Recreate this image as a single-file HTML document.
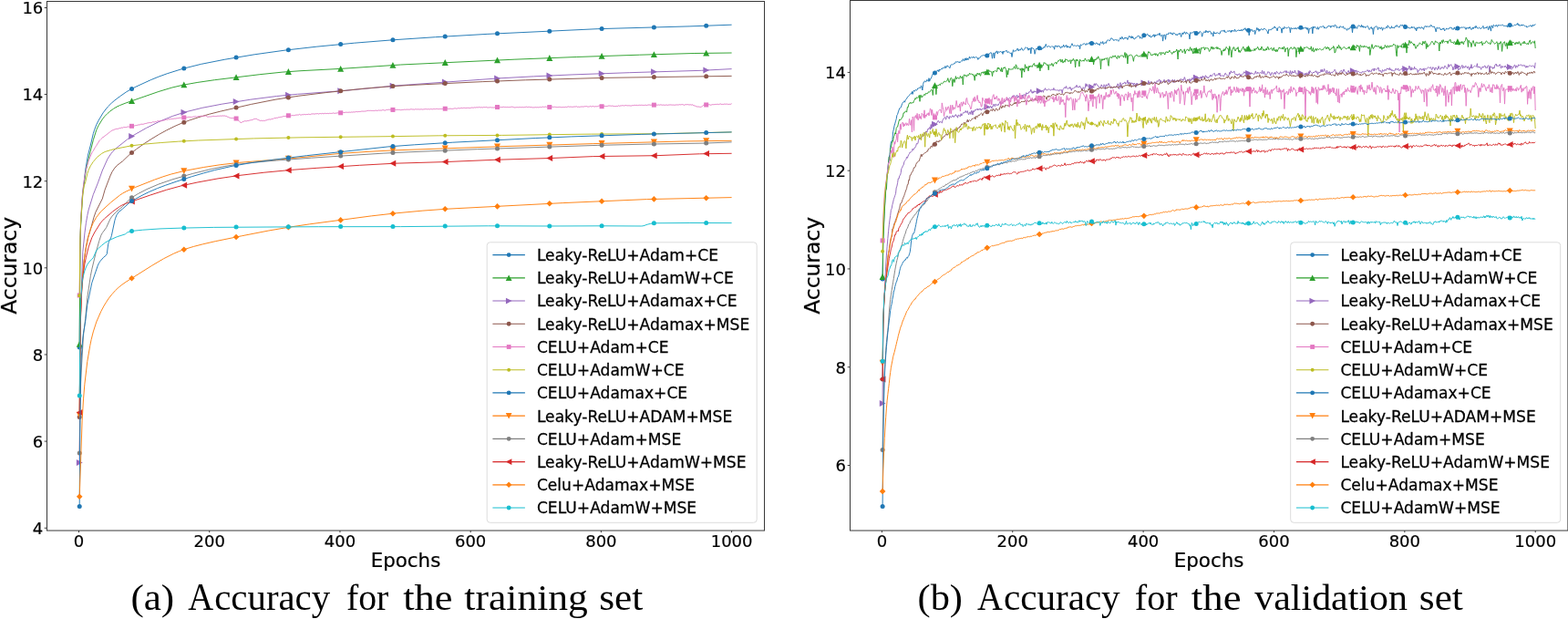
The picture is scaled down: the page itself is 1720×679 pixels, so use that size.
<!DOCTYPE html><html><head><meta charset="utf-8"><title>Accuracy curves</title><style>
html,body{margin:0;padding:0;background:#fff;width:1720px;height:679px;overflow:hidden}
svg{display:block}
.tk{font-family:'DejaVu Sans', 'Liberation Sans', sans-serif;font-size:18px;fill:#000;stroke:#000;stroke-width:0.2px}
.lg{font-family:'DejaVu Sans', 'Liberation Sans', sans-serif;font-size:17.1px;fill:#000;stroke:#000;stroke-width:0.28px}
.xl{font-family:'DejaVu Sans', 'Liberation Sans', sans-serif;font-size:21.4px;fill:#000;stroke:#000;stroke-width:0.22px}
.yl{font-family:'DejaVu Sans', 'Liberation Sans', sans-serif;font-size:23.4px;fill:#000;stroke:#000;stroke-width:0.22px}
.cap{font-family:'Liberation Serif','DejaVu Serif',serif;fill:#000}
.ax{stroke:#383838;stroke-width:1;fill:none}
.ln path{fill:none;stroke-width:0.95;stroke-linejoin:round;stroke-linecap:butt}
</style></head><body>
<svg width="1720" height="679" viewBox="0 0 1720 679">
<rect width="1720" height="679" fill="#fff"/>
<g class="ln">
<path d="M87.2 381L87.9 268L88.6 245L90.1 219L90.8 210L92.2 200L93.7 186.3L96.5 170.1L99.4 159L102.3 146.5L103.7 142.2L105.8 136.8L108 132.3L113 123.9L115.9 120L118.7 116.7L122.3 113.1L125.9 110L131.6 105.7L138.8 100.7L143.1 98.2L148.1 95.6L165.3 87.7L173.9 84.2L183.2 80.8L200.4 75.4L220.4 70.4L246.2 65.3L279.1 59.8L312.1 55.2L347.2 51.2L388.7 47.2L430.9 43.8L477.5 40.7L534.1 37.4L655.1 31.7L756.1 28.9L802.6 27.2" stroke="#1f77b4"/>
<circle cx="87.22" cy="381.00" r="2.50" fill="#1f77b4"/><circle cx="144.50" cy="97.40" r="2.50" fill="#1f77b4"/><circle cx="201.79" cy="75.00" r="2.50" fill="#1f77b4"/><circle cx="259.08" cy="63.00" r="2.50" fill="#1f77b4"/><circle cx="316.37" cy="54.70" r="2.50" fill="#1f77b4"/><circle cx="373.66" cy="48.60" r="2.50" fill="#1f77b4"/><circle cx="430.94" cy="43.80" r="2.50" fill="#1f77b4"/><circle cx="488.23" cy="40.00" r="2.50" fill="#1f77b4"/><circle cx="545.52" cy="36.80" r="2.50" fill="#1f77b4"/><circle cx="602.81" cy="34.20" r="2.50" fill="#1f77b4"/><circle cx="660.10" cy="31.50" r="2.50" fill="#1f77b4"/><circle cx="717.38" cy="30.00" r="2.50" fill="#1f77b4"/><circle cx="774.67" cy="28.30" r="2.50" fill="#1f77b4"/>
<path d="M87.2 377.5L87.9 270L88.6 247L90.1 221L90.8 212L94.4 186.4L96.5 176.7L102.3 153.7L105.8 142.5L108 137.8L112.3 130.8L115.1 127.3L118 124.4L120.9 121.9L124.5 119.3L128 117.2L131.6 115.5L138.8 112.7L173.9 100.5L188.2 96.2L200.4 93.3L216.1 90.5L235.4 87.7L284.9 81.7L309.9 79.1L330 77.7L375.1 75.3L439.5 71L564.1 65.2L632.2 62.5L701.6 60.2L761.1 58.5L802.6 58" stroke="#2ca02c"/>
<polygon points="87.22,374.00 90.72,380.82 83.72,380.82" fill="#2ca02c"/><polygon points="144.50,107.20 148.00,114.03 141.00,114.03" fill="#2ca02c"/><polygon points="201.79,89.50 205.29,96.33 198.29,96.33" fill="#2ca02c"/><polygon points="259.08,81.30 262.58,88.12 255.58,88.12" fill="#2ca02c"/><polygon points="316.37,75.10 319.87,81.92 312.87,81.92" fill="#2ca02c"/><polygon points="373.66,71.90 377.16,78.73 370.16,78.73" fill="#2ca02c"/><polygon points="430.94,68.00 434.44,74.83 427.44,74.83" fill="#2ca02c"/><polygon points="488.23,65.10 491.73,71.92 484.73,71.92" fill="#2ca02c"/><polygon points="545.52,62.50 549.02,69.33 542.02,69.33" fill="#2ca02c"/><polygon points="602.81,60.10 606.31,66.92 599.31,66.92" fill="#2ca02c"/><polygon points="660.10,58.00 663.60,64.83 656.60,64.83" fill="#2ca02c"/><polygon points="717.38,56.20 720.88,63.03 713.88,63.03" fill="#2ca02c"/><polygon points="774.67,54.80 778.17,61.62 771.17,61.62" fill="#2ca02c"/>
<path d="M87.2 507.4L87.9 385L88.6 342L89.4 315L90.8 276.7L92.9 255.9L94.4 244.6L95.8 236.4L97.2 230L102.3 213.4L107.3 200.9L112.3 187L118 174.3L121.6 168.8L123.7 166.3L126.6 163.3L139.5 153L144.5 149.5L160.3 140.5L175.3 133.1L189.6 127.3L203.2 122.9L221.8 118.3L243.3 114.2L274.8 109.2L303.5 105.5L326.4 103.3L375.8 99.6L433.8 94L547 85.9L585.6 83.8L627.9 81.9L690.2 79.7L769.7 77.3L802.6 75.6" stroke="#9467bd"/>
<polygon points="90.72,507.40 83.89,503.90 83.89,510.90" fill="#9467bd"/><polygon points="148.00,149.50 141.18,146.00 141.18,153.00" fill="#9467bd"/><polygon points="205.29,123.30 198.47,119.80 198.47,126.80" fill="#9467bd"/><polygon points="262.58,111.60 255.76,108.10 255.76,115.10" fill="#9467bd"/><polygon points="319.87,104.20 313.04,100.70 313.04,107.70" fill="#9467bd"/><polygon points="377.16,99.80 370.33,96.30 370.33,103.30" fill="#9467bd"/><polygon points="434.44,94.20 427.62,90.70 427.62,97.70" fill="#9467bd"/><polygon points="491.73,90.10 484.91,86.60 484.91,93.60" fill="#9467bd"/><polygon points="549.02,86.00 542.20,82.50 542.20,89.50" fill="#9467bd"/><polygon points="606.31,83.00 599.48,79.50 599.48,86.50" fill="#9467bd"/><polygon points="663.60,80.70 656.77,77.20 656.77,84.20" fill="#9467bd"/><polygon points="720.88,78.80 714.06,75.30 714.06,82.30" fill="#9467bd"/><polygon points="778.17,77.10 771.35,73.60 771.35,80.60" fill="#9467bd"/>
<path d="M87.2 457.5L87.9 378L88.6 343L89.4 322L90.1 310L92.2 285.7L94.4 271.2L96.5 260.9L100.1 248.9L103 238.2L105.1 232.3L112.3 218L115.1 208.1L120.9 193L123 188.5L125.9 184.1L128.7 181.2L134.5 176.8L143.1 168.6L149.5 163.7L158.1 157.6L166 152.5L174.6 147.3L182.5 143L191.1 138.7L198.9 135.3L208.2 131.8L219 128.3L229.7 125.2L241.9 122.1L275.6 114.4L302 109.2L327.1 105.3L357.2 101.6L398 97.3L423.8 95.1L448.8 93.5L529.8 89.6L576.3 87.8L662.2 85.4L802.6 83.4" stroke="#8c564b"/>
<circle cx="87.22" cy="457.50" r="2.50" fill="#8c564b"/><circle cx="144.50" cy="167.40" r="2.50" fill="#8c564b"/><circle cx="201.79" cy="134.20" r="2.50" fill="#8c564b"/><circle cx="259.08" cy="118.00" r="2.50" fill="#8c564b"/><circle cx="316.37" cy="106.90" r="2.50" fill="#8c564b"/><circle cx="373.66" cy="99.80" r="2.50" fill="#8c564b"/><circle cx="430.94" cy="94.60" r="2.50" fill="#8c564b"/><circle cx="488.23" cy="91.60" r="2.50" fill="#8c564b"/><circle cx="545.52" cy="88.90" r="2.50" fill="#8c564b"/><circle cx="602.81" cy="86.90" r="2.50" fill="#8c564b"/><circle cx="660.10" cy="85.40" r="2.50" fill="#8c564b"/><circle cx="717.38" cy="84.50" r="2.50" fill="#8c564b"/><circle cx="774.67" cy="83.80" r="2.50" fill="#8c564b"/>
<path d="M87.2 324L87.9 266L88.6 243L89.4 228.8L90.1 217.7L90.8 209.9L91.5 203.7L92.2 198.5L92.9 193.4L93.7 189.9L94.4 186.1L95.1 183.1L95.8 180.7L96.5 178.4L97.2 176.3L98 174.4L98.7 172.6L99.4 170.9L100.1 169.4L100.8 167.7L101.5 166.5L102.3 165.5L103 164.1L103.7 162.8L104.4 161.6L105.1 160.6L105.8 159.7L106.6 158.2L107.3 157.1L108 156.2L108.7 154.7L109.4 153.9L110.1 153.3L110.8 152.6L111.6 151.9L112.3 151.3L113 150.2L113.7 150.3L114.4 149.5L115.1 148.9L115.9 148.6L116.6 148.1L117.3 147.3L118 146.7L118.7 146.3L119.4 145.7L120.2 145.3L120.9 144.5L121.6 143.8L122.3 143.5L123 143.1L123.7 142.7L124.5 142.6L125.2 142.2L125.9 142L126.6 141.7L127.3 141.5L128 141.1L128.7 141.4L129.5 141.3L130.2 140.8L130.9 140.9L131.6 140.6L132.3 140.6L133 140L133.8 140L134.5 140.2L135.2 140.1L135.9 139.3L136.6 139.6L137.3 139.7L138.1 139.5L138.8 139.8L139.5 139.1L140.2 139.1L140.9 138.8L141.6 139.1L142.4 138.5L143.1 138.4L143.8 138.2L144.5 138.3L145.2 138.3L145.9 138.3L146.7 138.2L147.4 138L148.1 137.8L148.8 137.6L149.5 137.5L150.2 137.6L150.9 137.1L151.7 137L152.4 136.9L153.1 136.9L153.8 136.7L154.5 136.3L155.2 136.2L156 136.3L156.7 136.3L157.4 136.2L158.1 136L158.8 135.6L159.5 135.5L160.3 135.4L161 135.4L161.7 134.9L162.4 134.8L163.1 134.7L163.8 134.6L164.6 134.5L165.3 134.7L166 134.5L166.7 134.3L167.4 133.7L168.1 134L168.9 133.7L169.6 133.9L170.3 133.4L171 133.7L171.7 133.5L172.4 132.9L173.1 132.8L173.9 132.7L174.6 132.8L175.3 132.9L176 133L176.7 132.6L177.4 132.5L178.2 132.1L178.9 132.3L179.6 132L180.3 132L181 131.4L181.7 131.4L182.5 131.1L183.2 131.4L183.9 131.1L184.6 130.8L185.3 130.8L186 130.8L186.8 130.7L187.5 130.4L188.2 130.4L188.9 130.7L189.6 130.3L190.3 130.3L191.1 130.1L191.8 130L192.5 130.1L193.2 130L193.9 129.7L194.6 129.7L195.3 129.6L196.1 129.7L196.8 129.2L197.5 129.2L198.2 129.3L198.9 129.1L199.6 128.9L200.4 128.7L201.1 128.7L201.8 128.9L202.5 128.8L203.2 128.8L203.9 128.8L204.7 128.8L205.4 128.9L206.1 128.2L206.8 128.5L207.5 128.3L208.2 128.4L209 128.4L209.7 128.4L210.4 128.5L211.1 128.2L211.8 128.2L212.5 128L213.2 127.9L214 128L214.7 127.7L215.4 128.1L216.1 127.9L216.8 128L217.5 127.6L218.3 127.4L219 127.4L219.7 127.5L220.4 127.2L221.1 127.4L221.8 127.4L222.6 127.5L223.3 127.2L224 127.4L224.7 127L225.4 126.9L226.1 127.2L226.9 127.6L227.6 128.2L228.3 128.3L229 127.9L229.7 128L230.4 128.1L231.2 127.8L231.9 127.9L232.6 127.8L233.3 127.4L234 127.7L234.7 127.4L235.4 127.6L236.2 127.6L236.9 127.7L237.6 127.5L238.3 127.3L239 127.4L239.7 127.2L240.5 127.3L241.2 127.1L241.9 127.1L242.6 127.2L243.3 127.1L244 127.2L244.8 126.9L245.5 127.1L246.2 126.9L246.9 127.2L247.6 127.4L248.3 127.3L249.1 127.9L249.8 128.3L250.5 128.4L251.2 128.9L251.9 129.1L252.6 129.3L253.4 129.5L254.1 129.4L254.8 129.6L255.5 129.5L256.2 129.7L256.9 129.7L257.6 129.5L258.4 129.7L259.1 130L259.8 130.1L260.5 131.3L261.2 131.8L261.9 132.3L262.7 133.1L263.4 133.9L264.1 134.8L264.8 134.3L265.5 134L266.2 133.6L267 133L267.7 133.2L268.4 132.7L269.1 132.8L269.8 132.8L270.5 132.8L271.3 132.4L272 132.9L272.7 132.3L273.4 132.2L274.1 131.9L274.8 131.8L275.6 131.7L276.3 131.6L277 131.2L277.7 131.1L278.4 130.7L279.1 130.3L279.8 130.5L280.6 130.3L281.3 130.3L282 130.8L282.7 131.3L283.4 131.5L284.1 131.7L284.9 132.2L285.6 132.5L286.3 132.3L287 132.4L287.7 132.3L288.4 132.6L289.2 132.1L289.9 132.4L290.6 132.5L291.3 131.9L292 132.1L292.7 131.7L293.5 131.3L294.2 131.3L294.9 130.9L295.6 130.9L296.3 131.2L297 130.6L297.7 130.8L298.5 130.4L299.2 130.5L299.9 130.3L300.6 129.6L301.3 129.6L302 129.6L302.8 129.4L303.5 129.2L304.2 129.3L304.9 129.1L305.6 128.7L306.3 128.7L307.1 128.7L307.8 128.3L308.5 128.3L309.2 128.3L309.9 127.9L310.6 127.6L311.4 127.5L312.1 127.7L312.8 127.6L313.5 127.4L314.2 127.4L314.9 127.2L315.7 127.1L316.4 126.8L317.1 127L317.8 126.7L318.5 126.6L319.2 126.9L319.9 126.7L320.7 126.6L321.4 126.6L322.1 126.4L322.8 126.9L323.5 126.5L324.2 126.1L325 126.2L325.7 126.1L326.4 126L327.1 126.1L327.8 125.9L328.5 125.4L329.3 126L330 125.8L330.7 126.1L331.4 125.7L332.1 125.5L332.8 126L333.6 125.4L334.3 125.6L335 125.8L335.7 125.6L336.4 125.5L337.1 125.5L337.9 125.6L338.6 125.2L339.3 125.4L340 125.4L340.7 125.6L341.4 125.1L342.1 124.9L342.9 125L343.6 124.9L344.3 125L345 125L345.7 125L346.4 124.7L347.2 124.9L347.9 124.6L348.6 124.6L349.3 125.1L350 124.7L350.7 124.6L351.5 124.5L352.2 124.8L352.9 124.7L353.6 124.4L354.3 124.7L355 124.6L355.8 124.6L356.5 124.3L357.2 124.6L357.9 124.5L358.6 124.5L359.3 124.4L360.1 124.5L360.8 124.6L361.5 124.3L362.2 124.5L362.9 124.3L363.6 124.4L364.3 124.4L365.1 124.2L365.8 123.8L366.5 124.3L367.2 124.3L367.9 124.2L368.6 124.2L369.4 124L370.1 123.9L370.8 123.8L371.5 123.9L372.2 123.8L372.9 123.6L373.7 123.8L374.4 123.6L375.1 123.8L375.8 123.5L376.5 123.3L377.2 123.5L378 123.5L378.7 123.3L379.4 123.2L380.1 123.3L380.8 123.2L381.5 123.3L382.2 123.1L383 123.4L383.7 123.1L384.4 123.3L385.1 122.8L385.8 123.1L386.5 123.1L387.3 122.9L388 122.9L388.7 122.9L389.4 122.9L390.1 122.6L390.8 122.5L391.6 122.6L392.3 122.7L393 122.5L393.7 122.5L394.4 122.5L395.1 122.5L395.9 122.2L396.6 122.1L397.3 122.1L398 122L398.7 122.1L399.4 122.2L400.2 122.1L400.9 121.7L401.6 122L402.3 121.4L403 121.7L403.7 121.3L404.4 121.3L405.2 121.4L405.9 121.3L406.6 121.3L407.3 121.4L408 121.5L408.7 121.4L409.5 121.5L410.2 121.6L410.9 121.4L411.6 121.2L412.3 121.2L413 121.3L413.8 121.3L414.5 121.3L415.2 121L415.9 120.9L416.6 121.2L417.3 121L418.1 121.2L418.8 121L419.5 120.7L420.2 120.7L420.9 120.7L421.6 121L422.4 121.2L423.1 120.7L423.8 120.6L424.5 120.3L425.2 120.6L425.9 120.4L426.6 120.1L427.4 120.4L428.1 120L428.8 120.4L429.5 120.4L430.2 120.1L430.9 120.4L431.7 120.6L432.4 120.1L433.1 120.2L433.8 120.5L434.5 120.5L435.2 120.3L436 120.3L436.7 120.4L437.4 120.3L438.1 120.5L438.8 120.4L439.5 120.7L440.3 120.6L441 120.4L441.7 120.4L442.4 120.4L443.1 120.3L443.8 120L444.5 120.3L445.3 120.1L446 120.3L446.7 120.1L447.4 120.1L448.1 120L448.8 120.3L449.6 120.1L450.3 119.8L451 119.9L451.7 119.8L452.4 120L453.1 119.9L453.9 120.1L454.6 120.2L455.3 119.8L456 119.9L456.7 119.8L457.4 120L458.2 119.8L458.9 119.8L459.6 120L460.3 120L461 119.8L461.7 119.9L462.5 119.8L463.2 120L463.9 120.1L464.6 119.9L465.3 119.8L466 119.8L466.7 119.6L467.5 119.7L468.2 119.7L468.9 119.9L469.6 119.8L470.3 119.6L471 120L471.8 119.9L472.5 119.5L473.2 119.7L473.9 119.8L474.6 119.8L475.3 119.5L476.1 119.8L476.8 119.4L477.5 119.7L478.2 119.4L478.9 119.4L479.6 119.4L480.4 119.6L481.1 119.5L481.8 119.7L482.5 119.5L483.2 119.4L483.9 119.7L484.7 119.5L485.4 119.4L486.1 119.7L486.8 119.3L487.5 119.4L488.2 119.2L488.9 119.4L489.7 118.9L490.4 118.8L491.1 119.1L491.8 119.5L492.5 119.3L493.2 119.2L494 119.4L494.7 119.2L495.4 119.4L496.1 119.5L496.8 119.3L497.5 119.2L498.3 118.9L499 119L499.7 118.8L500.4 119.1L501.1 119.4L501.8 118.8L502.6 118.6L503.3 118.7L504 118.8L504.7 118.8L505.4 118.6L506.1 118.4L506.9 118.4L507.6 118.7L508.3 118.3L509 118.5L509.7 118.3L510.4 118.5L511.1 118.5L511.9 118.4L512.6 118.4L513.3 118.2L514 118.5L514.7 118.5L515.4 118.5L516.2 118.5L516.9 118.1L517.6 118L518.3 118.1L519 118.3L519.7 118.1L520.5 117.8L521.2 118.1L521.9 117.9L522.6 117.8L523.3 117.7L524 117.9L524.8 117.9L525.5 117.4L526.2 117.8L526.9 117.8L527.6 117.8L528.3 117.7L529 118L529.8 117.9L530.5 117.5L531.2 117.7L531.9 117.6L532.6 117.7L533.3 117.4L534.1 118L534.8 117.8L535.5 118L536.2 117.8L536.9 117.9L537.6 117.8L538.4 117.7L539.1 117.9L539.8 118.1L540.5 117.9L541.2 118.2L541.9 117.9L542.7 117.8L543.4 118.1L544.1 117.7L544.8 117.9L545.5 117.5L546.2 117.6L547 117.3L547.7 117.3L548.4 117.6L549.1 117.6L549.8 117.6L550.5 117.6L551.2 117.6L552 117.2L552.7 117.3L553.4 117.5L554.1 117.4L554.8 117.5L555.5 117.6L556.3 117.5L557 117.3L557.7 117.7L558.4 117.6L559.1 117.6L559.8 117.5L560.6 117.3L561.3 117.1L562 117.5L562.7 117.3L563.4 117.6L564.1 117.8L564.9 118L565.6 117.8L566.3 117.7L567 117.8L567.7 117.6L568.4 117.8L569.2 117.6L569.9 117.5L570.6 117.6L571.3 117.6L572 117.9L572.7 117.6L573.4 117.5L574.2 117.8L574.9 117.7L575.6 117.5L576.3 117.5L577 117.2L577.7 117.2L578.5 117.6L579.2 117.4L579.9 117.5L580.6 117.3L581.3 117.6L582 117.6L582.8 117.6L583.5 117.7L584.2 117.7L584.9 118.2L585.6 117.8L586.3 117.8L587.1 117.9L587.8 117.5L588.5 117.8L589.2 117.7L589.9 117.7L590.6 117.8L591.4 117.8L592.1 117.3L592.8 117.5L593.5 117.7L594.2 117.5L594.9 117.3L595.6 117.1L596.4 117.4L597.1 117.3L597.8 117.2L598.5 117L599.2 117.6L599.9 116.9L600.7 117.1L601.4 117.7L602.1 117.4L602.8 117.5L603.5 117.1L604.2 117.6L605 117.1L605.7 117.4L606.4 117.3L607.1 117.3L607.8 117.5L608.5 117.2L609.3 117.4L610 117.5L610.7 117.5L611.4 117.6L612.1 117.6L612.8 117.4L613.5 117.4L614.3 117.4L615 117.4L615.7 117.8L616.4 117.6L617.1 117.7L617.8 117.5L618.6 117.5L619.3 117.7L620 117.3L620.7 117.3L621.4 117.6L622.1 117.2L622.9 117.2L623.6 116.9L624.3 117.2L625 117.1L625.7 117.2L626.4 117.1L627.2 117.3L627.9 117.4L628.6 117.2L629.3 117.2L630 117L630.7 117L631.5 117L632.2 116.7L632.9 117L633.6 117.4L634.3 117.2L635 117.1L635.7 117.4L636.5 117.2L637.2 117L637.9 117.1L638.6 117L639.3 117L640 117.2L640.8 116.9L641.5 116.7L642.2 116.7L642.9 116.8L643.6 116.6L644.3 117L645.1 117L645.8 117.1L646.5 117L647.2 116.6L647.9 116.4L648.6 117L649.4 116.8L650.1 116.3L650.8 116.7L651.5 116.9L652.2 117L652.9 116.8L653.7 116.7L654.4 116.8L655.1 116.8L655.8 116.6L656.5 116.3L657.2 116L657.9 116.2L658.7 116.4L659.4 116.7L660.1 116.7L660.8 116.4L661.5 116.4L662.2 116.4L663 116.7L663.7 116.3L664.4 116.6L665.1 116.6L665.8 116.4L666.5 116.4L667.3 116L668 116.3L668.7 116L669.4 116.1L670.1 116.1L670.8 116.4L671.6 116.1L672.3 116.3L673 116.3L673.7 116.6L674.4 116.7L675.1 116.5L675.9 116.7L676.6 116.4L677.3 116.6L678 116.2L678.7 115.8L679.4 116.3L680.1 116.2L680.9 115.9L681.6 115.9L682.3 115.8L683 115.9L683.7 115.7L684.4 116.1L685.2 115.8L685.9 115.5L686.6 115.5L687.3 115.8L688 115.7L688.7 115.9L689.5 115.8L690.2 115.8L690.9 115.9L691.6 116L692.3 116.1L693 115.9L693.8 115.6L694.5 115.7L695.2 115.4L695.9 115.7L696.6 115.3L697.3 115.6L698 115.3L698.8 115.4L699.5 115.7L700.2 115.6L700.9 115.2L701.6 115.3L702.3 115.4L703.1 115.4L703.8 115.2L704.5 115.4L705.2 115.3L705.9 115.5L706.6 115.5L707.4 115.3L708.1 115.2L708.8 115.4L709.5 115.5L710.2 115.2L710.9 115.2L711.7 115L712.4 115L713.1 115.4L713.8 115.2L714.5 115.2L715.2 114.8L716 115.2L716.7 114.9L717.4 115.1L718.1 114.9L718.8 114.8L719.5 114.8L720.2 115.2L721 115L721.7 115.2L722.4 115L723.1 114.9L723.8 115.4L724.5 114.9L725.3 115L726 115L726.7 115.3L727.4 115.1L728.1 115.3L728.8 115.2L729.6 115.3L730.3 115.1L731 115.3L731.7 115.1L732.4 115.4L733.1 114.9L733.9 115.2L734.6 115L735.3 114.9L736 115.2L736.7 115L737.4 115.2L738.2 114.9L738.9 115.3L739.6 115.3L740.3 115.1L741 115.1L741.7 115.1L742.4 114.9L743.2 115L743.9 115.1L744.6 114.9L745.3 114.7L746 114.8L746.7 114.9L747.5 114.7L748.2 114.5L748.9 114.8L749.6 114.9L750.3 115.3L751 115.1L751.8 114.8L752.5 114.6L753.2 114.9L753.9 114.6L754.6 114.6L755.3 114.9L756.1 114.9L756.8 114.9L757.5 114.8L758.2 115L758.9 115.2L759.6 114.7L760.4 115.7L761.1 115.5L761.8 116.1L762.5 116.1L763.2 116.6L763.9 116.9L764.6 116.9L765.4 117.1L766.1 117.1L766.8 117L767.5 117.3L768.2 117.4L768.9 117.3L769.7 117.1L770.4 116.4L771.1 115.9L771.8 115.2L772.5 115L773.2 115.3L774 114.9L774.7 115L775.4 114.7L776.1 115L776.8 115.2L777.5 114.7L778.3 114.8L779 114.9L779.7 115.3L780.4 115L781.1 114.7L781.8 114.7L782.5 114.7L783.3 114.7L784 114.5L784.7 114.5L785.4 114.4L786.1 114.5L786.8 114.4L787.6 114.3L788.3 114.7L789 114.3L789.7 114.1L790.4 114L791.1 114.3L791.9 114.5L792.6 114.4L793.3 114.5L794 114.1L794.7 114.2L795.4 114.1L796.2 114.3L796.9 114.3L797.6 114L798.3 114.7L799 114L799.7 114.4L800.5 114.4L801.2 114.3L801.9 114.2L802.6 113.7" stroke="#e377c2"/>
<rect x="84.72" y="321.50" width="5.00" height="5.00" fill="#e377c2"/><rect x="142.00" y="135.82" width="5.00" height="5.00" fill="#e377c2"/><rect x="199.29" y="126.45" width="5.00" height="5.00" fill="#e377c2"/><rect x="256.58" y="127.50" width="5.00" height="5.00" fill="#e377c2"/><rect x="313.87" y="124.29" width="5.00" height="5.00" fill="#e377c2"/><rect x="371.16" y="121.28" width="5.00" height="5.00" fill="#e377c2"/><rect x="428.44" y="117.92" width="5.00" height="5.00" fill="#e377c2"/><rect x="485.73" y="116.71" width="5.00" height="5.00" fill="#e377c2"/><rect x="543.02" y="115.03" width="5.00" height="5.00" fill="#e377c2"/><rect x="600.31" y="115.03" width="5.00" height="5.00" fill="#e377c2"/><rect x="657.60" y="114.25" width="5.00" height="5.00" fill="#e377c2"/><rect x="714.88" y="112.63" width="5.00" height="5.00" fill="#e377c2"/><rect x="772.17" y="112.47" width="5.00" height="5.00" fill="#e377c2"/>
<path d="M87.2 324.3L87.9 262L88.6 244L90.8 214L92.2 204L93.7 199.8L95.8 190.5L97.2 186.4L99.4 181.8L102.3 177.4L106.6 172.4L111.6 168.4L115.1 166.5L121.6 164.5L128 163L143.8 159.9L159.5 158L176.7 156.5L195.3 155.2L217.5 154L278.4 151.9L330 150.8L432.4 149.6L481.8 148.8L550.5 148.4L648.6 147.1L723.8 146.7L802.6 144.9" stroke="#bcbd22"/>
<circle cx="87.22" cy="324.30" r="2.00" fill="#bcbd22"/><circle cx="144.50" cy="159.80" r="2.00" fill="#bcbd22"/><circle cx="201.79" cy="154.80" r="2.00" fill="#bcbd22"/><circle cx="259.08" cy="152.50" r="2.00" fill="#bcbd22"/><circle cx="316.37" cy="151.00" r="2.00" fill="#bcbd22"/><circle cx="373.66" cy="150.20" r="2.00" fill="#bcbd22"/><circle cx="430.94" cy="149.60" r="2.00" fill="#bcbd22"/><circle cx="488.23" cy="148.70" r="2.00" fill="#bcbd22"/><circle cx="545.52" cy="148.40" r="2.00" fill="#bcbd22"/><circle cx="602.81" cy="147.60" r="2.00" fill="#bcbd22"/><circle cx="660.10" cy="147.00" r="2.00" fill="#bcbd22"/><circle cx="717.38" cy="146.80" r="2.00" fill="#bcbd22"/><circle cx="774.67" cy="145.50" r="2.00" fill="#bcbd22"/>
<path d="M87.2 455L87.9 378L88.6 343L89.4 322L90.8 300.6L92.2 285.7L94.4 271.2L96.5 260.9L99.4 251.1L102.3 244.3L105.8 238.2L110.8 231.9L121.6 222L131.6 214L134.5 212.1L138.8 209.8L148.8 205.3L169.6 197.1L178.9 193.8L187.5 191.1L201.8 187.5L223.3 183.5L241.9 180.7L262.7 178.3L316.4 174L372.2 168.5L403 166.4L431.7 164.9L552 160.6L650.8 157.6L753.9 154.9L802.6 154.3" stroke="#ff7f0e"/>
<polygon points="87.22,458.50 90.72,451.68 83.72,451.68" fill="#ff7f0e"/><polygon points="144.50,210.60 148.00,203.78 141.00,203.78" fill="#ff7f0e"/><polygon points="201.79,191.00 205.29,184.18 198.29,184.18" fill="#ff7f0e"/><polygon points="259.08,182.20 262.58,175.38 255.58,175.38" fill="#ff7f0e"/><polygon points="316.37,177.50 319.87,170.68 312.87,170.68" fill="#ff7f0e"/><polygon points="373.66,171.90 377.16,165.08 370.16,165.08" fill="#ff7f0e"/><polygon points="430.94,168.40 434.44,161.58 427.44,161.58" fill="#ff7f0e"/><polygon points="488.23,166.40 491.73,159.58 484.73,159.58" fill="#ff7f0e"/><polygon points="545.52,164.30 549.02,157.48 542.02,157.48" fill="#ff7f0e"/><polygon points="602.81,162.50 606.31,155.68 599.31,155.68" fill="#ff7f0e"/><polygon points="660.10,160.80 663.60,153.98 656.60,153.98" fill="#ff7f0e"/><polygon points="717.38,159.40 720.88,152.58 713.88,152.58" fill="#ff7f0e"/><polygon points="774.67,158.00 778.17,151.18 771.17,151.18" fill="#ff7f0e"/>
<path d="M87.2 497.1L87.9 450L88.6 420L89.4 403L91.5 368L93.7 349.4L95.8 326.3L99.4 302.3L100.8 295.3L105.1 277.5L108.7 264.6L110.8 258.2L112.3 255.5L116.6 249.7L120.9 240.2L123 237.1L127.3 232.5L134.5 226.5L140.9 219.7L143.8 217.2L151.7 212.4L161 207.6L173.9 202.1L188.9 196.9L211.8 190.3L231.9 185.4L246.2 182.5L260.5 180.3L279.8 178.1L303.5 176L341.4 173.2L420.9 168.1L448.1 166.8L523.3 163.7L655.1 159.4L710.9 158.1L772.5 157.1L802.6 155.9" stroke="#7f7f7f"/>
<circle cx="87.22" cy="497.10" r="2.50" fill="#7f7f7f"/><circle cx="144.50" cy="216.70" r="2.50" fill="#7f7f7f"/><circle cx="201.79" cy="193.10" r="2.50" fill="#7f7f7f"/><circle cx="259.08" cy="180.50" r="2.50" fill="#7f7f7f"/><circle cx="316.37" cy="175.00" r="2.50" fill="#7f7f7f"/><circle cx="373.66" cy="171.10" r="2.50" fill="#7f7f7f"/><circle cx="430.94" cy="167.60" r="2.50" fill="#7f7f7f"/><circle cx="488.23" cy="165.20" r="2.50" fill="#7f7f7f"/><circle cx="545.52" cy="162.90" r="2.50" fill="#7f7f7f"/><circle cx="602.81" cy="161.10" r="2.50" fill="#7f7f7f"/><circle cx="660.10" cy="159.30" r="2.50" fill="#7f7f7f"/><circle cx="717.38" cy="158.00" r="2.50" fill="#7f7f7f"/><circle cx="774.67" cy="157.00" r="2.50" fill="#7f7f7f"/>
<path d="M87.2 452.6L87.9 380L88.6 345L89.4 325L90.1 313L91.5 299.3L92.9 289.6L94.4 282.2L97.2 270.9L100.8 260.7L103.7 255L110.1 244.8L112.3 242.2L114.4 240L123.7 232L131.6 226.3L133.8 225.1L137.3 223.5L164.6 214.1L182.5 208.3L198.2 204L216.1 200.1L239 195.9L261.9 192.5L289.9 189.2L320.7 186.3L347.9 184.3L394.4 181.3L433.1 179.2L488.2 177.6L542.7 175.3L604.2 173.5L650.8 171.6L719.5 170.7L767.5 168.8L802.6 168.3" stroke="#d62728"/>
<polygon points="83.72,452.60 90.54,449.10 90.54,456.10" fill="#d62728"/><polygon points="141.00,221.00 147.83,217.50 147.83,224.50" fill="#d62728"/><polygon points="198.29,203.20 205.12,199.70 205.12,206.70" fill="#d62728"/><polygon points="255.58,192.90 262.41,189.40 262.41,196.40" fill="#d62728"/><polygon points="312.87,186.70 319.69,183.20 319.69,190.20" fill="#d62728"/><polygon points="370.16,182.60 376.98,179.10 376.98,186.10" fill="#d62728"/><polygon points="427.44,179.30 434.27,175.80 434.27,182.80" fill="#d62728"/><polygon points="484.73,177.60 491.56,174.10 491.56,181.10" fill="#d62728"/><polygon points="542.02,175.20 548.85,171.70 548.85,178.70" fill="#d62728"/><polygon points="599.31,173.50 606.13,170.00 606.13,177.00" fill="#d62728"/><polygon points="656.60,171.40 663.42,167.90 663.42,174.90" fill="#d62728"/><polygon points="713.88,170.70 720.71,167.20 720.71,174.20" fill="#d62728"/><polygon points="771.17,168.60 778.00,165.10 778.00,172.10" fill="#d62728"/>
<path d="M87.2 555.4L87.9 462L88.6 408L89.4 390L90.8 371L91.5 365.3L93.7 352.5L95.8 334.3L100.8 310.2L107.3 291.2L108.7 288.3L110.1 286.3L113.7 282.2L115.9 280.5L117.3 278.5L118.7 267.9L119.4 265.4L121.6 260.9L122.3 258.8L125.9 241.8L126.6 239.3L128 235.8L130.2 232.6L134.5 229.1L140.9 223.3L143.8 221.1L148.8 218.1L156 214.2L163.8 210.4L172.4 206.7L181.7 203.2L193.9 199L210.4 193.7L223.3 189.9L235.4 186.6L254.1 182.4L274.1 178.8L299.2 175.3L336.4 170.7L425.9 160.9L454.6 158.8L496.8 156.2L587.8 151.5L626.4 149.9L703.1 147.4L802.6 144.9" stroke="#1f77b4"/>
<circle cx="87.22" cy="555.40" r="2.50" fill="#1f77b4"/><circle cx="144.50" cy="220.60" r="2.50" fill="#1f77b4"/><circle cx="201.79" cy="196.40" r="2.50" fill="#1f77b4"/><circle cx="259.08" cy="181.40" r="2.50" fill="#1f77b4"/><circle cx="316.37" cy="173.10" r="2.50" fill="#1f77b4"/><circle cx="373.66" cy="166.70" r="2.50" fill="#1f77b4"/><circle cx="430.94" cy="160.50" r="2.50" fill="#1f77b4"/><circle cx="488.23" cy="156.70" r="2.50" fill="#1f77b4"/><circle cx="545.52" cy="153.70" r="2.50" fill="#1f77b4"/><circle cx="602.81" cy="150.80" r="2.50" fill="#1f77b4"/><circle cx="660.10" cy="148.70" r="2.50" fill="#1f77b4"/><circle cx="717.38" cy="147.00" r="2.50" fill="#1f77b4"/><circle cx="774.67" cy="145.60" r="2.50" fill="#1f77b4"/>
<path d="M87.2 544.7L90.1 461.9L91.5 437.9L92.9 421.2L95.8 396.5L98.7 379.5L100.1 372.6L102.3 363.9L105.8 353L110.8 341.6L113.7 336.1L116.6 331.3L119.4 327.1L123 322.6L126.6 318.6L130.2 315.2L133.8 312.3L138.1 309.3L166.7 291.3L179.6 283.7L190.3 278.3L196.8 275.5L203.2 273.2L212.5 270.4L222.6 267.8L236.2 264.7L265.5 258.7L294.2 253.1L316.4 249.3L339.3 245.9L407.3 236.9L433.8 233.9L463.9 231.1L490.4 229.2L617.8 222.6L709.5 218.6L802.6 216.6" stroke="#ff7f0e"/>
<polygon points="87.22,541.40 90.52,544.70 87.22,548.00 83.92,544.70" fill="#ff7f0e"/><polygon points="144.50,302.00 147.80,305.30 144.50,308.60 141.20,305.30" fill="#ff7f0e"/><polygon points="201.79,270.40 205.09,273.70 201.79,277.00 198.49,273.70" fill="#ff7f0e"/><polygon points="259.08,256.70 262.38,260.00 259.08,263.30 255.78,260.00" fill="#ff7f0e"/><polygon points="316.37,246.00 319.67,249.30 316.37,252.60 313.07,249.30" fill="#ff7f0e"/><polygon points="373.66,238.10 376.96,241.40 373.66,244.70 370.36,241.40" fill="#ff7f0e"/><polygon points="430.94,230.90 434.24,234.20 430.94,237.50 427.64,234.20" fill="#ff7f0e"/><polygon points="488.23,226.00 491.53,229.30 488.23,232.60 484.93,229.30" fill="#ff7f0e"/><polygon points="545.52,223.10 548.82,226.40 545.52,229.70 542.22,226.40" fill="#ff7f0e"/><polygon points="602.81,220.00 606.11,223.30 602.81,226.60 599.51,223.30" fill="#ff7f0e"/><polygon points="660.10,217.40 663.40,220.70 660.10,224.00 656.80,220.70" fill="#ff7f0e"/><polygon points="717.38,215.10 720.68,218.40 717.38,221.70 714.08,218.40" fill="#ff7f0e"/><polygon points="774.67,214.00 777.97,217.30 774.67,220.60 771.37,217.30" fill="#ff7f0e"/>
<path d="M87.2 433.9L87.9 360L88.6 330L90.1 310L90.8 305L92.9 297L94.4 293.1L95.8 290.2L98 287.1L100.8 284.4L102.3 282.6L105.8 274.7L107.3 273L111.6 269.2L115.9 265.8L120.9 263L128.7 259.6L137.3 256.9L139.5 255.1L142.4 253.9L145.9 253.3L156.7 252.2L176 250.9L199.6 250.1L234.7 249.4L349.3 248.7L439.5 248.6L535.5 247.8L602.8 248L662.2 247.8L703.8 248L705.9 247.7L710.2 246.2L713.8 245.3L717.4 244.8L756.1 244.5L802.6 244.6" stroke="#17becf"/>
<circle cx="87.22" cy="433.90" r="2.50" fill="#17becf"/><circle cx="144.50" cy="253.50" r="2.50" fill="#17becf"/><circle cx="201.79" cy="250.00" r="2.50" fill="#17becf"/><circle cx="259.08" cy="249.10" r="2.50" fill="#17becf"/><circle cx="316.37" cy="248.80" r="2.50" fill="#17becf"/><circle cx="373.66" cy="248.60" r="2.50" fill="#17becf"/><circle cx="430.94" cy="248.60" r="2.50" fill="#17becf"/><circle cx="488.23" cy="248.10" r="2.50" fill="#17becf"/><circle cx="545.52" cy="247.80" r="2.50" fill="#17becf"/><circle cx="602.81" cy="248.00" r="2.50" fill="#17becf"/><circle cx="660.10" cy="247.80" r="2.50" fill="#17becf"/><circle cx="717.38" cy="244.80" r="2.50" fill="#17becf"/><circle cx="774.67" cy="244.50" r="2.50" fill="#17becf"/>
</g>
<line x1="86.50" y1="582.00" x2="86.50" y2="584.20" class="ax"/>
<text x="86.50" y="599.5" class="tk" text-anchor="middle">0</text>
<line x1="229.72" y1="582.00" x2="229.72" y2="584.20" class="ax"/>
<text x="229.72" y="599.5" class="tk" text-anchor="middle">200</text>
<line x1="372.94" y1="582.00" x2="372.94" y2="584.20" class="ax"/>
<text x="372.94" y="599.5" class="tk" text-anchor="middle">400</text>
<line x1="516.16" y1="582.00" x2="516.16" y2="584.20" class="ax"/>
<text x="516.16" y="599.5" class="tk" text-anchor="middle">600</text>
<line x1="659.38" y1="582.00" x2="659.38" y2="584.20" class="ax"/>
<text x="659.38" y="599.5" class="tk" text-anchor="middle">800</text>
<line x1="802.60" y1="582.00" x2="802.60" y2="584.20" class="ax"/>
<text x="802.60" y="599.5" class="tk" text-anchor="middle">1000</text>
<line x1="48.70" y1="579.20" x2="51.50" y2="579.20" class="ax"/>
<text x="47.30" y="586.05" class="tk" text-anchor="end">4</text>
<line x1="48.70" y1="484.08" x2="51.50" y2="484.08" class="ax"/>
<text x="47.30" y="490.93" class="tk" text-anchor="end">6</text>
<line x1="48.70" y1="388.96" x2="51.50" y2="388.96" class="ax"/>
<text x="47.30" y="395.81" class="tk" text-anchor="end">8</text>
<line x1="48.70" y1="293.84" x2="51.50" y2="293.84" class="ax"/>
<text x="47.30" y="300.69" class="tk" text-anchor="end">10</text>
<line x1="48.70" y1="198.72" x2="51.50" y2="198.72" class="ax"/>
<text x="47.30" y="205.57" class="tk" text-anchor="end">12</text>
<line x1="48.70" y1="103.60" x2="51.50" y2="103.60" class="ax"/>
<text x="47.30" y="110.45" class="tk" text-anchor="end">14</text>
<line x1="48.70" y1="8.48" x2="51.50" y2="8.48" class="ax"/>
<text x="47.30" y="15.33" class="tk" text-anchor="end">16</text>
<text x="445.00" y="622" class="xl" text-anchor="middle">Epochs</text>
<text transform="translate(17.50 291.4) rotate(-90)" class="yl" text-anchor="middle">Accuracy</text>
<rect x="51.50" y="1.50" width="787.00" height="580.50" fill="none" class="ax"/>
<rect x="534.20" y="265.80" width="296.0" height="307.5" rx="3.5" ry="3.5" fill="#fff" fill-opacity="0.8" stroke="#dcdcdc" stroke-width="1"/>
<line x1="540.40" y1="279.60" x2="575.90" y2="279.60" stroke="#1f77b4" stroke-width="1.15"/>
<circle cx="558.15" cy="279.60" r="2.42" fill="#1f77b4"/>
<text x="588.90" y="286.00" class="lg">Leaky-ReLU+Adam+CE</text>
<line x1="540.40" y1="304.82" x2="575.90" y2="304.82" stroke="#2ca02c" stroke-width="1.15"/>
<polygon points="558.15,301.43 561.55,308.05 554.76,308.05" fill="#2ca02c"/>
<text x="588.90" y="311.22" class="lg">Leaky-ReLU+AdamW+CE</text>
<line x1="540.40" y1="330.04" x2="575.90" y2="330.04" stroke="#9467bd" stroke-width="1.15"/>
<polygon points="561.55,330.04 554.92,326.65 554.92,333.44" fill="#9467bd"/>
<text x="588.90" y="336.44" class="lg">Leaky-ReLU+Adamax+CE</text>
<line x1="540.40" y1="355.26" x2="575.90" y2="355.26" stroke="#8c564b" stroke-width="1.15"/>
<circle cx="558.15" cy="355.26" r="2.42" fill="#8c564b"/>
<text x="588.90" y="361.66" class="lg">Leaky-ReLU+Adamax+MSE</text>
<line x1="540.40" y1="380.48" x2="575.90" y2="380.48" stroke="#e377c2" stroke-width="1.15"/>
<rect x="555.73" y="378.06" width="4.85" height="4.85" fill="#e377c2"/>
<text x="588.90" y="386.88" class="lg">CELU+Adam+CE</text>
<line x1="540.40" y1="405.70" x2="575.90" y2="405.70" stroke="#bcbd22" stroke-width="1.15"/>
<circle cx="558.15" cy="405.70" r="1.94" fill="#bcbd22"/>
<text x="588.90" y="412.10" class="lg">CELU+AdamW+CE</text>
<line x1="540.40" y1="430.92" x2="575.90" y2="430.92" stroke="#1f77b4" stroke-width="1.15"/>
<circle cx="558.15" cy="430.92" r="2.42" fill="#1f77b4"/>
<text x="588.90" y="437.32" class="lg">CELU+Adamax+CE</text>
<line x1="540.40" y1="456.14" x2="575.90" y2="456.14" stroke="#ff7f0e" stroke-width="1.15"/>
<polygon points="558.15,459.53 561.55,452.91 554.76,452.91" fill="#ff7f0e"/>
<text x="588.90" y="462.54" class="lg">Leaky-ReLU+ADAM+MSE</text>
<line x1="540.40" y1="481.36" x2="575.90" y2="481.36" stroke="#7f7f7f" stroke-width="1.15"/>
<circle cx="558.15" cy="481.36" r="2.42" fill="#7f7f7f"/>
<text x="588.90" y="487.76" class="lg">CELU+Adam+MSE</text>
<line x1="540.40" y1="506.58" x2="575.90" y2="506.58" stroke="#d62728" stroke-width="1.15"/>
<polygon points="554.76,506.58 561.38,503.19 561.38,509.98" fill="#d62728"/>
<text x="588.90" y="512.98" class="lg">Leaky-ReLU+AdamW+MSE</text>
<line x1="540.40" y1="531.80" x2="575.90" y2="531.80" stroke="#ff7f0e" stroke-width="1.15"/>
<polygon points="558.15,528.60 561.35,531.80 558.15,535.00 554.95,531.80" fill="#ff7f0e"/>
<text x="588.90" y="538.20" class="lg">Celu+Adamax+MSE</text>
<line x1="540.40" y1="557.02" x2="575.90" y2="557.02" stroke="#17becf" stroke-width="1.15"/>
<circle cx="558.15" cy="557.02" r="2.42" fill="#17becf"/>
<text x="588.90" y="563.42" class="lg">CELU+AdamW+MSE</text>
<g class="ln">
<path d="M968.1 306L968.8 262L969.6 243L970.3 229.2L971 217.5L971.7 206.7L972.4 198.6L973.1 192L973.9 183.9L974.6 177.7L975.3 172L976 169.9L976.7 161.3L977.4 155.4L978.2 155L978.9 153.8L979.6 144.4L980.3 142.1L981 138L981.7 135.9L982.5 132.8L983.2 130.5L983.9 126.4L984.6 125.4L985.3 122.9L986 120.9L986.8 118.7L987.5 118.4L988.2 117.9L988.9 116L989.6 113.6L990.3 113.1L991.1 111.5L991.8 110.9L992.5 112.2L993.2 109.5L993.9 109.1L994.6 108.3L995.4 106.4L996.1 105.8L996.8 105.5L997.5 104.5L998.2 103.4L998.9 102.6L999.7 103L1000.4 100.5L1001.1 103.4L1001.8 100.3L1002.5 99.1L1003.2 100.3L1004 99.1L1004.7 98.3L1005.4 99.3L1006.1 98.4L1006.8 96.8L1007.5 96.9L1008.3 96.3L1009 96L1009.7 96.8L1010.4 94L1011.1 94.6L1011.8 99L1012.6 92.4L1013.3 90L1014 89.8L1014.7 88.7L1015.4 89.9L1016.1 89.5L1016.9 87.4L1017.6 88.3L1018.3 89.3L1019 85.7L1019.7 89.2L1020.4 86.7L1021.2 86.3L1021.9 84.4L1022.6 82.6L1023.3 81L1024 81.2L1024.7 80.8L1025.5 80.1L1026.2 78.2L1026.9 78.5L1027.6 78L1028.3 77.9L1029 76.7L1029.8 78.7L1030.5 76L1031.2 77.1L1031.9 76.1L1032.6 75.5L1033.3 75.9L1034.1 74.3L1034.8 75L1035.5 74.3L1036.2 74.7L1036.9 72.5L1037.6 74.6L1038.4 73.5L1039.1 71.8L1039.8 72.9L1040.5 73.1L1041.2 73.7L1041.9 74.8L1042.7 71.5L1043.4 70.9L1044.1 71.1L1044.8 70.8L1045.5 70.3L1046.2 69.8L1047 70.1L1047.7 69.1L1048.4 67.7L1049.1 68L1049.8 68L1050.5 67.5L1051.3 68.5L1052 67.6L1052.7 68.9L1053.4 68L1054.1 67.5L1054.8 66.5L1055.6 67.1L1056.3 64.7L1057 65.9L1057.7 66.8L1058.4 64.1L1059.2 66.2L1059.9 63.6L1060.6 65.7L1061.3 63.9L1062 65.7L1062.7 64.6L1063.5 62L1064.2 64.1L1064.9 63.5L1065.6 62.5L1066.3 63.1L1067 63.5L1067.8 62L1068.5 63.4L1069.2 63L1069.9 63.3L1070.6 62.5L1071.3 62.9L1072.1 63.2L1072.8 65.4L1073.5 63.7L1074.2 64.2L1074.9 63.3L1075.6 61.9L1076.4 61.4L1077.1 61.1L1077.8 61L1078.5 60.6L1079.2 60.6L1079.9 60.8L1080.7 60.5L1081.4 62.2L1082.1 60L1082.8 61L1083.5 61.2L1084.2 61.6L1085 58.6L1085.7 58.7L1086.4 58L1087.1 57.5L1087.8 59.6L1088.5 64.2L1089.3 58.5L1090 57.9L1090.7 63.9L1091.4 57.9L1092.1 58.1L1092.8 56.4L1093.6 56L1094.3 59.1L1095 56.5L1095.7 57.2L1096.4 57.2L1097.1 56.7L1097.9 56.4L1098.6 57.4L1099.3 56.7L1100 59.4L1100.7 56L1101.4 57.1L1102.2 56.4L1102.9 56.1L1103.6 55.6L1104.3 55.3L1105 57.6L1105.7 57.3L1106.5 56.7L1107.2 57.6L1107.9 58.5L1108.6 58.4L1109.3 57.9L1110 62.5L1110.8 58L1111.5 54.7L1112.2 56.5L1112.9 55.8L1113.6 55.9L1114.3 55.8L1115.1 55.3L1115.8 53.3L1116.5 53.4L1117.2 55.9L1117.9 54.2L1118.6 54.8L1119.4 55L1120.1 53.2L1120.8 52.6L1121.5 54.8L1122.2 55.4L1122.9 54.8L1123.7 54L1124.4 52.8L1125.1 51.7L1125.8 52.4L1126.5 52.6L1127.2 52.2L1128 55.2L1128.7 53.2L1129.4 54.2L1130.1 52.7L1130.8 58.8L1131.5 52.1L1132.3 52.4L1133 53.5L1133.7 53.2L1134.4 54.4L1135.1 59.3L1135.8 56.2L1136.6 53.2L1137.3 53.9L1138 52.8L1138.7 52.9L1139.4 53.4L1140.1 52.7L1140.9 53.1L1141.6 51.9L1142.3 54.7L1143 52.5L1143.7 53.6L1144.4 52.9L1145.2 51.3L1145.9 52.3L1146.6 49.8L1147.3 48.4L1148 50.5L1148.8 51.7L1149.5 50.9L1150.2 50.6L1150.9 50.5L1151.6 51.6L1152.3 51.9L1153.1 51.4L1153.8 50.6L1154.5 50.9L1155.2 51.7L1155.9 51.1L1156.6 54.2L1157.4 49.9L1158.1 50.7L1158.8 49.9L1159.5 51.8L1160.2 50.5L1160.9 50.5L1161.7 50.5L1162.4 50.7L1163.1 52.5L1163.8 52.8L1164.5 50.8L1165.2 51.5L1166 51.3L1166.7 49.1L1167.4 51.7L1168.1 51.2L1168.8 50.7L1169.5 49.3L1170.3 52.2L1171 50.3L1171.7 51.9L1172.4 51.5L1173.1 51L1173.8 52.6L1174.6 50.5L1175.3 49.6L1176 47.7L1176.7 49.8L1177.4 50.3L1178.1 49.8L1178.9 50.2L1179.6 49.9L1180.3 50.6L1181 50.3L1181.7 49.9L1182.4 49.7L1183.2 50.8L1183.9 49.9L1184.6 53.7L1185.3 48.9L1186 49.1L1186.7 49.8L1187.5 49L1188.2 48.2L1188.9 48L1189.6 47.7L1190.3 48.5L1191 49.5L1191.8 47.5L1192.5 48.2L1193.2 47.9L1193.9 48.4L1194.6 46.9L1195.3 46.7L1196.1 46L1196.8 47.7L1197.5 47.6L1198.2 48.4L1198.9 49.1L1199.6 46.8L1200.4 47.3L1201.1 48.6L1201.8 48.1L1202.5 46.9L1203.2 47.1L1203.9 48.8L1204.7 48.1L1205.4 48L1206.1 49.8L1206.8 48.3L1207.5 46.1L1208.2 46.6L1209 47.6L1209.7 45.5L1210.4 48.5L1211.1 47.8L1211.8 46.7L1212.5 46.9L1213.3 47.4L1214 44.9L1214.7 44.6L1215.4 43.6L1216.1 44.2L1216.8 44.9L1217.6 44.5L1218.3 42.2L1219 42L1219.7 41.9L1220.4 43.1L1221.1 43.2L1221.9 44.7L1222.6 43.9L1223.3 43.1L1224 43.8L1224.7 44L1225.4 43.4L1226.2 44.6L1226.9 45.3L1227.6 43.5L1228.3 42.4L1229 41.3L1229.7 43.1L1230.5 40.5L1231.2 40.6L1231.9 42.9L1232.6 43.1L1233.3 42L1234 41L1234.8 42.2L1235.5 41L1236.2 42L1236.9 43.5L1237.6 41.6L1238.4 39.7L1239.1 39.5L1239.8 41L1240.5 41.7L1241.2 39.6L1241.9 42L1242.7 40.2L1243.4 42.4L1244.1 42.8L1244.8 42.9L1245.5 41.3L1246.2 41.3L1247 40.9L1247.7 40.2L1248.4 38.9L1249.1 39.7L1249.8 39.8L1250.5 42.2L1251.3 40.6L1252 41.4L1252.7 42.4L1253.4 40.5L1254.1 40.7L1254.8 38.7L1255.6 40.4L1256.3 38.5L1257 39L1257.7 38.7L1258.4 37.2L1259.1 37.7L1259.9 39.2L1260.6 40L1261.3 38.6L1262 41L1262.7 40.7L1263.4 40.6L1264.2 38.9L1264.9 39.3L1265.6 37.8L1266.3 40.7L1267 37.9L1267.7 39.5L1268.5 38.6L1269.2 38.7L1269.9 37.3L1270.6 37.9L1271.3 38.5L1272 36.2L1272.8 39.1L1273.5 39.7L1274.2 38.5L1274.9 38.3L1275.6 45.1L1276.3 38.5L1277.1 38.4L1277.8 38.1L1278.5 43.3L1279.2 37.9L1279.9 37.2L1280.6 37.9L1281.4 37.8L1282.1 35.8L1282.8 36.5L1283.5 36.2L1284.2 35.7L1284.9 37.5L1285.7 36.8L1286.4 38.2L1287.1 35.8L1287.8 36.6L1288.5 36.7L1289.2 37.2L1290 38.6L1290.7 37.6L1291.4 38.8L1292.1 37.3L1292.8 37.1L1293.5 37.4L1294.3 36.1L1295 38.3L1295.7 40.5L1296.4 37.3L1297.1 35.9L1297.8 37.7L1298.6 36.2L1299.3 34.8L1300 36.1L1300.7 37.4L1301.4 35.4L1302.1 36.3L1302.9 36.5L1303.6 37.2L1304.3 37.7L1305 42.9L1305.7 35.6L1306.4 36.1L1307.2 35.8L1307.9 36.3L1308.6 35.5L1309.3 35.3L1310 34.2L1310.7 37.2L1311.5 35.3L1312.2 36.5L1312.9 35.9L1313.6 36.4L1314.3 36L1315 37L1315.8 34.8L1316.5 34.4L1317.2 35.4L1317.9 36.3L1318.6 40.2L1319.3 37.6L1320.1 35.7L1320.8 34.7L1321.5 35L1322.2 36L1322.9 33.3L1323.6 35.2L1324.4 34.4L1325.1 35.9L1325.8 34.2L1326.5 34.3L1327.2 34.2L1328 34.8L1328.7 37.5L1329.4 37.1L1330.1 36.4L1330.8 40L1331.5 34.7L1332.3 36.9L1333 36L1333.7 37L1334.4 36.6L1335.1 35.5L1335.8 36.3L1336.6 36.5L1337.3 36.8L1338 37.2L1338.7 34.8L1339.4 33.9L1340.1 34.1L1340.9 33.7L1341.6 33.7L1342.3 34.5L1343 32.9L1343.7 35.3L1344.4 35.2L1345.2 35.5L1345.9 34.7L1346.6 34L1347.3 34L1348 34.6L1348.7 33.3L1349.5 34.3L1350.2 35.5L1350.9 33.1L1351.6 34.6L1352.3 33.4L1353 33.8L1353.8 34.6L1354.5 32.2L1355.2 34L1355.9 34.7L1356.6 34.1L1357.3 33.5L1358.1 33.5L1358.8 32.7L1359.5 34L1360.2 33.1L1360.9 34L1361.6 32.2L1362.4 33.7L1363.1 33.5L1363.8 31.9L1364.5 32L1365.2 32.4L1365.9 30.7L1366.7 33.4L1367.4 32.7L1368.1 32.3L1368.8 33.3L1369.5 33.3L1370.2 38.8L1371 34.2L1371.7 33.4L1372.4 33.1L1373.1 32.2L1373.8 34.2L1374.5 34.4L1375.3 34.1L1376 33.2L1376.7 37.6L1377.4 34.3L1378.1 33.2L1378.8 30.4L1379.6 32.6L1380.3 31.4L1381 34.4L1381.7 32.1L1382.4 33.3L1383.1 31.9L1383.9 31.6L1384.6 32.4L1385.3 32.9L1386 31.4L1386.7 31.6L1387.4 31.4L1388.2 32.1L1388.9 32.8L1389.6 33.7L1390.3 34.8L1391 37L1391.7 32.3L1392.5 32.8L1393.2 32.7L1393.9 32.5L1394.6 32.7L1395.3 31.2L1396 31.1L1396.8 31.2L1397.5 30L1398.2 28.9L1398.9 30.8L1399.6 30.5L1400.3 31.1L1401.1 33.9L1401.8 30.6L1402.5 29.9L1403.2 29.8L1403.9 29.5L1404.6 30.7L1405.4 31.5L1406.1 36.2L1406.8 30.6L1407.5 31L1408.2 32L1408.9 29.3L1409.7 30.3L1410.4 30.6L1411.1 30.4L1411.8 31L1412.5 30.4L1413.2 29.7L1414 30.2L1414.7 30.4L1415.4 35.8L1416.1 30.4L1416.8 30.9L1417.6 32L1418.3 31.1L1419 31.2L1419.7 31L1420.4 31.9L1421.1 30.3L1421.9 31.7L1422.6 31.8L1423.3 30.3L1424 30.2L1424.7 31.6L1425.4 31.5L1426.2 29.5L1426.9 30.2L1427.6 30.2L1428.3 29.2L1429 29.8L1429.7 31.6L1430.5 30.8L1431.2 30.6L1431.9 29.8L1432.6 31.4L1433.3 30.4L1434 32.5L1434.8 30.6L1435.5 36.5L1436.2 31.8L1436.9 31L1437.6 31.2L1438.3 30.7L1439.1 29.7L1439.8 36.9L1440.5 29L1441.2 30.7L1441.9 29.3L1442.6 29.4L1443.4 30.8L1444.1 31.6L1444.8 31.8L1445.5 29.6L1446.2 32.3L1446.9 30.9L1447.7 29.8L1448.4 29L1449.1 29.7L1449.8 29.7L1450.5 28.9L1451.2 28.9L1452 28.6L1452.7 31.1L1453.4 30.3L1454.1 30.4L1454.8 31L1455.5 30.4L1456.3 28.9L1457 29.2L1457.7 28.2L1458.4 28.8L1459.1 28.2L1459.8 30.3L1460.6 28.5L1461.3 28.6L1462 28.4L1462.7 28.6L1463.4 29.5L1464.1 27.3L1464.9 27.5L1465.6 28L1466.3 30.8L1467 30.1L1467.7 29.7L1468.4 30L1469.2 30.9L1469.9 28.7L1470.6 29.1L1471.3 29.6L1472 30L1472.7 30L1473.5 28.8L1474.2 31.2L1474.9 31.6L1475.6 30.8L1476.3 31.3L1477 32.8L1477.8 33.2L1478.5 31.2L1479.2 31.8L1479.9 32L1480.6 30.9L1481.3 29.5L1482.1 30.5L1482.8 29.4L1483.5 35.8L1484.2 29.1L1484.9 29.8L1485.6 28.3L1486.4 31.3L1487.1 29.4L1487.8 30.2L1488.5 31.4L1489.2 29.5L1489.9 28.2L1490.7 27.9L1491.4 28.3L1492.1 28.7L1492.8 29.8L1493.5 27.3L1494.2 29.8L1495 28.3L1495.7 30.3L1496.4 29.5L1497.1 29.1L1497.8 30.6L1498.5 29.6L1499.3 29.2L1500 28.3L1500.7 29.2L1501.4 31.5L1502.1 32.5L1502.8 31.4L1503.6 30L1504.3 29.5L1505 31.8L1505.7 30.8L1506.4 37.6L1507.2 30.3L1507.9 30.4L1508.6 29.2L1509.3 28.9L1510 28.8L1510.7 29.3L1511.5 32.6L1512.2 30.5L1512.9 29.9L1513.6 30.9L1514.3 31.8L1515 30.2L1515.8 30.1L1516.5 33.3L1517.2 31.2L1517.9 30.6L1518.6 31.3L1519.3 31.2L1520.1 30.5L1520.8 29.4L1521.5 30.9L1522.2 27.8L1522.9 29.1L1523.6 29.4L1524.4 31L1525.1 31.1L1525.8 30.9L1526.5 28.7L1527.2 31L1527.9 30.3L1528.7 30.4L1529.4 30.9L1530.1 29.1L1530.8 28.6L1531.5 29.4L1532.2 27.5L1533 29L1533.7 29.6L1534.4 29.6L1535.1 30.1L1535.8 28.3L1536.5 27.1L1537.3 27.9L1538 28.3L1538.7 27.2L1539.4 29.4L1540.1 28.2L1540.8 26.9L1541.6 29.5L1542.3 29.3L1543 29.1L1543.7 30.1L1544.4 30.1L1545.1 29.8L1545.9 31L1546.6 31L1547.3 30.6L1548 31L1548.7 29L1549.4 30.5L1550.2 29.9L1550.9 30.1L1551.6 29.8L1552.3 32.2L1553 30.8L1553.7 33.9L1554.5 30L1555.2 30.5L1555.9 31.1L1556.6 29.6L1557.3 30.8L1558 30.6L1558.8 31.1L1559.5 29.6L1560.2 30.2L1560.9 31.1L1561.6 32.3L1562.3 29.3L1563.1 28.8L1563.8 28.6L1564.5 29.9L1565.2 28.5L1565.9 29.4L1566.6 29.3L1567.4 29L1568.1 29.1L1568.8 29.3L1569.5 27.4L1570.2 27.7L1570.9 29.1L1571.7 29.4L1572.4 29.4L1573.1 28.8L1573.8 30.4L1574.5 32.1L1575.2 34.9L1576 30.3L1576.7 30.1L1577.4 31.4L1578.1 30.9L1578.8 30.2L1579.5 30.9L1580.3 32.9L1581 31.9L1581.7 32.6L1582.4 31.2L1583.1 32.2L1583.8 30.8L1584.6 33.8L1585.3 33.1L1586 32.4L1586.7 31L1587.4 31.6L1588.1 31.6L1588.9 32L1589.6 31.5L1590.3 30L1591 30.4L1591.7 30.3L1592.4 30.3L1593.2 32.4L1593.9 31.5L1594.6 32.2L1595.3 29.9L1596 31.7L1596.8 32.9L1597.5 32.5L1598.2 31.4L1598.9 31L1599.6 32.8L1600.3 29.9L1601.1 30.5L1601.8 30.9L1602.5 30L1603.2 29.6L1603.9 30.6L1604.6 29.9L1605.4 29.7L1606.1 30.4L1606.8 29.7L1607.5 31.8L1608.2 32.3L1608.9 30.2L1609.7 31L1610.4 31.4L1611.1 29.8L1611.8 31.1L1612.5 29.5L1613.2 31.8L1614 32.6L1614.7 32.1L1615.4 30L1616.1 31.6L1616.8 30L1617.5 29.6L1618.3 30.8L1619 28.3L1619.7 30.2L1620.4 30.1L1621.1 31.4L1621.8 30.8L1622.6 30.1L1623.3 30.5L1624 31.7L1624.7 30.9L1625.4 30.8L1626.1 29.8L1626.9 28.4L1627.6 31.3L1628.3 30.8L1629 31L1629.7 30.1L1630.4 30.9L1631.2 28.9L1631.9 29.5L1632.6 32.7L1633.3 30.3L1634 28.5L1634.7 31L1635.5 34.1L1636.2 27.9L1636.9 29.1L1637.6 30.6L1638.3 27.2L1639 27.8L1639.8 28.6L1640.5 28.8L1641.2 27.2L1641.9 28.4L1642.6 29.4L1643.3 27.2L1644.1 28.1L1644.8 27.7L1645.5 27.6L1646.2 28.1L1646.9 27.7L1647.6 27.3L1648.4 27.3L1649.1 27.6L1649.8 28.8L1650.5 28.3L1651.2 28.7L1651.9 28.2L1652.7 28.2L1653.4 29.8L1654.1 27.5L1654.8 29L1655.5 28.6L1656.2 27.5L1657 29.1L1657.7 26.9L1658.4 28.3L1659.1 29L1659.8 28.4L1660.5 28.1L1661.3 27.3L1662 27.2L1662.7 27.6L1663.4 26.7L1664.1 27.3L1664.8 25.4L1665.6 27.7L1666.3 26.8L1667 28.6L1667.7 28L1668.4 27.3L1669.1 28.3L1669.9 26.9L1670.6 27.8L1671.3 27.4L1672 28L1672.7 28.4L1673.4 29.2L1674.2 28.4L1674.9 30.1L1675.6 29.6L1676.3 28.9L1677 29.1L1677.7 28.8L1678.5 27.7L1679.2 27.9L1679.9 29.2L1680.6 29.1L1681.3 27.1L1682 28.4L1682.8 27.4L1683.5 27.6L1684.2 26.3" stroke="#1f77b4"/>
<circle cx="968.12" cy="306.00" r="2.50" fill="#1f77b4"/><circle cx="1025.46" cy="80.12" r="2.50" fill="#1f77b4"/><circle cx="1082.80" cy="61.04" r="2.50" fill="#1f77b4"/><circle cx="1140.15" cy="52.72" r="2.50" fill="#1f77b4"/><circle cx="1197.49" cy="47.59" r="2.50" fill="#1f77b4"/><circle cx="1254.84" cy="38.72" r="2.50" fill="#1f77b4"/><circle cx="1312.18" cy="36.51" r="2.50" fill="#1f77b4"/><circle cx="1369.52" cy="33.33" r="2.50" fill="#1f77b4"/><circle cx="1426.87" cy="30.20" r="2.50" fill="#1f77b4"/><circle cx="1484.21" cy="29.12" r="2.50" fill="#1f77b4"/><circle cx="1541.56" cy="29.50" r="2.50" fill="#1f77b4"/><circle cx="1598.90" cy="31.01" r="2.50" fill="#1f77b4"/><circle cx="1656.24" cy="27.53" r="2.50" fill="#1f77b4"/>
<path d="M968.1 303.6L968.8 266L969.6 247L970.3 231.3L971 219.3L971.7 208.9L972.4 207.8L973.1 195L973.9 187.7L974.6 179.8L975.3 172.3L976 176.3L976.7 162.8L977.4 161.7L978.2 157.6L978.9 154.8L979.6 155L980.3 150L981 149.4L981.7 145.7L982.5 147L983.2 140.5L983.9 139.3L984.6 139.1L985.3 136.1L986 133L986.8 130.8L987.5 131.9L988.2 131.2L988.9 130.2L989.6 128.5L990.3 128.3L991.1 123.8L991.8 124.1L992.5 122.7L993.2 122.1L993.9 122.1L994.6 123.1L995.4 117.4L996.1 117.8L996.8 114.5L997.5 113.1L998.2 113.5L998.9 112.1L999.7 113.5L1000.4 113.1L1001.1 112.3L1001.8 112.9L1002.5 110.5L1003.2 110L1004 107.6L1004.7 108.6L1005.4 106.9L1006.1 106.6L1006.8 107.5L1007.5 106.5L1008.3 104.4L1009 111.3L1009.7 104.4L1010.4 104.4L1011.1 107.1L1011.8 105.4L1012.6 105.3L1013.3 104.3L1014 103.3L1014.7 104.5L1015.4 102.4L1016.1 102.3L1016.9 102.9L1017.6 102.6L1018.3 100.8L1019 100.9L1019.7 101.1L1020.4 100.3L1021.2 98.7L1021.9 98.2L1022.6 98.7L1023.3 104.5L1024 97L1024.7 96.2L1025.5 93.6L1026.2 93.9L1026.9 103.6L1027.6 93.6L1028.3 93.8L1029 94.3L1029.8 93.1L1030.5 92.6L1031.2 93.6L1031.9 91.7L1032.6 91.2L1033.3 91.8L1034.1 91.2L1034.8 90.9L1035.5 89.3L1036.2 89.4L1036.9 89.2L1037.6 89.7L1038.4 89.1L1039.1 88L1039.8 85.7L1040.5 89.1L1041.2 90.4L1041.9 88.5L1042.7 86.1L1043.4 85.2L1044.1 86.5L1044.8 94.7L1045.5 88L1046.2 86.6L1047 90.5L1047.7 87.9L1048.4 83.6L1049.1 86.8L1049.8 85.3L1050.5 84.9L1051.3 86.2L1052 85.6L1052.7 86.3L1053.4 83.3L1054.1 85.2L1054.8 85.5L1055.6 83.8L1056.3 93L1057 83.3L1057.7 81.8L1058.4 83.3L1059.2 82.3L1059.9 83.7L1060.6 84.1L1061.3 82L1062 82.2L1062.7 82.6L1063.5 80.2L1064.2 81.2L1064.9 81.3L1065.6 81.1L1066.3 81.7L1067 81L1067.8 83.2L1068.5 83L1069.2 88.3L1069.9 81.7L1070.6 83.2L1071.3 83.3L1072.1 80.1L1072.8 81.5L1073.5 81.9L1074.2 80.2L1074.9 82.5L1075.6 83.2L1076.4 79.7L1077.1 79.9L1077.8 78.9L1078.5 80.4L1079.2 78.6L1079.9 80.4L1080.7 78.4L1081.4 80.1L1082.1 78.1L1082.8 79L1083.5 78.6L1084.2 76.5L1085 78.8L1085.7 77.5L1086.4 78.1L1087.1 78.9L1087.8 78.8L1088.5 83.6L1089.3 78L1090 79.3L1090.7 78.3L1091.4 77.5L1092.1 77.8L1092.8 78.4L1093.6 78.5L1094.3 74.1L1095 75.6L1095.7 74.1L1096.4 76L1097.1 76.1L1097.9 78.3L1098.6 74.3L1099.3 79L1100 75.8L1100.7 74.2L1101.4 75L1102.2 73.5L1102.9 75L1103.6 76.3L1104.3 84.8L1105 77.3L1105.7 81.9L1106.5 74.9L1107.2 76L1107.9 76.1L1108.6 76.1L1109.3 76.4L1110 75.5L1110.8 76.3L1111.5 74.8L1112.2 73.3L1112.9 73.1L1113.6 75.6L1114.3 70.8L1115.1 72L1115.8 75.6L1116.5 75.4L1117.2 74.5L1117.9 75.2L1118.6 76.3L1119.4 77L1120.1 74.8L1120.8 85.2L1121.5 74.8L1122.2 77.2L1122.9 75.3L1123.7 79.1L1124.4 70.7L1125.1 73L1125.8 75.2L1126.5 73L1127.2 73.7L1128 77.9L1128.7 72.4L1129.4 73.8L1130.1 72.1L1130.8 73.2L1131.5 72.8L1132.3 73.4L1133 71.1L1133.7 70.2L1134.4 69.4L1135.1 72.4L1135.8 71.5L1136.6 72.8L1137.3 71.3L1138 72.2L1138.7 73.4L1139.4 71.3L1140.1 71.2L1140.9 77.9L1141.6 71.5L1142.3 70.9L1143 73.4L1143.7 71.6L1144.4 71.8L1145.2 68.5L1145.9 69.6L1146.6 69L1147.3 70L1148 71.4L1148.8 71.3L1149.5 70.7L1150.2 76.8L1150.9 71.1L1151.6 70.9L1152.3 71.1L1153.1 71.6L1153.8 69.4L1154.5 70.7L1155.2 72.8L1155.9 70.2L1156.6 69.5L1157.4 68.7L1158.1 68.1L1158.8 70.2L1159.5 68.6L1160.2 68.1L1160.9 66.3L1161.7 66.7L1162.4 65.7L1163.1 64.9L1163.8 68.1L1164.5 67.7L1165.2 65.2L1166 69.1L1166.7 67.6L1167.4 66.6L1168.1 68.2L1168.8 64.6L1169.5 65.7L1170.3 65.6L1171 65.7L1171.7 67.4L1172.4 67.2L1173.1 66.8L1173.8 65.7L1174.6 69.8L1175.3 65.8L1176 66.9L1176.7 65.4L1177.4 64.3L1178.1 66.5L1178.9 66L1179.6 73.9L1180.3 65.3L1181 67L1181.7 65.2L1182.4 66.2L1183.2 67.4L1183.9 73L1184.6 65.2L1185.3 66.1L1186 66.9L1186.7 67.1L1187.5 66.6L1188.2 65.9L1188.9 67.2L1189.6 66.7L1190.3 63.9L1191 65.7L1191.8 66.3L1192.5 67.3L1193.2 65.8L1193.9 65.2L1194.6 66.6L1195.3 67.1L1196.1 66.9L1196.8 65.3L1197.5 64.7L1198.2 64.7L1198.9 65.1L1199.6 70.9L1200.4 65L1201.1 66.3L1201.8 64.8L1202.5 65.5L1203.2 63.3L1203.9 64.5L1204.7 61.8L1205.4 63.6L1206.1 64.6L1206.8 66.4L1207.5 75.8L1208.2 64.7L1209 66.4L1209.7 64.8L1210.4 64.8L1211.1 66L1211.8 64L1212.5 64.1L1213.3 64.7L1214 63.5L1214.7 63.6L1215.4 69.8L1216.1 72.4L1216.8 63.3L1217.6 62.9L1218.3 63L1219 62.6L1219.7 63.7L1220.4 61.5L1221.1 61.2L1221.9 62.6L1222.6 61.4L1223.3 60.9L1224 62.9L1224.7 63.3L1225.4 64.5L1226.2 61.2L1226.9 61.2L1227.6 63.6L1228.3 61.9L1229 61.3L1229.7 61L1230.5 61L1231.2 60.9L1231.9 61.4L1232.6 63.1L1233.3 60.5L1234 57.5L1234.8 63.5L1235.5 58.7L1236.2 59.8L1236.9 70L1237.6 61L1238.4 60.6L1239.1 61.4L1239.8 60.2L1240.5 59.9L1241.2 60.6L1241.9 61.1L1242.7 63.6L1243.4 67.3L1244.1 62.7L1244.8 62.1L1245.5 61L1246.2 60.7L1247 60L1247.7 61.2L1248.4 62.1L1249.1 61.8L1249.8 61.5L1250.5 62.1L1251.3 60.8L1252 60.2L1252.7 59.4L1253.4 61L1254.1 59.7L1254.8 59.2L1255.6 59.7L1256.3 58.8L1257 61.7L1257.7 59.6L1258.4 64.7L1259.1 58.7L1259.9 56.5L1260.6 58L1261.3 57.5L1262 58.6L1262.7 60.7L1263.4 60.5L1264.2 60.8L1264.9 59.2L1265.6 59.9L1266.3 59.9L1267 58.5L1267.7 60.8L1268.5 58.9L1269.2 59.5L1269.9 61.5L1270.6 59.7L1271.3 58.5L1272 58.1L1272.8 57.4L1273.5 60.3L1274.2 57.6L1274.9 57.7L1275.6 58.7L1276.3 57.5L1277.1 58.8L1277.8 60.1L1278.5 57.2L1279.2 57.5L1279.9 56.5L1280.6 58L1281.4 57.1L1282.1 57.4L1282.8 55.1L1283.5 56.4L1284.2 57L1284.9 57.9L1285.7 59.4L1286.4 57.5L1287.1 58L1287.8 56.1L1288.5 57.4L1289.2 56.6L1290 56.4L1290.7 54L1291.4 56.2L1292.1 65L1292.8 55.1L1293.5 57.1L1294.3 55.9L1295 53.9L1295.7 55L1296.4 55.3L1297.1 57.7L1297.8 56.6L1298.6 55.7L1299.3 53.8L1300 58.9L1300.7 56.1L1301.4 55.6L1302.1 54.2L1302.9 54.1L1303.6 55.4L1304.3 56.1L1305 53.5L1305.7 51.7L1306.4 55.5L1307.2 53.3L1307.9 55.4L1308.6 58.8L1309.3 53.3L1310 54.7L1310.7 53L1311.5 53.7L1312.2 55.1L1312.9 56.1L1313.6 54.3L1314.3 54.2L1315 55.8L1315.8 53.2L1316.5 59.2L1317.2 55.4L1317.9 52.1L1318.6 53L1319.3 52.5L1320.1 52.2L1320.8 51.8L1321.5 55L1322.2 52.3L1322.9 52.8L1323.6 52.8L1324.4 52.8L1325.1 52.7L1325.8 54.5L1326.5 56.5L1327.2 55.6L1328 54L1328.7 51.2L1329.4 53.4L1330.1 51.4L1330.8 54.2L1331.5 52.5L1332.3 53.2L1333 52.7L1333.7 52.2L1334.4 51.6L1335.1 53.9L1335.8 51.7L1336.6 53.4L1337.3 54.1L1338 53L1338.7 54.6L1339.4 55.7L1340.1 60.5L1340.9 56.1L1341.6 54.8L1342.3 56.1L1343 53.6L1343.7 55.5L1344.4 53.9L1345.2 51.4L1345.9 52.6L1346.6 53.6L1347.3 53.4L1348 60.5L1348.7 50.7L1349.5 53.5L1350.2 56.7L1350.9 62.8L1351.6 54.9L1352.3 54.1L1353 51.6L1353.8 52L1354.5 55.2L1355.2 56L1355.9 54.2L1356.6 52.8L1357.3 53.6L1358.1 51.6L1358.8 57.2L1359.5 55L1360.2 57.6L1360.9 55.8L1361.6 55.7L1362.4 53.3L1363.1 52.8L1363.8 51.1L1364.5 54.4L1365.2 53.5L1365.9 56.4L1366.7 53.5L1367.4 53.3L1368.1 51.6L1368.8 54.8L1369.5 53.3L1370.2 54.2L1371 56.3L1371.7 54.7L1372.4 55.9L1373.1 54.9L1373.8 55.1L1374.5 55.6L1375.3 55.4L1376 53.4L1376.7 55.5L1377.4 53.5L1378.1 53.4L1378.8 53.4L1379.6 51.3L1380.3 52.7L1381 54.9L1381.7 54.6L1382.4 53.2L1383.1 54.8L1383.9 51L1384.6 52.5L1385.3 54.4L1386 55.6L1386.7 53.9L1387.4 55.3L1388.2 55.3L1388.9 53.2L1389.6 54.9L1390.3 51.4L1391 51.4L1391.7 54.5L1392.5 54.1L1393.2 53.6L1393.9 53L1394.6 52.4L1395.3 54.7L1396 55.6L1396.8 52.8L1397.5 52.3L1398.2 55.9L1398.9 54.6L1399.6 56.8L1400.3 54.3L1401.1 56.6L1401.8 54.8L1402.5 53.6L1403.2 51.9L1403.9 53.1L1404.6 52.9L1405.4 52.9L1406.1 53.7L1406.8 51.9L1407.5 54.1L1408.2 51.2L1408.9 51.4L1409.7 57.1L1410.4 54L1411.1 52.9L1411.8 53.1L1412.5 52.4L1413.2 61.8L1414 54L1414.7 54L1415.4 52.4L1416.1 51.7L1416.8 53.3L1417.6 54L1418.3 53.3L1419 53.3L1419.7 51.5L1420.4 53.3L1421.1 52.5L1421.9 62.7L1422.6 55.2L1423.3 52.6L1424 51.9L1424.7 54L1425.4 59.2L1426.2 52.3L1426.9 53.5L1427.6 54.2L1428.3 53.2L1429 53.6L1429.7 55.9L1430.5 51.9L1431.2 52.2L1431.9 52.7L1432.6 51.7L1433.3 51.8L1434 52L1434.8 52.1L1435.5 53.3L1436.2 54.2L1436.9 53.1L1437.6 54.2L1438.3 50.9L1439.1 56.2L1439.8 55L1440.5 52.5L1441.2 57.1L1441.9 55L1442.6 54.8L1443.4 53.2L1444.1 55.6L1444.8 53.7L1445.5 53.4L1446.2 54.8L1446.9 54.3L1447.7 53.3L1448.4 53.9L1449.1 54.4L1449.8 55L1450.5 54.4L1451.2 54.7L1452 53.2L1452.7 52.3L1453.4 51.5L1454.1 51.5L1454.8 53.9L1455.5 52.4L1456.3 51.4L1457 53.4L1457.7 52.1L1458.4 55.3L1459.1 53.8L1459.8 54.4L1460.6 53.3L1461.3 52L1462 52.8L1462.7 50.5L1463.4 51.7L1464.1 58.1L1464.9 57L1465.6 53.2L1466.3 52.7L1467 51.2L1467.7 53.2L1468.4 49.4L1469.2 50.8L1469.9 53.2L1470.6 51.7L1471.3 54.7L1472 53.5L1472.7 52.7L1473.5 52.1L1474.2 51.8L1474.9 51.6L1475.6 52.8L1476.3 53.7L1477 53.3L1477.8 53.2L1478.5 52.5L1479.2 53.3L1479.9 51L1480.6 52.8L1481.3 54L1482.1 53.9L1482.8 51.5L1483.5 50.8L1484.2 51.9L1484.9 52.9L1485.6 49.8L1486.4 51.8L1487.1 51.5L1487.8 52.8L1488.5 49.4L1489.2 50.8L1489.9 50L1490.7 51.8L1491.4 56.4L1492.1 49.6L1492.8 49.9L1493.5 51.7L1494.2 51.1L1495 50.9L1495.7 52.1L1496.4 49.9L1497.1 51.6L1497.8 51.2L1498.5 50.7L1499.3 51.9L1500 51.4L1500.7 53.1L1501.4 53.2L1502.1 51.2L1502.8 60.5L1503.6 54.7L1504.3 51.9L1505 48.6L1505.7 52L1506.4 53.5L1507.2 52L1507.9 51.1L1508.6 49.9L1509.3 50L1510 51.3L1510.7 50.4L1511.5 50.9L1512.2 50.8L1512.9 50.8L1513.6 53L1514.3 53.1L1515 50.6L1515.8 54.4L1516.5 52.4L1517.2 53.3L1517.9 51.9L1518.6 52.7L1519.3 49.4L1520.1 50.5L1520.8 52L1521.5 52.3L1522.2 49.8L1522.9 50.7L1523.6 52.2L1524.4 50.1L1525.1 50L1525.8 51.2L1526.5 50.1L1527.2 50.7L1527.9 50L1528.7 48.2L1529.4 49L1530.1 49.7L1530.8 49.3L1531.5 58.7L1532.2 61.8L1533 49.6L1533.7 52.6L1534.4 50.9L1535.1 50.4L1535.8 50.9L1536.5 50.3L1537.3 52.2L1538 48.4L1538.7 48.3L1539.4 47.6L1540.1 50.3L1540.8 49.3L1541.6 49.2L1542.3 48.3L1543 58.1L1543.7 48.5L1544.4 48.6L1545.1 49.8L1545.9 44.3L1546.6 46.6L1547.3 47.6L1548 45.6L1548.7 46.8L1549.4 47.6L1550.2 47.9L1550.9 49.9L1551.6 48.1L1552.3 51.2L1553 53.3L1553.7 52L1554.5 49.7L1555.2 50.5L1555.9 49.2L1556.6 48.7L1557.3 46.8L1558 47.5L1558.8 48.5L1559.5 48.5L1560.2 49.4L1560.9 45.3L1561.6 47L1562.3 48.1L1563.1 45L1563.8 45.4L1564.5 53.5L1565.2 47.7L1565.9 51.9L1566.6 49.7L1567.4 50.3L1568.1 49.6L1568.8 48.7L1569.5 47.4L1570.2 46.2L1570.9 45.2L1571.7 46.6L1572.4 47.2L1573.1 49.2L1573.8 47.4L1574.5 44.8L1575.2 46L1576 46.4L1576.7 46.4L1577.4 47L1578.1 47.2L1578.8 56L1579.5 46.1L1580.3 48.1L1581 46.1L1581.7 44.4L1582.4 47.4L1583.1 43.6L1583.8 45.7L1584.6 46.2L1585.3 45.5L1586 45.7L1586.7 45.7L1587.4 44.9L1588.1 47.7L1588.9 45.1L1589.6 45.1L1590.3 43.7L1591 43.3L1591.7 46.4L1592.4 46.6L1593.2 46.2L1593.9 46.8L1594.6 47.9L1595.3 45.5L1596 46.7L1596.8 47.3L1597.5 46.6L1598.2 47.6L1598.9 45.7L1599.6 46.1L1600.3 49.4L1601.1 46.7L1601.8 47.2L1602.5 45.8L1603.2 47.5L1603.9 45.5L1604.6 46.8L1605.4 48.7L1606.1 45.5L1606.8 45.5L1607.5 44.4L1608.2 41L1608.9 42.5L1609.7 44L1610.4 51.5L1611.1 44.2L1611.8 46.4L1612.5 46.8L1613.2 46.5L1614 51.6L1614.7 48L1615.4 46.3L1616.1 44.5L1616.8 47.2L1617.5 49.8L1618.3 50.9L1619 46.6L1619.7 45.9L1620.4 47.3L1621.1 46.9L1621.8 47.3L1622.6 47.6L1623.3 46.3L1624 47.4L1624.7 46.3L1625.4 45.4L1626.1 49.7L1626.9 47.5L1627.6 46.8L1628.3 48L1629 47.3L1629.7 46.1L1630.4 44.9L1631.2 45.5L1631.9 46.9L1632.6 47.7L1633.3 47.1L1634 46.8L1634.7 48.8L1635.5 47.6L1636.2 43.5L1636.9 44.8L1637.6 45.9L1638.3 46.7L1639 47.6L1639.8 48.2L1640.5 47.6L1641.2 46.8L1641.9 45.7L1642.6 48.3L1643.3 54.7L1644.1 47L1644.8 48.3L1645.5 47.2L1646.2 45.5L1646.9 48.1L1647.6 56.4L1648.4 49.2L1649.1 47L1649.8 46.2L1650.5 45.7L1651.2 50L1651.9 50.5L1652.7 46.8L1653.4 53.5L1654.1 47.3L1654.8 47L1655.5 46.8L1656.2 46.8L1657 46.3L1657.7 44.7L1658.4 48.3L1659.1 45.9L1659.8 46.7L1660.5 46.6L1661.3 47.4L1662 49L1662.7 46.6L1663.4 46.4L1664.1 48.2L1664.8 46.5L1665.6 48.2L1666.3 45.6L1667 46.8L1667.7 48.8L1668.4 50L1669.1 47.6L1669.9 47L1670.6 46.7L1671.3 47.9L1672 45.2L1672.7 47.6L1673.4 47.1L1674.2 48.1L1674.9 48.4L1675.6 47.5L1676.3 48.9L1677 46.8L1677.7 45L1678.5 43.9L1679.2 48.3L1679.9 47.6L1680.6 46.4L1681.3 45.7L1682 45.8L1682.8 47.4L1683.5 44.8L1684.2 53" stroke="#2ca02c"/>
<polygon points="968.12,300.10 971.62,306.93 964.62,306.93" fill="#2ca02c"/><polygon points="1025.46,90.14 1028.96,96.96 1021.96,96.96" fill="#2ca02c"/><polygon points="1082.80,75.47 1086.30,82.30 1079.30,82.30" fill="#2ca02c"/><polygon points="1140.15,67.70 1143.65,74.52 1136.65,74.52" fill="#2ca02c"/><polygon points="1197.49,61.18 1200.99,68.00 1193.99,68.00" fill="#2ca02c"/><polygon points="1254.84,55.74 1258.34,62.57 1251.34,62.57" fill="#2ca02c"/><polygon points="1312.18,51.62 1315.68,58.44 1308.68,58.44" fill="#2ca02c"/><polygon points="1369.52,49.75 1373.02,56.58 1366.02,56.58" fill="#2ca02c"/><polygon points="1426.87,49.96 1430.37,56.79 1423.37,56.79" fill="#2ca02c"/><polygon points="1484.21,48.44 1487.71,55.26 1480.71,55.26" fill="#2ca02c"/><polygon points="1541.56,45.66 1545.06,52.48 1538.06,52.48" fill="#2ca02c"/><polygon points="1598.90,42.19 1602.40,49.02 1595.40,49.02" fill="#2ca02c"/><polygon points="1656.24,43.28 1659.74,50.11 1652.74,50.11" fill="#2ca02c"/>
<path d="M968.1 442.4L968.8 358L969.6 333L970.3 318.4L971 303.4L971.7 292.1L972.4 280.1L973.1 270.8L973.9 261.4L974.6 253.3L975.3 246.7L976 241.1L976.7 236.4L977.4 230.3L978.2 228.8L978.9 224.6L979.6 222.1L980.3 218.7L981 216.8L981.7 214.6L982.5 212.5L983.2 206L983.9 204.2L984.6 200.6L985.3 195.9L986 196.2L986.8 192.6L987.5 192.2L988.2 189.7L988.9 184.6L989.6 184.1L990.3 181.9L991.1 181.1L991.8 177.8L992.5 176.4L993.2 175.6L993.9 174.6L994.6 172.3L995.4 173.3L996.1 171.1L996.8 169.6L997.5 168.6L998.2 166.8L998.9 167.4L999.7 166.6L1000.4 165.6L1001.1 163.2L1001.8 164.6L1002.5 163.6L1003.2 162L1004 161.8L1004.7 160.3L1005.4 157.4L1006.1 157.9L1006.8 157.5L1007.5 154.2L1008.3 151.8L1009 152.6L1009.7 151.1L1010.4 152.9L1011.1 149.9L1011.8 149L1012.6 147.4L1013.3 148.6L1014 148.8L1014.7 145.1L1015.4 145L1016.1 143.9L1016.9 145.1L1017.6 141.7L1018.3 142L1019 140.7L1019.7 139.6L1020.4 142.2L1021.2 136.5L1021.9 141L1022.6 134.1L1023.3 136.2L1024 138.9L1024.7 134.7L1025.5 136.2L1026.2 138L1026.9 136.2L1027.6 134.8L1028.3 133.9L1029 132.3L1029.8 132.9L1030.5 134.8L1031.2 133.7L1031.9 133.4L1032.6 134.3L1033.3 134.9L1034.1 131.3L1034.8 130.9L1035.5 129.5L1036.2 128.6L1036.9 128.8L1037.6 131.2L1038.4 127.5L1039.1 127.1L1039.8 128.7L1040.5 128.8L1041.2 130.4L1041.9 127.4L1042.7 127.9L1043.4 128.9L1044.1 128.4L1044.8 126.5L1045.5 127.1L1046.2 128.6L1047 126.9L1047.7 127L1048.4 125.6L1049.1 127.4L1049.8 127.1L1050.5 129.2L1051.3 125.9L1052 127L1052.7 127.2L1053.4 127.8L1054.1 124.6L1054.8 127.1L1055.6 125.2L1056.3 124.3L1057 123.2L1057.7 123.9L1058.4 123.5L1059.2 121.5L1059.9 123.4L1060.6 123.2L1061.3 121.6L1062 124.5L1062.7 125.8L1063.5 123.1L1064.2 122.8L1064.9 125.4L1065.6 121.2L1066.3 122L1067 126.1L1067.8 121.3L1068.5 122.7L1069.2 122L1069.9 120L1070.6 120.4L1071.3 120.4L1072.1 119.1L1072.8 121L1073.5 119.8L1074.2 119.2L1074.9 120.4L1075.6 119.1L1076.4 121.1L1077.1 119.9L1077.8 119.1L1078.5 119.1L1079.2 119L1079.9 118.9L1080.7 118.8L1081.4 119.3L1082.1 117.7L1082.8 117.1L1083.5 118.4L1084.2 117.8L1085 118.6L1085.7 118.2L1086.4 116.3L1087.1 116.7L1087.8 118.9L1088.5 116.8L1089.3 116.8L1090 114.2L1090.7 115.1L1091.4 116.8L1092.1 114L1092.8 114.6L1093.6 115.7L1094.3 114.6L1095 115.6L1095.7 113.8L1096.4 113.3L1097.1 111.4L1097.9 114.4L1098.6 112.8L1099.3 112.8L1100 113.3L1100.7 111.7L1101.4 111.7L1102.2 110.1L1102.9 110.9L1103.6 109.6L1104.3 109.5L1105 109.6L1105.7 107.8L1106.5 108.5L1107.2 107.6L1107.9 107.3L1108.6 108.6L1109.3 108L1110 106.2L1110.8 105L1111.5 106.8L1112.2 104.5L1112.9 106.1L1113.6 106.5L1114.3 105.3L1115.1 105.1L1115.8 104.3L1116.5 107.3L1117.2 105.2L1117.9 106.5L1118.6 107.7L1119.4 106.7L1120.1 107.6L1120.8 107.8L1121.5 104.3L1122.2 107.9L1122.9 103.7L1123.7 103.8L1124.4 104L1125.1 105.3L1125.8 101.7L1126.5 103.1L1127.2 102.2L1128 102.6L1128.7 100.8L1129.4 100.8L1130.1 100.5L1130.8 98.2L1131.5 100.9L1132.3 102.3L1133 100.2L1133.7 102.1L1134.4 99.7L1135.1 101L1135.8 100.1L1136.6 101L1137.3 100.6L1138 100L1138.7 102.2L1139.4 99.4L1140.1 99.8L1140.9 99L1141.6 99.9L1142.3 101.2L1143 99.5L1143.7 99.3L1144.4 101.3L1145.2 98.1L1145.9 98.6L1146.6 96.7L1147.3 98.6L1148 98.7L1148.8 99.1L1149.5 98.1L1150.2 97.8L1150.9 97.9L1151.6 98.4L1152.3 99L1153.1 98.8L1153.8 97.8L1154.5 98.4L1155.2 98.9L1155.9 96.5L1156.6 98.7L1157.4 98.8L1158.1 98.5L1158.8 99L1159.5 99.2L1160.2 98.5L1160.9 99.1L1161.7 100.2L1162.4 98.3L1163.1 98.7L1163.8 99L1164.5 98.6L1165.2 102.2L1166 97.8L1166.7 97.2L1167.4 96.2L1168.1 95.7L1168.8 96.9L1169.5 94.5L1170.3 96.8L1171 97.5L1171.7 97.2L1172.4 96.4L1173.1 97.3L1173.8 95.4L1174.6 97L1175.3 99.3L1176 96.7L1176.7 97.3L1177.4 97.2L1178.1 96.3L1178.9 96L1179.6 95.1L1180.3 95.7L1181 93.3L1181.7 95.1L1182.4 96.1L1183.2 95L1183.9 95.7L1184.6 94.2L1185.3 96.3L1186 97.2L1186.7 97L1187.5 98.9L1188.2 95.6L1188.9 96.3L1189.6 97.4L1190.3 96.2L1191 91.7L1191.8 94.8L1192.5 92.5L1193.2 94.5L1193.9 95.3L1194.6 95.6L1195.3 95L1196.1 94.2L1196.8 93.8L1197.5 95.6L1198.2 95.1L1198.9 94L1199.6 93.9L1200.4 91.7L1201.1 94.2L1201.8 91.8L1202.5 91.7L1203.2 93.3L1203.9 93.2L1204.7 94.2L1205.4 96L1206.1 95.5L1206.8 96.4L1207.5 95.5L1208.2 92.8L1209 94.7L1209.7 95.1L1210.4 95.6L1211.1 92.7L1211.8 93.4L1212.5 98L1213.3 93.1L1214 92.8L1214.7 94.2L1215.4 92.5L1216.1 91.4L1216.8 93.9L1217.6 93.9L1218.3 96L1219 96.6L1219.7 95.7L1220.4 97L1221.1 96L1221.9 94.8L1222.6 95.1L1223.3 95.8L1224 95L1224.7 95.7L1225.4 93.5L1226.2 91.8L1226.9 94.2L1227.6 97.7L1228.3 92.2L1229 90.6L1229.7 96.4L1230.5 93.5L1231.2 91.8L1231.9 91.1L1232.6 91.9L1233.3 90.4L1234 90L1234.8 92.1L1235.5 91.4L1236.2 91L1236.9 87.9L1237.6 92.4L1238.4 90.3L1239.1 91.7L1239.8 90.6L1240.5 92.4L1241.2 90.8L1241.9 91.9L1242.7 91.3L1243.4 93.7L1244.1 91L1244.8 92.1L1245.5 92.3L1246.2 95.4L1247 91L1247.7 92.9L1248.4 92L1249.1 92.5L1249.8 92.9L1250.5 91.8L1251.3 91.8L1252 91.6L1252.7 91.2L1253.4 91.4L1254.1 89.1L1254.8 90.9L1255.6 90L1256.3 90L1257 92L1257.7 91.9L1258.4 92.3L1259.1 92.3L1259.9 88.5L1260.6 91.9L1261.3 90.4L1262 90.6L1262.7 89.4L1263.4 90.9L1264.2 91.6L1264.9 90.8L1265.6 91.6L1266.3 90L1267 89.8L1267.7 91.8L1268.5 90.8L1269.2 88.6L1269.9 89.5L1270.6 89.2L1271.3 87.3L1272 87.2L1272.8 91.3L1273.5 88.5L1274.2 89.5L1274.9 90.3L1275.6 89.6L1276.3 89.1L1277.1 87.3L1277.8 91L1278.5 90.2L1279.2 89.9L1279.9 89L1280.6 88.6L1281.4 87L1282.1 90.4L1282.8 87.5L1283.5 89.3L1284.2 89.5L1284.9 88.4L1285.7 88.2L1286.4 87.3L1287.1 90.8L1287.8 89.1L1288.5 87.4L1289.2 90L1290 89.9L1290.7 88.3L1291.4 88.8L1292.1 87.9L1292.8 89L1293.5 89.4L1294.3 87.1L1295 86.9L1295.7 86.7L1296.4 87.8L1297.1 86.8L1297.8 88.5L1298.6 87.4L1299.3 84.6L1300 86.3L1300.7 89.4L1301.4 89.4L1302.1 87.9L1302.9 87L1303.6 87.3L1304.3 88.2L1305 86.5L1305.7 89.5L1306.4 86.8L1307.2 87.8L1307.9 85.2L1308.6 86.5L1309.3 86.5L1310 82.6L1310.7 86.5L1311.5 85.9L1312.2 85.3L1312.9 83.6L1313.6 86.3L1314.3 85.4L1315 86.1L1315.8 85.4L1316.5 84.6L1317.2 86.3L1317.9 84L1318.6 86.3L1319.3 83.2L1320.1 84.8L1320.8 83.9L1321.5 86.6L1322.2 82.8L1322.9 83.1L1323.6 85L1324.4 84.5L1325.1 86L1325.8 84.9L1326.5 83.9L1327.2 84.1L1328 82L1328.7 83.6L1329.4 83.7L1330.1 82.4L1330.8 81.3L1331.5 80.7L1332.3 80.4L1333 83.4L1333.7 83.2L1334.4 82.1L1335.1 81.8L1335.8 82.5L1336.6 80.5L1337.3 82.2L1338 80L1338.7 83.7L1339.4 83.1L1340.1 83.1L1340.9 82.7L1341.6 83.1L1342.3 84L1343 82.6L1343.7 80.6L1344.4 80.3L1345.2 82.1L1345.9 82.8L1346.6 82.7L1347.3 83.6L1348 83.1L1348.7 79.4L1349.5 81.2L1350.2 77.8L1350.9 79.4L1351.6 79.1L1352.3 79.9L1353 79.2L1353.8 77.9L1354.5 80.6L1355.2 81.9L1355.9 81.4L1356.6 81.5L1357.3 83L1358.1 81.3L1358.8 82.2L1359.5 80.7L1360.2 81.7L1360.9 84.2L1361.6 81.7L1362.4 82L1363.1 81.5L1363.8 80.9L1364.5 78.9L1365.2 78.9L1365.9 80.3L1366.7 78.5L1367.4 78.3L1368.1 79.6L1368.8 78.6L1369.5 80.5L1370.2 78.9L1371 81.1L1371.7 81.4L1372.4 79.7L1373.1 81.2L1373.8 80.3L1374.5 80.7L1375.3 81.5L1376 81.4L1376.7 79.8L1377.4 77.9L1378.1 80.4L1378.8 81.2L1379.6 79.1L1380.3 80.2L1381 79.8L1381.7 80.4L1382.4 79.5L1383.1 80L1383.9 80.5L1384.6 77.3L1385.3 81L1386 80.6L1386.7 78.3L1387.4 81.7L1388.2 81.4L1388.9 81.9L1389.6 81.6L1390.3 80.4L1391 78.5L1391.7 79.4L1392.5 79.2L1393.2 81.8L1393.9 83L1394.6 80.3L1395.3 79.4L1396 80.9L1396.8 81.6L1397.5 80.8L1398.2 79.3L1398.9 81.6L1399.6 81.1L1400.3 78.3L1401.1 79.1L1401.8 80.1L1402.5 80.9L1403.2 81.3L1403.9 80L1404.6 78.7L1405.4 80L1406.1 80.4L1406.8 79.5L1407.5 79.2L1408.2 79.5L1408.9 78.2L1409.7 77.8L1410.4 79.6L1411.1 77.5L1411.8 79.9L1412.5 79L1413.2 79.1L1414 79.3L1414.7 81.6L1415.4 77.5L1416.1 80L1416.8 81.4L1417.6 77.9L1418.3 80L1419 79.1L1419.7 80.1L1420.4 77.1L1421.1 79.2L1421.9 80.9L1422.6 81.2L1423.3 80.9L1424 81L1424.7 81.5L1425.4 81.6L1426.2 80.8L1426.9 80.2L1427.6 79.2L1428.3 83.5L1429 83.5L1429.7 81.6L1430.5 81.5L1431.2 82.4L1431.9 80.3L1432.6 81.9L1433.3 80L1434 80.4L1434.8 82.4L1435.5 78.7L1436.2 81L1436.9 77.5L1437.6 78.9L1438.3 79.4L1439.1 80.3L1439.8 80.5L1440.5 79.2L1441.2 80L1441.9 78.8L1442.6 78.6L1443.4 77.7L1444.1 79.7L1444.8 78.6L1445.5 82L1446.2 79.6L1446.9 79L1447.7 80L1448.4 78.6L1449.1 76.3L1449.8 79L1450.5 76.3L1451.2 78.8L1452 77.3L1452.7 75.5L1453.4 78.2L1454.1 78.9L1454.8 80.3L1455.5 77L1456.3 79.9L1457 80.3L1457.7 78.9L1458.4 78.6L1459.1 81.1L1459.8 79.6L1460.6 79.4L1461.3 80L1462 78.7L1462.7 78.6L1463.4 77.7L1464.1 76.2L1464.9 77.7L1465.6 80.7L1466.3 79.8L1467 80.4L1467.7 80.3L1468.4 80.6L1469.2 80.4L1469.9 78.7L1470.6 77.7L1471.3 77.1L1472 78.2L1472.7 80L1473.5 76.8L1474.2 76L1474.9 78.3L1475.6 78.8L1476.3 79.6L1477 81L1477.8 79.1L1478.5 78.5L1479.2 77.3L1479.9 80.1L1480.6 79.2L1481.3 79.6L1482.1 77.5L1482.8 79.4L1483.5 78.5L1484.2 77.7L1484.9 78.8L1485.6 79.8L1486.4 79.8L1487.1 78L1487.8 76.9L1488.5 79.7L1489.2 78.4L1489.9 78.1L1490.7 78.7L1491.4 79.6L1492.1 79.6L1492.8 79.7L1493.5 80.3L1494.2 78.6L1495 78.9L1495.7 78.9L1496.4 79.1L1497.1 78.2L1497.8 78.3L1498.5 78.4L1499.3 77.7L1500 76.6L1500.7 78.4L1501.4 79L1502.1 76.9L1502.8 78.6L1503.6 78.3L1504.3 78.5L1505 76L1505.7 76L1506.4 75.5L1507.2 78L1507.9 74.9L1508.6 76.2L1509.3 76.5L1510 75.7L1510.7 76.1L1511.5 74.1L1512.2 74.3L1512.9 78.2L1513.6 77.6L1514.3 77.2L1515 79L1515.8 79.8L1516.5 76.5L1517.2 77.4L1517.9 78.3L1518.6 76.5L1519.3 76.4L1520.1 77.6L1520.8 76.1L1521.5 74.8L1522.2 76L1522.9 75.1L1523.6 76.5L1524.4 74.4L1525.1 77L1525.8 75.7L1526.5 77.5L1527.2 76.6L1527.9 77.8L1528.7 77.5L1529.4 77.9L1530.1 77.5L1530.8 75.3L1531.5 75.1L1532.2 76.7L1533 76.2L1533.7 74.9L1534.4 77.5L1535.1 77.1L1535.8 76.8L1536.5 76.2L1537.3 76.2L1538 74.8L1538.7 75.8L1539.4 74.5L1540.1 75.4L1540.8 76.6L1541.6 75.4L1542.3 74.1L1543 79.2L1543.7 75L1544.4 76.3L1545.1 75.5L1545.9 72.2L1546.6 74.5L1547.3 77.1L1548 73.7L1548.7 76.9L1549.4 74.8L1550.2 75.5L1550.9 76.2L1551.6 73.1L1552.3 76.1L1553 75.3L1553.7 75.6L1554.5 76L1555.2 79.6L1555.9 77.4L1556.6 77.6L1557.3 75.7L1558 74.9L1558.8 75.8L1559.5 77.2L1560.2 75.6L1560.9 76.6L1561.6 75L1562.3 78L1563.1 74.8L1563.8 75.6L1564.5 76.1L1565.2 75.4L1565.9 74.3L1566.6 73.6L1567.4 74.3L1568.1 74.6L1568.8 74.1L1569.5 73.6L1570.2 76.1L1570.9 76.6L1571.7 73.7L1572.4 74.2L1573.1 74.5L1573.8 77.1L1574.5 74.3L1575.2 74.4L1576 74.7L1576.7 76.6L1577.4 75.2L1578.1 72.5L1578.8 75.4L1579.5 75.8L1580.3 75.9L1581 73.6L1581.7 74.5L1582.4 73.6L1583.1 74.9L1583.8 75.3L1584.6 72.4L1585.3 72.3L1586 73.7L1586.7 74.4L1587.4 75.6L1588.1 73.8L1588.9 70.4L1589.6 73.4L1590.3 71.8L1591 71.7L1591.7 70.6L1592.4 72.4L1593.2 73L1593.9 76.9L1594.6 74.9L1595.3 72.5L1596 73.1L1596.8 72.8L1597.5 74.1L1598.2 74.2L1598.9 73L1599.6 76.8L1600.3 76.6L1601.1 74.9L1601.8 75.8L1602.5 73.7L1603.2 73L1603.9 71.4L1604.6 75.1L1605.4 72.7L1606.1 73.1L1606.8 74.4L1607.5 72.4L1608.2 72.4L1608.9 73.5L1609.7 75L1610.4 72.8L1611.1 74.4L1611.8 76.7L1612.5 73.6L1613.2 74.9L1614 70.6L1614.7 75.1L1615.4 74.1L1616.1 73.8L1616.8 72.7L1617.5 72.3L1618.3 72.7L1619 73.4L1619.7 72.8L1620.4 69.7L1621.1 74.2L1621.8 73L1622.6 73.8L1623.3 73.1L1624 75L1624.7 76.3L1625.4 74.5L1626.1 73L1626.9 74.2L1627.6 73.8L1628.3 72.2L1629 72L1629.7 74.5L1630.4 73.9L1631.2 74.8L1631.9 72.3L1632.6 71.7L1633.3 73.2L1634 79.1L1634.7 72.5L1635.5 73.8L1636.2 74.2L1636.9 73.5L1637.6 75.5L1638.3 73.8L1639 75L1639.8 71.4L1640.5 71.1L1641.2 70L1641.9 72.6L1642.6 71.7L1643.3 72.8L1644.1 72.3L1644.8 70.8L1645.5 70.8L1646.2 74.5L1646.9 74.8L1647.6 72.2L1648.4 73.9L1649.1 73.4L1649.8 72.7L1650.5 73.8L1651.2 72L1651.9 73.3L1652.7 74.9L1653.4 72.6L1654.1 73L1654.8 74.7L1655.5 74.3L1656.2 73.6L1657 75.9L1657.7 75.6L1658.4 75.9L1659.1 75.1L1659.8 73.7L1660.5 73.4L1661.3 71.2L1662 71.6L1662.7 74.6L1663.4 71.9L1664.1 73.1L1664.8 73.6L1665.6 70.9L1666.3 71.5L1667 71.7L1667.7 71.2L1668.4 71L1669.1 71.2L1669.9 72.5L1670.6 71.7L1671.3 71.4L1672 72.5L1672.7 71.6L1673.4 74L1674.2 74.1L1674.9 72.2L1675.6 73.9L1676.3 73.2L1677 72.8L1677.7 71.8L1678.5 71.9L1679.2 72.6L1679.9 72.9L1680.6 72.6L1681.3 72.1L1682 72.2L1682.8 72.9L1683.5 74.8L1684.2 68.7" stroke="#9467bd"/>
<polygon points="971.62,442.40 964.79,438.90 964.79,445.90" fill="#9467bd"/><polygon points="1028.96,136.18 1022.14,132.68 1022.14,139.68" fill="#9467bd"/><polygon points="1086.30,117.13 1079.48,113.63 1079.48,120.63" fill="#9467bd"/><polygon points="1143.65,99.79 1136.82,96.29 1136.82,103.29" fill="#9467bd"/><polygon points="1200.99,95.55 1194.17,92.05 1194.17,99.05" fill="#9467bd"/><polygon points="1258.34,90.88 1251.51,87.38 1251.51,94.38" fill="#9467bd"/><polygon points="1315.68,85.31 1308.86,81.81 1308.86,88.81" fill="#9467bd"/><polygon points="1373.02,80.48 1366.20,76.98 1366.20,83.98" fill="#9467bd"/><polygon points="1430.37,80.17 1423.54,76.67 1423.54,83.67" fill="#9467bd"/><polygon points="1487.71,77.71 1480.89,74.21 1480.89,81.21" fill="#9467bd"/><polygon points="1545.06,75.44 1538.23,71.94 1538.23,78.94" fill="#9467bd"/><polygon points="1602.40,73.01 1595.58,69.51 1595.58,76.51" fill="#9467bd"/><polygon points="1659.74,73.61 1652.92,70.11 1652.92,77.11" fill="#9467bd"/>
<path d="M968.1 416.1L968.8 355L969.6 335L970.3 323.2L971 314.7L971.7 308.6L972.4 300.9L973.1 292.3L973.9 282.6L974.6 277.3L975.3 274.6L976 269.1L976.7 264.4L977.4 260.7L978.2 259.9L978.9 251L979.6 250.8L980.3 247.7L981 245.1L981.7 243.8L982.5 241.3L983.2 239.5L983.9 237.8L984.6 234.5L985.3 233L986 230.3L986.8 228.2L987.5 224L988.2 222.7L988.9 222.7L989.6 220L990.3 218.3L991.1 216.2L991.8 214.5L992.5 212.5L993.2 210.4L993.9 208.4L994.6 206.5L995.4 202.5L996.1 202.4L996.8 197.3L997.5 197.8L998.2 192.2L998.9 192.2L999.7 190.2L1000.4 188.6L1001.1 188.3L1001.8 186.2L1002.5 183.8L1003.2 183.9L1004 183.2L1004.7 180.6L1005.4 179L1006.1 178.1L1006.8 177.7L1007.5 176.7L1008.3 176.5L1009 174L1009.7 172.3L1010.4 169.3L1011.1 171.8L1011.8 169.5L1012.6 169.5L1013.3 168.7L1014 168.1L1014.7 167.5L1015.4 167.4L1016.1 166.9L1016.9 165.6L1017.6 166L1018.3 163.3L1019 163.5L1019.7 162.7L1020.4 162.8L1021.2 160.2L1021.9 160.9L1022.6 161.3L1023.3 157.8L1024 160.3L1024.7 159.6L1025.5 158.3L1026.2 155.8L1026.9 156.3L1027.6 154.6L1028.3 155.6L1029 154.8L1029.8 156.1L1030.5 153.8L1031.2 154.5L1031.9 154.1L1032.6 153.8L1033.3 151.7L1034.1 151.6L1034.8 149.9L1035.5 149.4L1036.2 149.6L1036.9 148.6L1037.6 147.3L1038.4 147.1L1039.1 148.4L1039.8 147.1L1040.5 147.1L1041.2 145.3L1041.9 146.2L1042.7 146.2L1043.4 144.1L1044.1 144.2L1044.8 145L1045.5 144.3L1046.2 142.6L1047 141.6L1047.7 142.1L1048.4 143.4L1049.1 140.9L1049.8 143.6L1050.5 140.9L1051.3 140.1L1052 140.6L1052.7 138.9L1053.4 139.2L1054.1 137.4L1054.8 136L1055.6 136.1L1056.3 136.4L1057 135.6L1057.7 134.1L1058.4 136.3L1059.2 134.6L1059.9 133.7L1060.6 133.4L1061.3 131.2L1062 134L1062.7 132.1L1063.5 131.6L1064.2 132.4L1064.9 132.5L1065.6 131.4L1066.3 130.1L1067 130.4L1067.8 130L1068.5 129.4L1069.2 128.5L1069.9 130.9L1070.6 127.5L1071.3 127.5L1072.1 128.7L1072.8 127.3L1073.5 125.9L1074.2 126.7L1074.9 125.7L1075.6 124.8L1076.4 124.1L1077.1 124.6L1077.8 126.8L1078.5 125.2L1079.2 123.3L1079.9 122.7L1080.7 122.3L1081.4 123.7L1082.1 123.1L1082.8 122.8L1083.5 123.7L1084.2 121.7L1085 122.3L1085.7 122L1086.4 121.4L1087.1 120.2L1087.8 121.3L1088.5 121.7L1089.3 119.2L1090 120.9L1090.7 121.2L1091.4 121.8L1092.1 119.8L1092.8 118.8L1093.6 119.7L1094.3 121.2L1095 120.5L1095.7 119.5L1096.4 120.2L1097.1 116.8L1097.9 116.5L1098.6 118.9L1099.3 118L1100 115.8L1100.7 117.3L1101.4 117.1L1102.2 117.6L1102.9 114.9L1103.6 115.6L1104.3 115.5L1105 116.4L1105.7 115.4L1106.5 116.6L1107.2 115.7L1107.9 114L1108.6 115.2L1109.3 115.8L1110 115.1L1110.8 115.2L1111.5 113.9L1112.2 114.1L1112.9 112.5L1113.6 113.9L1114.3 112L1115.1 113.8L1115.8 112.1L1116.5 111.5L1117.2 113.2L1117.9 113L1118.6 112.6L1119.4 112.6L1120.1 112L1120.8 111L1121.5 111.5L1122.2 111.6L1122.9 111L1123.7 112L1124.4 110L1125.1 110.7L1125.8 111.1L1126.5 111.2L1127.2 110.5L1128 111.2L1128.7 111.6L1129.4 110.1L1130.1 110.7L1130.8 109.3L1131.5 110.6L1132.3 108.9L1133 108.9L1133.7 109.6L1134.4 108.8L1135.1 110L1135.8 107.7L1136.6 108.8L1137.3 110.5L1138 110.2L1138.7 108.4L1139.4 107.6L1140.1 107.5L1140.9 107.9L1141.6 107.6L1142.3 107L1143 106.8L1143.7 105.8L1144.4 105.2L1145.2 105L1145.9 106L1146.6 106L1147.3 106.7L1148 109.3L1148.8 105.7L1149.5 105.3L1150.2 106.6L1150.9 104.9L1151.6 105.8L1152.3 106.2L1153.1 105.3L1153.8 104L1154.5 103.9L1155.2 103.1L1155.9 104.2L1156.6 103.8L1157.4 104.7L1158.1 104.6L1158.8 104.5L1159.5 102.7L1160.2 104.2L1160.9 102.9L1161.7 102.5L1162.4 102.9L1163.1 103.3L1163.8 103.9L1164.5 103.7L1165.2 102.6L1166 103.8L1166.7 104.3L1167.4 103L1168.1 102.6L1168.8 101.3L1169.5 102.1L1170.3 101L1171 101.7L1171.7 101.9L1172.4 102.1L1173.1 101.5L1173.8 103.1L1174.6 101.5L1175.3 101.8L1176 102L1176.7 102.2L1177.4 101.4L1178.1 100.7L1178.9 99.3L1179.6 99.6L1180.3 99.7L1181 100.8L1181.7 100.9L1182.4 101.5L1183.2 100.1L1183.9 101.6L1184.6 100.7L1185.3 100.5L1186 100.1L1186.7 97.4L1187.5 99.6L1188.2 99.6L1188.9 99.3L1189.6 98.5L1190.3 101.4L1191 99.6L1191.8 99.6L1192.5 100.9L1193.2 99.6L1193.9 97.6L1194.6 98.6L1195.3 96.8L1196.1 98.8L1196.8 98.6L1197.5 100L1198.2 97.7L1198.9 99.5L1199.6 98.4L1200.4 100.5L1201.1 98.3L1201.8 99.9L1202.5 98.2L1203.2 98L1203.9 96.9L1204.7 97.8L1205.4 97.7L1206.1 96.5L1206.8 95.8L1207.5 96.2L1208.2 97.3L1209 96.1L1209.7 96.6L1210.4 96.7L1211.1 96.8L1211.8 96.8L1212.5 95.8L1213.3 97L1214 96.5L1214.7 97L1215.4 95L1216.1 96.1L1216.8 95.4L1217.6 95.6L1218.3 96.7L1219 95.3L1219.7 95.2L1220.4 96.5L1221.1 96.3L1221.9 95L1222.6 95.8L1223.3 96.2L1224 95.2L1224.7 94.5L1225.4 94.9L1226.2 96.4L1226.9 96L1227.6 95.2L1228.3 95L1229 94.4L1229.7 93.9L1230.5 94.8L1231.2 96.9L1231.9 94.2L1232.6 94.8L1233.3 94.1L1234 94.5L1234.8 93.2L1235.5 93.5L1236.2 93.1L1236.9 94L1237.6 93.9L1238.4 92.8L1239.1 95.1L1239.8 91.6L1240.5 94.2L1241.2 95.8L1241.9 93.7L1242.7 94.7L1243.4 94.8L1244.1 94.6L1244.8 93.3L1245.5 95.4L1246.2 93.4L1247 92.8L1247.7 93.9L1248.4 92.7L1249.1 93.3L1249.8 92L1250.5 92.9L1251.3 91.4L1252 92.4L1252.7 91.4L1253.4 91L1254.1 91.7L1254.8 91.6L1255.6 92L1256.3 92.6L1257 91.9L1257.7 90.6L1258.4 91.5L1259.1 91.8L1259.9 92.4L1260.6 92.6L1261.3 92.6L1262 91.2L1262.7 91.7L1263.4 89.9L1264.2 92.3L1264.9 91.7L1265.6 91.4L1266.3 90.7L1267 91.2L1267.7 91L1268.5 91.9L1269.2 91.2L1269.9 92.6L1270.6 92.3L1271.3 93.1L1272 90.9L1272.8 90.8L1273.5 91.2L1274.2 91.1L1274.9 90.9L1275.6 89.9L1276.3 89.5L1277.1 89.8L1277.8 90.2L1278.5 89.9L1279.2 88.4L1279.9 89.6L1280.6 90.9L1281.4 92.7L1282.1 91.3L1282.8 91.6L1283.5 91.1L1284.2 90L1284.9 90.1L1285.7 88.4L1286.4 89L1287.1 90L1287.8 88.3L1288.5 90.3L1289.2 89.9L1290 88.8L1290.7 89.9L1291.4 88L1292.1 88L1292.8 89.8L1293.5 88L1294.3 88L1295 87.8L1295.7 90.7L1296.4 89.2L1297.1 89.2L1297.8 90.1L1298.6 90.3L1299.3 89.5L1300 89.5L1300.7 89L1301.4 91.3L1302.1 88.7L1302.9 87.6L1303.6 88.5L1304.3 88.7L1305 91.1L1305.7 90.3L1306.4 91.5L1307.2 90.6L1307.9 89.4L1308.6 89.9L1309.3 89.1L1310 89.5L1310.7 88.8L1311.5 89.3L1312.2 88.3L1312.9 90.6L1313.6 89.4L1314.3 87.8L1315 86.7L1315.8 89.1L1316.5 88.9L1317.2 88L1317.9 86.6L1318.6 87.9L1319.3 88L1320.1 87.3L1320.8 86.9L1321.5 85.1L1322.2 87.6L1322.9 88.8L1323.6 87.6L1324.4 88.8L1325.1 87.6L1325.8 87.3L1326.5 89.3L1327.2 87.9L1328 86.8L1328.7 87.2L1329.4 86.9L1330.1 88.4L1330.8 87.6L1331.5 87.7L1332.3 86.2L1333 85.7L1333.7 87.5L1334.4 86.1L1335.1 86.3L1335.8 86L1336.6 86.1L1337.3 85.9L1338 85.1L1338.7 86.6L1339.4 86.5L1340.1 86.7L1340.9 86.3L1341.6 86.2L1342.3 85.8L1343 86.8L1343.7 86.6L1344.4 85.9L1345.2 85.1L1345.9 84.1L1346.6 85.5L1347.3 83.7L1348 84.2L1348.7 85.4L1349.5 87L1350.2 86.2L1350.9 84.1L1351.6 84.9L1352.3 84.4L1353 85.5L1353.8 86.1L1354.5 83.1L1355.2 85L1355.9 84.6L1356.6 86.1L1357.3 85.8L1358.1 85.3L1358.8 85.8L1359.5 84.2L1360.2 83.3L1360.9 83L1361.6 84.1L1362.4 84L1363.1 83.6L1363.8 84.7L1364.5 83.7L1365.2 82.7L1365.9 82.9L1366.7 83.9L1367.4 83L1368.1 84.5L1368.8 82.3L1369.5 84.7L1370.2 84.4L1371 85.4L1371.7 85L1372.4 86.2L1373.1 86L1373.8 86.6L1374.5 86.2L1375.3 86.1L1376 84.3L1376.7 84.3L1377.4 84L1378.1 85L1378.8 83.3L1379.6 83.5L1380.3 83.8L1381 84.6L1381.7 81.7L1382.4 83.3L1383.1 85.7L1383.9 84.7L1384.6 83.7L1385.3 84.9L1386 85L1386.7 84.8L1387.4 83.4L1388.2 83L1388.9 84.5L1389.6 83.1L1390.3 84.6L1391 85.1L1391.7 84.4L1392.5 86L1393.2 84.9L1393.9 85.1L1394.6 84.5L1395.3 84.7L1396 83.7L1396.8 83L1397.5 83.5L1398.2 84.9L1398.9 85.3L1399.6 85.3L1400.3 83.8L1401.1 84.4L1401.8 84.6L1402.5 86.6L1403.2 84L1403.9 85.7L1404.6 84.4L1405.4 84.9L1406.1 83.5L1406.8 83.8L1407.5 83.2L1408.2 82.1L1408.9 82.6L1409.7 82.9L1410.4 82.6L1411.1 80.8L1411.8 82.3L1412.5 82.6L1413.2 83.6L1414 83.4L1414.7 82.6L1415.4 81.9L1416.1 83.3L1416.8 83.2L1417.6 83.2L1418.3 82.6L1419 83.9L1419.7 82.7L1420.4 83.6L1421.1 83.3L1421.9 83.8L1422.6 82.7L1423.3 82.9L1424 82.5L1424.7 83.4L1425.4 84L1426.2 85.7L1426.9 82.7L1427.6 83.7L1428.3 83L1429 83L1429.7 82.6L1430.5 83.6L1431.2 83L1431.9 84.2L1432.6 83.9L1433.3 81.6L1434 83.2L1434.8 83.5L1435.5 81.6L1436.2 82.5L1436.9 82.3L1437.6 82.8L1438.3 83.3L1439.1 81.4L1439.8 83.3L1440.5 83.8L1441.2 82.7L1441.9 82.7L1442.6 82.8L1443.4 83.2L1444.1 84.4L1444.8 83.5L1445.5 85L1446.2 83.4L1446.9 84.3L1447.7 82.6L1448.4 82.5L1449.1 82.1L1449.8 82.5L1450.5 81.9L1451.2 81.6L1452 82.7L1452.7 80.7L1453.4 80.9L1454.1 81.7L1454.8 81L1455.5 80.7L1456.3 81.1L1457 81.3L1457.7 81L1458.4 81.5L1459.1 80.9L1459.8 82.1L1460.6 82.6L1461.3 81.8L1462 82.5L1462.7 82L1463.4 82.5L1464.1 83.5L1464.9 81.8L1465.6 79.8L1466.3 81.2L1467 81.2L1467.7 82.8L1468.4 79.9L1469.2 80.7L1469.9 81.7L1470.6 79.9L1471.3 81.6L1472 79.5L1472.7 80.4L1473.5 80.3L1474.2 80.9L1474.9 82.1L1475.6 82.4L1476.3 82.7L1477 82.1L1477.8 80.5L1478.5 82L1479.2 80.4L1479.9 81.1L1480.6 80.8L1481.3 79.4L1482.1 80.8L1482.8 79.5L1483.5 81.9L1484.2 81L1484.9 81.7L1485.6 81.8L1486.4 81.8L1487.1 81.2L1487.8 82.2L1488.5 80L1489.2 81.2L1489.9 81.5L1490.7 82.1L1491.4 82.3L1492.1 81.1L1492.8 83L1493.5 82.6L1494.2 81.8L1495 82.1L1495.7 80.8L1496.4 80.3L1497.1 80.8L1497.8 80.9L1498.5 83.7L1499.3 82.1L1500 82.9L1500.7 82.5L1501.4 83.1L1502.1 81.9L1502.8 81.8L1503.6 81.1L1504.3 80.3L1505 79.9L1505.7 80.2L1506.4 81.8L1507.2 80.8L1507.9 80.5L1508.6 80.7L1509.3 80.1L1510 80.3L1510.7 80.4L1511.5 81.3L1512.2 81.9L1512.9 80L1513.6 81.2L1514.3 82L1515 80.9L1515.8 81.7L1516.5 81.3L1517.2 83.7L1517.9 81.2L1518.6 80.5L1519.3 80.3L1520.1 81L1520.8 80.1L1521.5 81.2L1522.2 81L1522.9 80.3L1523.6 80.1L1524.4 80.1L1525.1 79.8L1525.8 79.9L1526.5 79.6L1527.2 83.5L1527.9 80L1528.7 81.2L1529.4 79.7L1530.1 79.8L1530.8 81.5L1531.5 81.3L1532.2 81.6L1533 82L1533.7 81.6L1534.4 82.7L1535.1 82.3L1535.8 79.9L1536.5 79.9L1537.3 81.3L1538 82.3L1538.7 81.5L1539.4 80.1L1540.1 81L1540.8 80.7L1541.6 80.5L1542.3 80.9L1543 82L1543.7 82.5L1544.4 81.6L1545.1 80.9L1545.9 81.8L1546.6 81.5L1547.3 80.2L1548 81.1L1548.7 81.2L1549.4 82L1550.2 81.8L1550.9 80.9L1551.6 82L1552.3 81.9L1553 80.6L1553.7 81.8L1554.5 81.8L1555.2 80.5L1555.9 81.6L1556.6 81.8L1557.3 79.9L1558 81.1L1558.8 81.2L1559.5 80.1L1560.2 81.3L1560.9 80.2L1561.6 80.1L1562.3 79.2L1563.1 81.3L1563.8 81.3L1564.5 83.5L1565.2 80.4L1565.9 82.1L1566.6 82.2L1567.4 82.6L1568.1 78.1L1568.8 81.3L1569.5 80.6L1570.2 78L1570.9 78.7L1571.7 79.8L1572.4 81.4L1573.1 80L1573.8 80.9L1574.5 80.6L1575.2 81L1576 80.9L1576.7 81.6L1577.4 81.8L1578.1 80.3L1578.8 81.9L1579.5 80.5L1580.3 80.9L1581 81.7L1581.7 81.9L1582.4 81.8L1583.1 82.5L1583.8 82.5L1584.6 80.5L1585.3 80.3L1586 81.9L1586.7 82.1L1587.4 81.2L1588.1 80.9L1588.9 81.1L1589.6 80.1L1590.3 79.1L1591 80.6L1591.7 82.8L1592.4 81.8L1593.2 80.9L1593.9 80.3L1594.6 80.6L1595.3 79.9L1596 81.1L1596.8 81.2L1597.5 80.2L1598.2 81.4L1598.9 80.1L1599.6 81.3L1600.3 80.9L1601.1 81.6L1601.8 80.6L1602.5 80.9L1603.2 82L1603.9 80.5L1604.6 80.4L1605.4 81L1606.1 80.8L1606.8 79.2L1607.5 80.1L1608.2 79.9L1608.9 79.9L1609.7 80.6L1610.4 79.5L1611.1 81L1611.8 80.9L1612.5 81L1613.2 80.9L1614 83.6L1614.7 80.5L1615.4 81.5L1616.1 80.4L1616.8 80.5L1617.5 81.7L1618.3 80.3L1619 81.5L1619.7 80.3L1620.4 79.4L1621.1 79.3L1621.8 81.5L1622.6 80.3L1623.3 80.1L1624 79.9L1624.7 81.8L1625.4 80.4L1626.1 80.4L1626.9 81L1627.6 81.5L1628.3 81L1629 81.4L1629.7 80.6L1630.4 79.3L1631.2 81.7L1631.9 81.4L1632.6 80.5L1633.3 81.5L1634 79.2L1634.7 76.6L1635.5 80.7L1636.2 80.1L1636.9 78.6L1637.6 79.5L1638.3 80.4L1639 79.3L1639.8 80.1L1640.5 81.5L1641.2 81.1L1641.9 80.1L1642.6 79.8L1643.3 79L1644.1 79.4L1644.8 79.5L1645.5 79.7L1646.2 79.7L1646.9 81.9L1647.6 80.3L1648.4 79.2L1649.1 79.9L1649.8 81L1650.5 81L1651.2 78.4L1651.9 79L1652.7 79.5L1653.4 78.7L1654.1 78.9L1654.8 78.6L1655.5 79L1656.2 80.3L1657 78.3L1657.7 79.2L1658.4 80.4L1659.1 80.3L1659.8 79.4L1660.5 81.5L1661.3 80.1L1662 80.1L1662.7 79L1663.4 81L1664.1 80.2L1664.8 78.5L1665.6 79.1L1666.3 82.4L1667 80.2L1667.7 80L1668.4 80.9L1669.1 78.6L1669.9 79.5L1670.6 79.4L1671.3 80.1L1672 80.6L1672.7 80.4L1673.4 81.2L1674.2 81.3L1674.9 82.8L1675.6 79.9L1676.3 80.5L1677 80.9L1677.7 79.3L1678.5 80.2L1679.2 80.3L1679.9 78.9L1680.6 80.1L1681.3 80.5L1682 79L1682.8 78L1683.5 79.9L1684.2 79.4" stroke="#8c564b"/>
<circle cx="968.12" cy="416.10" r="2.50" fill="#8c564b"/><circle cx="1025.46" cy="158.26" r="2.50" fill="#8c564b"/><circle cx="1082.80" cy="122.80" r="2.50" fill="#8c564b"/><circle cx="1140.15" cy="107.53" r="2.50" fill="#8c564b"/><circle cx="1197.49" cy="100.03" r="2.50" fill="#8c564b"/><circle cx="1254.84" cy="91.57" r="2.50" fill="#8c564b"/><circle cx="1312.18" cy="88.31" r="2.50" fill="#8c564b"/><circle cx="1369.52" cy="84.72" r="2.50" fill="#8c564b"/><circle cx="1426.87" cy="82.68" r="2.50" fill="#8c564b"/><circle cx="1484.21" cy="80.99" r="2.50" fill="#8c564b"/><circle cx="1541.56" cy="80.53" r="2.50" fill="#8c564b"/><circle cx="1598.90" cy="80.11" r="2.50" fill="#8c564b"/><circle cx="1656.24" cy="80.28" r="2.50" fill="#8c564b"/>
<path d="M968.1 263.9L968.8 240L969.6 225L970.3 212.4L971 207.7L971.7 201.1L972.4 196.4L973.1 191.2L973.9 184.5L974.6 178.6L975.3 179L976 174.5L976.7 168.3L977.4 165L978.2 168.2L978.9 161L979.6 164.8L980.3 172.6L981 155.4L981.7 158.2L982.5 154.6L983.2 152.6L983.9 146.1L984.6 155.8L985.3 147.2L986 143.2L986.8 146.6L987.5 136.3L988.2 142.2L988.9 135.7L989.6 134.8L990.3 134.1L991.1 139.1L991.8 135.6L992.5 138L993.2 135.8L993.9 134.7L994.6 137.5L995.4 135.5L996.1 137.3L996.8 137.5L997.5 130.3L998.2 135.6L998.9 137.3L999.7 131.6L1000.4 144.9L1001.1 128L1001.8 129.3L1002.5 143.4L1003.2 127.7L1004 128.8L1004.7 126.4L1005.4 130.3L1006.1 124.4L1006.8 131.6L1007.5 131.5L1008.3 125.1L1009 130L1009.7 127.6L1010.4 130.7L1011.1 124.3L1011.8 125.1L1012.6 125.5L1013.3 129.3L1014 120.8L1014.7 129.5L1015.4 126L1016.1 127.7L1016.9 124.7L1017.6 125.6L1018.3 123.7L1019 127L1019.7 123.9L1020.4 119.1L1021.2 119.8L1021.9 126.4L1022.6 120.4L1023.3 126.8L1024 129.1L1024.7 124.6L1025.5 128.9L1026.2 128.1L1026.9 124.8L1027.6 122.5L1028.3 126.5L1029 122.6L1029.8 121.4L1030.5 120.4L1031.2 120.3L1031.9 120.8L1032.6 124L1033.3 112.9L1034.1 117.4L1034.8 120.6L1035.5 127.5L1036.2 123.5L1036.9 122.8L1037.6 117.5L1038.4 121.1L1039.1 120.5L1039.8 117.2L1040.5 116.9L1041.2 119.9L1041.9 124.5L1042.7 115.3L1043.4 124.7L1044.1 119L1044.8 115.2L1045.5 120.5L1046.2 117.6L1047 119.7L1047.7 119.1L1048.4 116.7L1049.1 110.4L1049.8 114.5L1050.5 117.8L1051.3 116.1L1052 117.7L1052.7 113.9L1053.4 122.1L1054.1 112.9L1054.8 111.9L1055.6 116.4L1056.3 114.2L1057 111.5L1057.7 113.7L1058.4 113.6L1059.2 115L1059.9 108.3L1060.6 107.4L1061.3 112.1L1062 114.2L1062.7 114.4L1063.5 115.5L1064.2 117.7L1064.9 119.8L1065.6 118.1L1066.3 111.5L1067 111.7L1067.8 107.7L1068.5 111.4L1069.2 106.1L1069.9 111.3L1070.6 110.1L1071.3 108L1072.1 104.5L1072.8 110.7L1073.5 109.9L1074.2 112.9L1074.9 111.7L1075.6 113.5L1076.4 117.1L1077.1 116.6L1077.8 107.2L1078.5 109.7L1079.2 110.6L1079.9 111.1L1080.7 111.2L1081.4 119.1L1082.1 112.7L1082.8 110.7L1083.5 113.8L1084.2 113.9L1085 107.3L1085.7 114.4L1086.4 110.2L1087.1 108.9L1087.8 115L1088.5 107.5L1089.3 104.7L1090 103.6L1090.7 108.8L1091.4 107L1092.1 108.8L1092.8 105.8L1093.6 105.5L1094.3 109.7L1095 110.6L1095.7 107.9L1096.4 109.1L1097.1 110.9L1097.9 116.2L1098.6 110.2L1099.3 107.2L1100 113.8L1100.7 111.4L1101.4 108.3L1102.2 112.2L1102.9 110.1L1103.6 107.6L1104.3 106.5L1105 109.9L1105.7 110.7L1106.5 108.1L1107.2 117.5L1107.9 109.1L1108.6 112.1L1109.3 107.8L1110 106.7L1110.8 108.1L1111.5 104.8L1112.2 106.5L1112.9 111.6L1113.6 106L1114.3 109.7L1115.1 106L1115.8 117L1116.5 109.4L1117.2 109.4L1117.9 113.6L1118.6 102.2L1119.4 108.9L1120.1 104.1L1120.8 109L1121.5 107.2L1122.2 105.5L1122.9 107.1L1123.7 108.6L1124.4 103.7L1125.1 109.8L1125.8 115.2L1126.5 112.6L1127.2 105.6L1128 107.6L1128.7 104.3L1129.4 105.7L1130.1 107.6L1130.8 109.9L1131.5 109.4L1132.3 107.2L1133 111.5L1133.7 110.5L1134.4 108.5L1135.1 110.7L1135.8 109.8L1136.6 104.7L1137.3 109.4L1138 109.7L1138.7 113.2L1139.4 110.2L1140.1 107.5L1140.9 111.7L1141.6 113.4L1142.3 111.8L1143 106.4L1143.7 109.8L1144.4 113.3L1145.2 105.8L1145.9 116.9L1146.6 110.3L1147.3 112.2L1148 110.6L1148.8 111.1L1149.5 109.5L1150.2 109.7L1150.9 110.3L1151.6 108.4L1152.3 107.1L1153.1 107.2L1153.8 107.2L1154.5 108.8L1155.2 105.6L1155.9 112.1L1156.6 108.8L1157.4 106.6L1158.1 110.1L1158.8 105.1L1159.5 110.7L1160.2 110L1160.9 109.7L1161.7 105.5L1162.4 114.6L1163.1 114.5L1163.8 106.3L1164.5 111.9L1165.2 111.7L1166 109L1166.7 111.5L1167.4 115.1L1168.1 112.8L1168.8 128.7L1169.5 109.1L1170.3 104.6L1171 110L1171.7 107.3L1172.4 110.2L1173.1 109.6L1173.8 107.7L1174.6 106.8L1175.3 108.4L1176 109.9L1176.7 120.9L1177.4 108.4L1178.1 114.1L1178.9 120.7L1179.6 107.9L1180.3 111.3L1181 112.2L1181.7 109.4L1182.4 108.7L1183.2 109.2L1183.9 109.1L1184.6 106.9L1185.3 103.5L1186 101.9L1186.7 101.3L1187.5 101L1188.2 103.1L1188.9 103.9L1189.6 105.8L1190.3 105.9L1191 111.2L1191.8 103.5L1192.5 106.9L1193.2 107.9L1193.9 121.8L1194.6 113.2L1195.3 109.9L1196.1 110.7L1196.8 106.6L1197.5 106.1L1198.2 112L1198.9 117.1L1199.6 105.3L1200.4 106L1201.1 108.7L1201.8 105.8L1202.5 119.1L1203.2 108.8L1203.9 105.2L1204.7 105.6L1205.4 102.8L1206.1 113.3L1206.8 108.1L1207.5 104.2L1208.2 103.9L1209 108.4L1209.7 119.6L1210.4 107.9L1211.1 104.9L1211.8 109.3L1212.5 106.9L1213.3 101.3L1214 106.4L1214.7 105.3L1215.4 103.8L1216.1 106.8L1216.8 103.4L1217.6 106L1218.3 98.7L1219 103.6L1219.7 99.3L1220.4 98.8L1221.1 98.1L1221.9 101.9L1222.6 103.2L1223.3 102.6L1224 100.1L1224.7 100.6L1225.4 105.9L1226.2 102L1226.9 108.4L1227.6 102.9L1228.3 105.7L1229 116.1L1229.7 106.5L1230.5 103.8L1231.2 104.8L1231.9 105.1L1232.6 108.1L1233.3 110.7L1234 103.6L1234.8 103.2L1235.5 103.2L1236.2 105.7L1236.9 109.9L1237.6 100.8L1238.4 106.7L1239.1 103L1239.8 102.2L1240.5 106.5L1241.2 111.8L1241.9 107.2L1242.7 121.7L1243.4 103.4L1244.1 104.3L1244.8 99.5L1245.5 103.2L1246.2 103.2L1247 102.3L1247.7 107.2L1248.4 100.3L1249.1 106.8L1249.8 99.4L1250.5 100.8L1251.3 106.2L1252 105.8L1252.7 106.8L1253.4 107L1254.1 104.9L1254.8 101.9L1255.6 105.7L1256.3 104.7L1257 104.5L1257.7 107.4L1258.4 108.4L1259.1 103.7L1259.9 102.4L1260.6 100.5L1261.3 96.7L1262 97.9L1262.7 98L1263.4 99.8L1264.2 98.7L1264.9 94.7L1265.6 100.1L1266.3 102.6L1267 92L1267.7 97.6L1268.5 102L1269.2 96.2L1269.9 96.8L1270.6 101.9L1271.3 102.4L1272 101.4L1272.8 107.3L1273.5 105.4L1274.2 102.1L1274.9 101.5L1275.6 101.6L1276.3 107.2L1277.1 103.3L1277.8 105.5L1278.5 105.2L1279.2 99.9L1279.9 102L1280.6 106.1L1281.4 119.6L1282.1 102L1282.8 102.1L1283.5 101.9L1284.2 107.2L1284.9 100.3L1285.7 100.7L1286.4 104L1287.1 106.7L1287.8 111.4L1288.5 98.4L1289.2 102.5L1290 99.2L1290.7 104L1291.4 98.1L1292.1 99.3L1292.8 96.6L1293.5 99.9L1294.3 113.7L1295 109.2L1295.7 93.2L1296.4 99L1297.1 99.2L1297.8 103.4L1298.6 100.7L1299.3 115.2L1300 108.9L1300.7 100.3L1301.4 100L1302.1 101.4L1302.9 96.5L1303.6 102.4L1304.3 98.6L1305 94.9L1305.7 99.5L1306.4 101L1307.2 114.9L1307.9 106L1308.6 105L1309.3 101.7L1310 104.8L1310.7 103L1311.5 109.5L1312.2 100.2L1312.9 109.1L1313.6 104.6L1314.3 103.9L1315 104.4L1315.8 104.2L1316.5 100.6L1317.2 99.1L1317.9 107.6L1318.6 104.8L1319.3 100.7L1320.1 101.5L1320.8 93.9L1321.5 101.3L1322.2 102.8L1322.9 104.7L1323.6 106.5L1324.4 102.9L1325.1 100.5L1325.8 100.9L1326.5 99.4L1327.2 100.9L1328 101.3L1328.7 98L1329.4 106.4L1330.1 109.6L1330.8 103L1331.5 107.7L1332.3 103.2L1333 103.1L1333.7 108.2L1334.4 105.5L1335.1 123.3L1335.8 111L1336.6 103.9L1337.3 103.7L1338 108.2L1338.7 121.5L1339.4 107.5L1340.1 103.5L1340.9 102L1341.6 100.4L1342.3 104.2L1343 104.7L1343.7 101.4L1344.4 103.1L1345.2 98.6L1345.9 103.6L1346.6 101.1L1347.3 99.3L1348 95.2L1348.7 97.5L1349.5 94.8L1350.2 104.7L1350.9 98.1L1351.6 101.9L1352.3 100L1353 100.5L1353.8 95.3L1354.5 97.8L1355.2 99.8L1355.9 101.4L1356.6 95.4L1357.3 100.7L1358.1 96.5L1358.8 101.9L1359.5 99.7L1360.2 97.2L1360.9 99.4L1361.6 100.1L1362.4 96.7L1363.1 100.7L1363.8 97L1364.5 105.2L1365.2 98.4L1365.9 100.9L1366.7 96L1367.4 98.4L1368.1 99.8L1368.8 96.2L1369.5 97.6L1370.2 97.5L1371 117.1L1371.7 98.3L1372.4 96.2L1373.1 102.4L1373.8 98.6L1374.5 99.9L1375.3 96.1L1376 99.2L1376.7 101.8L1377.4 99.5L1378.1 99.9L1378.8 102.6L1379.6 101.3L1380.3 100.2L1381 99.6L1381.7 95.2L1382.4 100.8L1383.1 96.9L1383.9 99.9L1384.6 92.8L1385.3 101.6L1386 101.7L1386.7 98.2L1387.4 107.1L1388.2 95.8L1388.9 103.7L1389.6 101.7L1390.3 98.5L1391 103.9L1391.7 102.8L1392.5 100.7L1393.2 108.7L1393.9 100.2L1394.6 98.3L1395.3 102.5L1396 98.2L1396.8 99.3L1397.5 97.3L1398.2 97.3L1398.9 97L1399.6 96.6L1400.3 93.9L1401.1 101L1401.8 100.3L1402.5 101.3L1403.2 96.1L1403.9 101.1L1404.6 98.5L1405.4 108.7L1406.1 99.2L1406.8 101.1L1407.5 99.8L1408.2 97.8L1408.9 119.5L1409.7 101.8L1410.4 102.5L1411.1 100.8L1411.8 100L1412.5 103.9L1413.2 103.6L1414 97.6L1414.7 98L1415.4 102.1L1416.1 94.8L1416.8 100.1L1417.6 100.8L1418.3 97.8L1419 95.9L1419.7 98.2L1420.4 97.8L1421.1 98.7L1421.9 105.6L1422.6 101.7L1423.3 101.6L1424 101.4L1424.7 98.9L1425.4 95.3L1426.2 95.4L1426.9 98.5L1427.6 97.6L1428.3 99.3L1429 101.2L1429.7 103.3L1430.5 99.6L1431.2 95L1431.9 130L1432.6 97.4L1433.3 99.3L1434 99.7L1434.8 99.2L1435.5 100L1436.2 102.6L1436.9 100.6L1437.6 104.3L1438.3 101.5L1439.1 95.1L1439.8 102L1440.5 96.4L1441.2 102.5L1441.9 97.8L1442.6 96.9L1443.4 95.6L1444.1 112.7L1444.8 98.3L1445.5 114.2L1446.2 95.7L1446.9 96.8L1447.7 99.2L1448.4 97.6L1449.1 98.9L1449.8 96.9L1450.5 98.8L1451.2 93.7L1452 98.3L1452.7 93.6L1453.4 96.9L1454.1 96.4L1454.8 98.6L1455.5 100.5L1456.3 99.9L1457 92.5L1457.7 103.9L1458.4 97.4L1459.1 102.5L1459.8 97.2L1460.6 101L1461.3 98.7L1462 95.9L1462.7 101.8L1463.4 96.7L1464.1 102.7L1464.9 102.2L1465.6 105.1L1466.3 97.4L1467 104.9L1467.7 112L1468.4 97.5L1469.2 113.1L1469.9 104.5L1470.6 103.7L1471.3 102.8L1472 106.5L1472.7 101.6L1473.5 100.9L1474.2 104L1474.9 100L1475.6 100.9L1476.3 97.9L1477 100.7L1477.8 99L1478.5 95.9L1479.2 99.6L1479.9 99.1L1480.6 100.6L1481.3 99.4L1482.1 93.7L1482.8 96.3L1483.5 94.3L1484.2 99L1484.9 94L1485.6 99.9L1486.4 97.7L1487.1 95.1L1487.8 98.9L1488.5 100.9L1489.2 103.5L1489.9 96.6L1490.7 95.4L1491.4 94L1492.1 100.5L1492.8 92.9L1493.5 98L1494.2 95.5L1495 100.9L1495.7 98.7L1496.4 103.6L1497.1 99.2L1497.8 100.6L1498.5 101.8L1499.3 101.8L1500 93.6L1500.7 97.5L1501.4 97.5L1502.1 92.9L1502.8 98.9L1503.6 98.5L1504.3 96.1L1505 90.1L1505.7 95.9L1506.4 99.1L1507.2 100.9L1507.9 95.7L1508.6 100.9L1509.3 103.5L1510 95.6L1510.7 93.7L1511.5 95.2L1512.2 95.3L1512.9 97.5L1513.6 101.5L1514.3 95.4L1515 96.3L1515.8 102.3L1516.5 98.9L1517.2 97.5L1517.9 98L1518.6 97.2L1519.3 98.9L1520.1 101L1520.8 99L1521.5 100.7L1522.2 93.7L1522.9 109.4L1523.6 97.9L1524.4 100.8L1525.1 100.8L1525.8 102.1L1526.5 102.2L1527.2 99.8L1527.9 96.9L1528.7 100.3L1529.4 102L1530.1 102.9L1530.8 98.5L1531.5 99.4L1532.2 99.7L1533 99.8L1533.7 109.9L1534.4 102.2L1535.1 145L1535.8 101.8L1536.5 102.9L1537.3 95.1L1538 97.7L1538.7 96L1539.4 93.5L1540.1 95.2L1540.8 95.2L1541.6 95.7L1542.3 100.5L1543 99.7L1543.7 100.1L1544.4 94.6L1545.1 99.9L1545.9 96.8L1546.6 94.3L1547.3 95.4L1548 106.5L1548.7 99.4L1549.4 97.6L1550.2 101.7L1550.9 98.9L1551.6 98.8L1552.3 99.7L1553 94.4L1553.7 96.2L1554.5 98.2L1555.2 97.4L1555.9 94.3L1556.6 95.6L1557.3 98L1558 97.8L1558.8 100.8L1559.5 102.5L1560.2 98.5L1560.9 99.8L1561.6 99.1L1562.3 111.9L1563.1 97.5L1563.8 97.2L1564.5 103L1565.2 116.6L1565.9 98.2L1566.6 98.9L1567.4 100.6L1568.1 96.6L1568.8 97.4L1569.5 100.6L1570.2 94.9L1570.9 95.6L1571.7 92.7L1572.4 98.3L1573.1 98.7L1573.8 99.2L1574.5 97.1L1575.2 101.9L1576 94L1576.7 105.7L1577.4 99.7L1578.1 94.6L1578.8 103.4L1579.5 92.5L1580.3 93.7L1581 95.8L1581.7 101.4L1582.4 96.6L1583.1 97.4L1583.8 104.8L1584.6 99.9L1585.3 94.4L1586 116.6L1586.7 104.6L1587.4 98.7L1588.1 102.7L1588.9 112.3L1589.6 104.7L1590.3 101L1591 103.5L1591.7 98.2L1592.4 115.9L1593.2 96.4L1593.9 95.6L1594.6 95.4L1595.3 103.2L1596 90.6L1596.8 90.6L1597.5 98.1L1598.2 100.5L1598.9 97.2L1599.6 93.5L1600.3 94.5L1601.1 100.3L1601.8 92.8L1602.5 92.6L1603.2 98.4L1603.9 97.8L1604.6 93.4L1605.4 93.5L1606.1 93L1606.8 101.5L1607.5 96.3L1608.2 116.3L1608.9 99.8L1609.7 96.7L1610.4 100.3L1611.1 99.7L1611.8 98.7L1612.5 100.3L1613.2 101.7L1614 98.8L1614.7 97.1L1615.4 94.1L1616.1 93.5L1616.8 95.7L1617.5 95.1L1618.3 90.5L1619 91.1L1619.7 93.5L1620.4 94.2L1621.1 97.5L1621.8 106.5L1622.6 96.5L1623.3 96.6L1624 100.7L1624.7 96.2L1625.4 91.5L1626.1 95.9L1626.9 95.1L1627.6 92.2L1628.3 93.3L1629 95.1L1629.7 98.1L1630.4 99.7L1631.2 95.5L1631.9 96.1L1632.6 97L1633.3 92.7L1634 96.1L1634.7 100.8L1635.5 100.7L1636.2 95.8L1636.9 101.8L1637.6 92.7L1638.3 93.1L1639 93L1639.8 97.5L1640.5 95.8L1641.2 97.8L1641.9 92.7L1642.6 97.3L1643.3 94.6L1644.1 97.9L1644.8 96.7L1645.5 112.9L1646.2 95L1646.9 93.7L1647.6 92.4L1648.4 99.6L1649.1 99.1L1649.8 96.3L1650.5 114.1L1651.2 98.4L1651.9 98.1L1652.7 98L1653.4 97.6L1654.1 98.3L1654.8 101L1655.5 97L1656.2 96.6L1657 100.4L1657.7 100.4L1658.4 97.6L1659.1 96.9L1659.8 99.6L1660.5 97.5L1661.3 98.3L1662 99.7L1662.7 97.1L1663.4 100.1L1664.1 95.7L1664.8 96.4L1665.6 99.2L1666.3 97.3L1667 97.4L1667.7 94.5L1668.4 93.3L1669.1 101.2L1669.9 96.8L1670.6 99.6L1671.3 99.4L1672 96.2L1672.7 97L1673.4 96.8L1674.2 94.4L1674.9 94.9L1675.6 114.3L1676.3 100.6L1677 107.8L1677.7 98.4L1678.5 100.7L1679.2 108.5L1679.9 96.5L1680.6 99.4L1681.3 95.8L1682 94.5L1682.8 102.9L1683.5 95L1684.2 121" stroke="#e377c2"/>
<rect x="965.62" y="261.40" width="5.00" height="5.00" fill="#e377c2"/><rect x="1022.96" y="126.40" width="5.00" height="5.00" fill="#e377c2"/><rect x="1080.30" y="108.15" width="5.00" height="5.00" fill="#e377c2"/><rect x="1137.65" y="105.02" width="5.00" height="5.00" fill="#e377c2"/><rect x="1194.99" y="103.64" width="5.00" height="5.00" fill="#e377c2"/><rect x="1252.34" y="99.36" width="5.00" height="5.00" fill="#e377c2"/><rect x="1309.68" y="97.69" width="5.00" height="5.00" fill="#e377c2"/><rect x="1367.02" y="95.12" width="5.00" height="5.00" fill="#e377c2"/><rect x="1424.37" y="96.03" width="5.00" height="5.00" fill="#e377c2"/><rect x="1481.71" y="96.52" width="5.00" height="5.00" fill="#e377c2"/><rect x="1539.06" y="93.25" width="5.00" height="5.00" fill="#e377c2"/><rect x="1596.40" y="94.71" width="5.00" height="5.00" fill="#e377c2"/><rect x="1653.74" y="94.15" width="5.00" height="5.00" fill="#e377c2"/>
<path d="M968.1 275.8L968.8 245L969.6 230L970.3 218.4L971 209L971.7 201.5L972.4 199.3L973.1 190.6L973.9 190.8L974.6 187.7L975.3 184.8L976 181.2L976.7 180.1L977.4 177.3L978.2 173.8L978.9 168.4L979.6 172.2L980.3 167.2L981 167.3L981.7 171.7L982.5 168.2L983.2 166.6L983.9 165L984.6 166.2L985.3 161.8L986 160.7L986.8 161.2L987.5 161.6L988.2 154L988.9 154.8L989.6 162.1L990.3 158.5L991.1 157.8L991.8 155L992.5 154.6L993.2 155.3L993.9 162.9L994.6 152.7L995.4 148.1L996.1 153L996.8 150.5L997.5 149.1L998.2 150.3L998.9 150.2L999.7 150.7L1000.4 154.5L1001.1 150.6L1001.8 151.9L1002.5 151.8L1003.2 149.2L1004 154L1004.7 149.9L1005.4 149.3L1006.1 150.2L1006.8 150.7L1007.5 148.5L1008.3 152.4L1009 149.3L1009.7 146.9L1010.4 153.8L1011.1 147.5L1011.8 146.9L1012.6 149.7L1013.3 145.3L1014 147.6L1014.7 161.2L1015.4 144.7L1016.1 145.4L1016.9 148.8L1017.6 149.7L1018.3 146.5L1019 147.8L1019.7 151.1L1020.4 143.8L1021.2 146.8L1021.9 145.6L1022.6 143.4L1023.3 141.6L1024 146.4L1024.7 148L1025.5 146.1L1026.2 150.2L1026.9 141.5L1027.6 146.2L1028.3 149.8L1029 146.4L1029.8 145.4L1030.5 148.2L1031.2 147.6L1031.9 147.9L1032.6 153.6L1033.3 148.4L1034.1 146.7L1034.8 143.1L1035.5 140.6L1036.2 143.8L1036.9 142.6L1037.6 146.3L1038.4 146.8L1039.1 146L1039.8 142.4L1040.5 145L1041.2 144.8L1041.9 151.8L1042.7 140.7L1043.4 141.8L1044.1 142.6L1044.8 143.4L1045.5 151.6L1046.2 143.6L1047 143L1047.7 156.7L1048.4 144.7L1049.1 139.5L1049.8 144.1L1050.5 144.4L1051.3 145.2L1052 145L1052.7 143.3L1053.4 141.1L1054.1 143L1054.8 140.3L1055.6 140.9L1056.3 140.8L1057 137.9L1057.7 135.4L1058.4 139.6L1059.2 139L1059.9 135.5L1060.6 137L1061.3 141.6L1062 141.8L1062.7 138.4L1063.5 141L1064.2 140.3L1064.9 140.4L1065.6 140.5L1066.3 140.2L1067 143.9L1067.8 139.6L1068.5 138.8L1069.2 143.2L1069.9 142.9L1070.6 140.5L1071.3 139.4L1072.1 140.6L1072.8 140.4L1073.5 139.2L1074.2 140.3L1074.9 138.9L1075.6 141.4L1076.4 141L1077.1 138.5L1077.8 136.4L1078.5 136.7L1079.2 135.5L1079.9 148.4L1080.7 135.1L1081.4 138.2L1082.1 137.1L1082.8 140.3L1083.5 135.2L1084.2 136.1L1085 135.4L1085.7 139.9L1086.4 136L1087.1 142L1087.8 138.4L1088.5 141.5L1089.3 138L1090 138.2L1090.7 137.8L1091.4 137.8L1092.1 136.7L1092.8 139.9L1093.6 140.6L1094.3 140.8L1095 139.5L1095.7 137.5L1096.4 139.9L1097.1 135.8L1097.9 139.7L1098.6 144.2L1099.3 134.5L1100 137.3L1100.7 135.4L1101.4 138.7L1102.2 145.1L1102.9 132.2L1103.6 134L1104.3 134.6L1105 133.9L1105.7 142.1L1106.5 138.8L1107.2 142.8L1107.9 138.6L1108.6 137.9L1109.3 140.2L1110 140.7L1110.8 142.7L1111.5 143.7L1112.2 142.1L1112.9 137.2L1113.6 151.9L1114.3 137.2L1115.1 131L1115.8 138.1L1116.5 134.5L1117.2 136.8L1117.9 137.4L1118.6 136.3L1119.4 138.7L1120.1 142.3L1120.8 141.4L1121.5 140.4L1122.2 139.2L1122.9 138.4L1123.7 142L1124.4 136.2L1125.1 138.7L1125.8 144.3L1126.5 137.6L1127.2 138.9L1128 137.7L1128.7 140.2L1129.4 137.4L1130.1 139.9L1130.8 140.2L1131.5 147.3L1132.3 142.7L1133 140.8L1133.7 139.9L1134.4 145.6L1135.1 140.8L1135.8 138.8L1136.6 138.4L1137.3 141.2L1138 137.9L1138.7 135.6L1139.4 139.1L1140.1 137.6L1140.9 135.1L1141.6 138.5L1142.3 138.4L1143 143.1L1143.7 136.5L1144.4 140.2L1145.2 139.9L1145.9 139.1L1146.6 140.1L1147.3 137L1148 143L1148.8 138.6L1149.5 139.2L1150.2 145.8L1150.9 140L1151.6 139.4L1152.3 138.8L1153.1 137L1153.8 139.6L1154.5 140.2L1155.2 134.9L1155.9 149.2L1156.6 137L1157.4 134.6L1158.1 136L1158.8 138.8L1159.5 136.7L1160.2 141.2L1160.9 141.9L1161.7 141.4L1162.4 142.8L1163.1 137.8L1163.8 138.4L1164.5 140.8L1165.2 141.9L1166 140.6L1166.7 142.1L1167.4 138L1168.1 134.9L1168.8 138.3L1169.5 134.5L1170.3 131.9L1171 137L1171.7 137L1172.4 138.8L1173.1 136.7L1173.8 139.3L1174.6 136.4L1175.3 138.1L1176 135.8L1176.7 136.8L1177.4 139.8L1178.1 137.2L1178.9 135.6L1179.6 138.6L1180.3 139L1181 135.9L1181.7 139.7L1182.4 134.2L1183.2 139.3L1183.9 137.5L1184.6 140.4L1185.3 138.9L1186 133.8L1186.7 133.5L1187.5 135.1L1188.2 137.8L1188.9 134.7L1189.6 141.9L1190.3 137.1L1191 132L1191.8 128.7L1192.5 133.6L1193.2 135.4L1193.9 133.3L1194.6 135.8L1195.3 136.3L1196.1 135.7L1196.8 134.5L1197.5 135.4L1198.2 134.1L1198.9 136.2L1199.6 135.2L1200.4 137.1L1201.1 136.5L1201.8 136.1L1202.5 138.8L1203.2 136.8L1203.9 139.4L1204.7 138.6L1205.4 133.7L1206.1 137.7L1206.8 134.1L1207.5 132.5L1208.2 134.4L1209 134.8L1209.7 137.4L1210.4 138.4L1211.1 132.1L1211.8 133.9L1212.5 135.2L1213.3 136L1214 135L1214.7 134.8L1215.4 132.2L1216.1 136.5L1216.8 135.4L1217.6 136.8L1218.3 137.3L1219 133L1219.7 133.9L1220.4 135.4L1221.1 135.7L1221.9 130.2L1222.6 132.7L1223.3 130.9L1224 132.1L1224.7 133.9L1225.4 136.2L1226.2 135.2L1226.9 138.5L1227.6 134.3L1228.3 133.2L1229 132.5L1229.7 133.5L1230.5 133.6L1231.2 130.5L1231.9 129.9L1232.6 129.7L1233.3 132.5L1234 132.1L1234.8 131.5L1235.5 133.7L1236.2 134.6L1236.9 150.1L1237.6 136.8L1238.4 132.8L1239.1 132.6L1239.8 128.6L1240.5 130.1L1241.2 129.3L1241.9 134.7L1242.7 132L1243.4 134.4L1244.1 132.7L1244.8 134.4L1245.5 131.8L1246.2 133.9L1247 124L1247.7 128.5L1248.4 132.2L1249.1 132.9L1249.8 127.6L1250.5 132.9L1251.3 129.4L1252 131.1L1252.7 130.6L1253.4 135.9L1254.1 140.5L1254.8 130.8L1255.6 131.9L1256.3 128L1257 135L1257.7 136.6L1258.4 131.5L1259.1 134.7L1259.9 129.6L1260.6 129.4L1261.3 132.6L1262 130.1L1262.7 134.2L1263.4 135.2L1264.2 129.6L1264.9 130.6L1265.6 131.5L1266.3 128.3L1267 133.3L1267.7 133.1L1268.5 128.5L1269.2 134.4L1269.9 131.8L1270.6 139.3L1271.3 137.8L1272 131.1L1272.8 130.5L1273.5 129.9L1274.2 131.8L1274.9 131.7L1275.6 132.3L1276.3 132.3L1277.1 133.2L1277.8 132.6L1278.5 134.4L1279.2 127.9L1279.9 129.6L1280.6 133.2L1281.4 131L1282.1 132.5L1282.8 133.1L1283.5 131.6L1284.2 126.6L1284.9 127.9L1285.7 128L1286.4 131.1L1287.1 131.7L1287.8 129L1288.5 131.2L1289.2 129.7L1290 133L1290.7 130.3L1291.4 130.9L1292.1 131.1L1292.8 130.6L1293.5 131.9L1294.3 130.3L1295 131.9L1295.7 133.1L1296.4 132.8L1297.1 130.5L1297.8 131.8L1298.6 131.2L1299.3 131.8L1300 132.6L1300.7 128L1301.4 128.5L1302.1 128.7L1302.9 129.6L1303.6 133.4L1304.3 129.5L1305 134.1L1305.7 130.8L1306.4 129.8L1307.2 135.8L1307.9 132L1308.6 129.8L1309.3 133.1L1310 128.7L1310.7 132.5L1311.5 132.9L1312.2 130.7L1312.9 130L1313.6 128.8L1314.3 128.4L1315 130.9L1315.8 127.5L1316.5 131.6L1317.2 131.3L1317.9 132.2L1318.6 128.5L1319.3 133.1L1320.1 130.6L1320.8 132.6L1321.5 131L1322.2 124.8L1322.9 133.8L1323.6 131.8L1324.4 132.8L1325.1 130.1L1325.8 129.6L1326.5 133.8L1327.2 130.4L1328 132.8L1328.7 134L1329.4 131L1330.1 129.9L1330.8 126.8L1331.5 125.4L1332.3 130.4L1333 133.7L1333.7 134.4L1334.4 131L1335.1 134.9L1335.8 130.2L1336.6 130.3L1337.3 127.9L1338 126.5L1338.7 126.9L1339.4 126.6L1340.1 127.9L1340.9 129.8L1341.6 130.1L1342.3 130.4L1343 135.1L1343.7 131.7L1344.4 132.6L1345.2 130.9L1345.9 126.6L1346.6 126.5L1347.3 132.6L1348 130L1348.7 130.7L1349.5 132.8L1350.2 133.7L1350.9 135.8L1351.6 130.6L1352.3 135.7L1353 143.3L1353.8 130.7L1354.5 132.3L1355.2 132.6L1355.9 133.9L1356.6 133.3L1357.3 130.9L1358.1 128.1L1358.8 130.4L1359.5 131.2L1360.2 133.7L1360.9 129.2L1361.6 132.4L1362.4 126.2L1363.1 131.7L1363.8 132L1364.5 134.8L1365.2 126.5L1365.9 131.5L1366.7 130.2L1367.4 126.5L1368.1 132L1368.8 128.9L1369.5 129.3L1370.2 125.7L1371 129.6L1371.7 127.5L1372.4 125.8L1373.1 127.9L1373.8 124.4L1374.5 130.4L1375.3 129.6L1376 129.7L1376.7 128.8L1377.4 126.6L1378.1 124.6L1378.8 126.3L1379.6 127L1380.3 133.1L1381 125.9L1381.7 127.1L1382.4 127.3L1383.1 130.2L1383.9 130.3L1384.6 124L1385.3 127.5L1386 121.3L1386.7 125.9L1387.4 127.7L1388.2 129.7L1388.9 125L1389.6 127.2L1390.3 125.4L1391 134.5L1391.7 129.7L1392.5 130.8L1393.2 131.9L1393.9 132.6L1394.6 130.7L1395.3 130.5L1396 135.6L1396.8 134.8L1397.5 129.1L1398.2 133.6L1398.9 133.6L1399.6 136L1400.3 132.9L1401.1 129.6L1401.8 132.3L1402.5 128L1403.2 128.1L1403.9 127.9L1404.6 132.4L1405.4 127L1406.1 127.6L1406.8 129.8L1407.5 125.3L1408.2 131.7L1408.9 132.1L1409.7 128.3L1410.4 128.9L1411.1 129.4L1411.8 130.5L1412.5 131.7L1413.2 129.2L1414 131.3L1414.7 134.9L1415.4 138.7L1416.1 134.5L1416.8 130.4L1417.6 130.1L1418.3 131.3L1419 129.5L1419.7 128.4L1420.4 130.4L1421.1 132.6L1421.9 128.1L1422.6 126.8L1423.3 126L1424 124.2L1424.7 128.8L1425.4 125.9L1426.2 130.1L1426.9 130.4L1427.6 129.6L1428.3 125.8L1429 126.1L1429.7 128.1L1430.5 130.9L1431.2 130.1L1431.9 127.3L1432.6 132.5L1433.3 132.1L1434 133.6L1434.8 129L1435.5 130.4L1436.2 127.6L1436.9 128.3L1437.6 130.2L1438.3 126.9L1439.1 134.7L1439.8 131.3L1440.5 127.7L1441.2 135.5L1441.9 129.6L1442.6 130.1L1443.4 128.6L1444.1 130.7L1444.8 134.7L1445.5 129.9L1446.2 135.5L1446.9 131.8L1447.7 131.6L1448.4 134.8L1449.1 130.1L1449.8 130.2L1450.5 128.1L1451.2 131.9L1452 137.2L1452.7 137.1L1453.4 130.7L1454.1 130.9L1454.8 129.8L1455.5 127.6L1456.3 126.1L1457 128.7L1457.7 131.1L1458.4 133.2L1459.1 128.3L1459.8 124.6L1460.6 128.3L1461.3 128.8L1462 127.5L1462.7 130.7L1463.4 126.8L1464.1 131.1L1464.9 128.2L1465.6 129.5L1466.3 129.9L1467 128.2L1467.7 130L1468.4 127.3L1469.2 128.7L1469.9 132.3L1470.6 128.6L1471.3 129.8L1472 130.3L1472.7 130.7L1473.5 128.2L1474.2 127.3L1474.9 129.5L1475.6 127.4L1476.3 129.4L1477 128L1477.8 131.8L1478.5 127L1479.2 130L1479.9 131.3L1480.6 129.4L1481.3 127.7L1482.1 127.3L1482.8 125.6L1483.5 132L1484.2 129.6L1484.9 125.2L1485.6 128.1L1486.4 128.9L1487.1 129.6L1487.8 130.7L1488.5 128.1L1489.2 128.5L1489.9 128.1L1490.7 130.3L1491.4 133.9L1492.1 130.6L1492.8 133.5L1493.5 125.5L1494.2 126.8L1495 126.1L1495.7 126.5L1496.4 126.1L1497.1 130L1497.8 133.6L1498.5 134.4L1499.3 129.5L1500 130L1500.7 149L1501.4 129.2L1502.1 127.7L1502.8 130.7L1503.6 126L1504.3 129.3L1505 125.4L1505.7 130.3L1506.4 126.8L1507.2 126.9L1507.9 128.9L1508.6 126.9L1509.3 130.2L1510 129L1510.7 132.9L1511.5 126.7L1512.2 128.8L1512.9 130.2L1513.6 130.1L1514.3 130.3L1515 132.9L1515.8 134.9L1516.5 132.8L1517.2 133.9L1517.9 126.5L1518.6 129.1L1519.3 130.5L1520.1 131.7L1520.8 131.7L1521.5 131.5L1522.2 127.2L1522.9 130.3L1523.6 129.9L1524.4 125.9L1525.1 128.6L1525.8 124.1L1526.5 126.3L1527.2 121.2L1527.9 126.3L1528.7 128.2L1529.4 127.5L1530.1 125.2L1530.8 129.8L1531.5 127.6L1532.2 131.9L1533 129.9L1533.7 135.2L1534.4 130.6L1535.1 132.9L1535.8 131.1L1536.5 129.9L1537.3 131.8L1538 129.1L1538.7 129.1L1539.4 145L1540.1 126.8L1540.8 123.7L1541.6 129.3L1542.3 123.7L1543 127.9L1543.7 130L1544.4 129.1L1545.1 131.1L1545.9 128.9L1546.6 128.5L1547.3 131.8L1548 135.5L1548.7 130L1549.4 135.2L1550.2 133.8L1550.9 134.3L1551.6 130.2L1552.3 132.5L1553 124.8L1553.7 130.6L1554.5 127.3L1555.2 132.4L1555.9 130.5L1556.6 127.2L1557.3 128.3L1558 130.5L1558.8 128.2L1559.5 129.2L1560.2 130.7L1560.9 127.2L1561.6 131.9L1562.3 128.9L1563.1 122.7L1563.8 127.8L1564.5 127.9L1565.2 132.1L1565.9 127.4L1566.6 124.6L1567.4 130L1568.1 133.5L1568.8 129.7L1569.5 131.6L1570.2 129.5L1570.9 130.8L1571.7 132L1572.4 129.7L1573.1 131.5L1573.8 131L1574.5 131.8L1575.2 125.1L1576 126.3L1576.7 129.1L1577.4 128.7L1578.1 129.8L1578.8 128L1579.5 127.4L1580.3 126.3L1581 128.1L1581.7 131.1L1582.4 127.3L1583.1 132.3L1583.8 132.2L1584.6 127L1585.3 130.5L1586 125.7L1586.7 129.4L1587.4 127L1588.1 129.3L1588.9 128.6L1589.6 132.8L1590.3 130L1591 138L1591.7 126.8L1592.4 130.6L1593.2 132.9L1593.9 126.4L1594.6 127.6L1595.3 126L1596 129.1L1596.8 130L1597.5 126.4L1598.2 126.5L1598.9 131.3L1599.6 131L1600.3 129.4L1601.1 130.4L1601.8 130.1L1602.5 132.1L1603.2 128.3L1603.9 126.2L1604.6 129.4L1605.4 128.7L1606.1 131.4L1606.8 131.1L1607.5 135.7L1608.2 129.4L1608.9 131.6L1609.7 129.2L1610.4 129.4L1611.1 129.1L1611.8 128.8L1612.5 129.2L1613.2 118.9L1614 126.7L1614.7 128.2L1615.4 128L1616.1 126.9L1616.8 126.8L1617.5 128.8L1618.3 131.3L1619 126.7L1619.7 129.4L1620.4 128.2L1621.1 127.5L1621.8 129.5L1622.6 124.3L1623.3 125.1L1624 128.2L1624.7 127L1625.4 129.6L1626.1 124.7L1626.9 124.7L1627.6 133.1L1628.3 128L1629 126.7L1629.7 133L1630.4 136L1631.2 129.6L1631.9 125.9L1632.6 127.6L1633.3 133.3L1634 134.7L1634.7 126.5L1635.5 128.6L1636.2 132.2L1636.9 126.8L1637.6 125.3L1638.3 127.2L1639 123.7L1639.8 125.5L1640.5 137L1641.2 133.8L1641.9 127.2L1642.6 128.4L1643.3 130.6L1644.1 131.1L1644.8 124.3L1645.5 130L1646.2 124.6L1646.9 127.7L1647.6 126.5L1648.4 126.4L1649.1 127.7L1649.8 126.5L1650.5 124.7L1651.2 130.1L1651.9 127.5L1652.7 128.4L1653.4 131.7L1654.1 131.1L1654.8 132.6L1655.5 128.3L1656.2 128L1657 124.2L1657.7 126.7L1658.4 124.1L1659.1 124.6L1659.8 128.9L1660.5 134.6L1661.3 127.8L1662 127.3L1662.7 125.3L1663.4 126.8L1664.1 126L1664.8 126.6L1665.6 125.2L1666.3 125.4L1667 121.1L1667.7 127.2L1668.4 125.8L1669.1 128.8L1669.9 127.5L1670.6 127.6L1671.3 130.5L1672 132.9L1672.7 131.1L1673.4 129.5L1674.2 127.2L1674.9 126.3L1675.6 127.4L1676.3 126.8L1677 125.8L1677.7 130L1678.5 127.4L1679.2 126.3L1679.9 133.2L1680.6 129.3L1681.3 126.4L1682 126.7L1682.8 127.8L1683.5 130.5L1684.2 141" stroke="#bcbd22"/>
<circle cx="968.12" cy="275.80" r="2.00" fill="#bcbd22"/><circle cx="1025.46" cy="146.09" r="2.00" fill="#bcbd22"/><circle cx="1082.80" cy="140.29" r="2.00" fill="#bcbd22"/><circle cx="1140.15" cy="137.64" r="2.00" fill="#bcbd22"/><circle cx="1197.49" cy="135.43" r="2.00" fill="#bcbd22"/><circle cx="1254.84" cy="130.81" r="2.00" fill="#bcbd22"/><circle cx="1312.18" cy="130.72" r="2.00" fill="#bcbd22"/><circle cx="1369.52" cy="129.26" r="2.00" fill="#bcbd22"/><circle cx="1426.87" cy="130.38" r="2.00" fill="#bcbd22"/><circle cx="1484.21" cy="129.58" r="2.00" fill="#bcbd22"/><circle cx="1541.56" cy="129.26" r="2.00" fill="#bcbd22"/><circle cx="1598.90" cy="131.31" r="2.00" fill="#bcbd22"/><circle cx="1656.24" cy="127.98" r="2.00" fill="#bcbd22"/>
<path d="M968.1 398L968.8 355L969.6 333L970.3 322L971 313.5L971.7 306.7L972.4 300.2L973.1 292L973.9 282.8L974.6 277.9L975.3 274.3L976 270.1L976.7 266.6L977.4 262L978.2 258L978.9 254.6L979.6 251.5L980.3 249.7L981 247.1L981.7 244.8L982.5 243.7L983.2 241.5L983.9 238.9L984.6 237L985.3 234.2L986 233.5L986.8 232.8L987.5 230.2L988.2 230.8L988.9 228L989.6 226.6L990.3 225.8L991.1 225.4L991.8 224.9L992.5 223.8L993.2 223.5L993.9 223.1L994.6 221.6L995.4 220.7L996.1 220.4L996.8 220.1L997.5 218.8L998.2 218.3L998.9 217.2L999.7 216.3L1000.4 215.5L1001.1 215L1001.8 214.5L1002.5 213.3L1003.2 213.1L1004 212.8L1004.7 212.1L1005.4 211.3L1006.1 211L1006.8 209.7L1007.5 208.5L1008.3 209.3L1009 207.6L1009.7 206.8L1010.4 206.8L1011.1 205.9L1011.8 204.9L1012.6 205.2L1013.3 204.6L1014 203.7L1014.7 202.5L1015.4 202.9L1016.1 202L1016.9 202L1017.6 200.7L1018.3 200.5L1019 200.3L1019.7 200.1L1020.4 200.9L1021.2 199.8L1021.9 199.8L1022.6 199.3L1023.3 198.8L1024 198.7L1024.7 198.2L1025.5 197.9L1026.2 197.9L1026.9 197.4L1027.6 197.4L1028.3 196.7L1029 196.8L1029.8 195.2L1030.5 195.1L1031.2 195.5L1031.9 194.7L1032.6 194.6L1033.3 193.7L1034.1 193.9L1034.8 193.2L1035.5 193.6L1036.2 192.9L1036.9 192.7L1037.6 192.9L1038.4 192L1039.1 192.1L1039.8 192.2L1040.5 192.1L1041.2 191L1041.9 191L1042.7 190.6L1043.4 191.1L1044.1 190.9L1044.8 189.7L1045.5 190L1046.2 189.6L1047 189.5L1047.7 187.5L1048.4 188L1049.1 187.4L1049.8 188.3L1050.5 187.8L1051.3 187.7L1052 187.5L1052.7 187.2L1053.4 187L1054.1 186.3L1054.8 185.1L1055.6 186L1056.3 185.8L1057 185.4L1057.7 184.9L1058.4 185.7L1059.2 184.6L1059.9 184.2L1060.6 184.5L1061.3 184.4L1062 183L1062.7 183L1063.5 182.7L1064.2 183L1064.9 182.8L1065.6 182.7L1066.3 182.1L1067 181.9L1067.8 181.6L1068.5 181.5L1069.2 182.4L1069.9 180.8L1070.6 180.7L1071.3 181.1L1072.1 181L1072.8 180.6L1073.5 181.3L1074.2 180.6L1074.9 179.6L1075.6 179.7L1076.4 179.4L1077.1 179.4L1077.8 178.7L1078.5 178.4L1079.2 178.5L1079.9 178.3L1080.7 177.7L1081.4 177.2L1082.1 177.4L1082.8 178.1L1083.5 177.7L1084.2 178.2L1085 178.7L1085.7 177.4L1086.4 177.9L1087.1 177L1087.8 177.1L1088.5 176.2L1089.3 176.6L1090 176.4L1090.7 176.6L1091.4 175.9L1092.1 176.1L1092.8 176.4L1093.6 175.9L1094.3 176.4L1095 176.3L1095.7 175.7L1096.4 175.8L1097.1 176.1L1097.9 175.5L1098.6 175.7L1099.3 175.5L1100 175.6L1100.7 176.1L1101.4 175.5L1102.2 175.5L1102.9 174.9L1103.6 174.9L1104.3 175.2L1105 174.4L1105.7 173.8L1106.5 173.5L1107.2 174.9L1107.9 174.5L1108.6 174.6L1109.3 173.4L1110 173.7L1110.8 173.2L1111.5 173.7L1112.2 174L1112.9 174.2L1113.6 175.1L1114.3 174L1115.1 173.9L1115.8 173.4L1116.5 173.8L1117.2 173.7L1117.9 173L1118.6 172.4L1119.4 172.6L1120.1 172.8L1120.8 172L1121.5 172.7L1122.2 172.1L1122.9 172.1L1123.7 172.3L1124.4 173L1125.1 172.6L1125.8 172.1L1126.5 171.8L1127.2 171.2L1128 171.4L1128.7 172.3L1129.4 171.6L1130.1 170.8L1130.8 170.3L1131.5 170L1132.3 170.5L1133 170.9L1133.7 171.1L1134.4 171.5L1135.1 170.7L1135.8 171.3L1136.6 170.8L1137.3 171.3L1138 170.4L1138.7 170.2L1139.4 169.9L1140.1 170.1L1140.9 170.2L1141.6 169.2L1142.3 169.5L1143 169L1143.7 168.8L1144.4 169L1145.2 168.7L1145.9 168.4L1146.6 168.8L1147.3 169.2L1148 169.5L1148.8 169.1L1149.5 169.2L1150.2 168.9L1150.9 169.3L1151.6 169.5L1152.3 168.7L1153.1 168.6L1153.8 169.4L1154.5 168.8L1155.2 168.9L1155.9 168.1L1156.6 167.5L1157.4 167.8L1158.1 168L1158.8 168.1L1159.5 167.4L1160.2 167.6L1160.9 168.4L1161.7 167.5L1162.4 168.5L1163.1 167.2L1163.8 167.4L1164.5 167L1165.2 167.5L1166 167.1L1166.7 166.5L1167.4 166.7L1168.1 165.7L1168.8 165.6L1169.5 165.9L1170.3 166.8L1171 166.1L1171.7 167L1172.4 166.3L1173.1 164.9L1173.8 165L1174.6 165.5L1175.3 165L1176 164.7L1176.7 164.9L1177.4 165.1L1178.1 164.5L1178.9 165.2L1179.6 164.3L1180.3 164.9L1181 165.1L1181.7 164.2L1182.4 164.7L1183.2 164.9L1183.9 164.4L1184.6 164.1L1185.3 164.6L1186 164.7L1186.7 164.5L1187.5 163.8L1188.2 163.8L1188.9 164.7L1189.6 164.3L1190.3 164L1191 164.1L1191.8 164.2L1192.5 163.7L1193.2 163.7L1193.9 163.3L1194.6 163.2L1195.3 163.4L1196.1 163.6L1196.8 163.1L1197.5 162.7L1198.2 163L1198.9 163.1L1199.6 163L1200.4 162.7L1201.1 163.2L1201.8 163.2L1202.5 162.6L1203.2 162.5L1203.9 163L1204.7 161.5L1205.4 162L1206.1 162.2L1206.8 161.9L1207.5 161.8L1208.2 161.6L1209 161.7L1209.7 161.5L1210.4 161.8L1211.1 161.9L1211.8 161.3L1212.5 160.9L1213.3 161.2L1214 161.1L1214.7 160.9L1215.4 160.9L1216.1 160.6L1216.8 160.7L1217.6 160.7L1218.3 160.3L1219 160.5L1219.7 160L1220.4 160L1221.1 160.1L1221.9 160.1L1222.6 160.5L1223.3 159.3L1224 159.8L1224.7 159.8L1225.4 160.2L1226.2 159.1L1226.9 159.5L1227.6 160.6L1228.3 160.5L1229 160.6L1229.7 159.8L1230.5 160.3L1231.2 159.9L1231.9 159.4L1232.6 159.3L1233.3 159L1234 158.7L1234.8 158.9L1235.5 159.1L1236.2 159.4L1236.9 159.5L1237.6 159.4L1238.4 159.1L1239.1 158.2L1239.8 158.8L1240.5 159.3L1241.2 159.3L1241.9 158.5L1242.7 157.4L1243.4 158.5L1244.1 158L1244.8 159.1L1245.5 158.3L1246.2 158.8L1247 158.2L1247.7 157.5L1248.4 157.8L1249.1 157.4L1249.8 157.7L1250.5 157.7L1251.3 158.3L1252 159.7L1252.7 157.5L1253.4 157.4L1254.1 157.7L1254.8 157.9L1255.6 156.9L1256.3 156.9L1257 158.4L1257.7 157.7L1258.4 158.3L1259.1 157.2L1259.9 157.6L1260.6 157.2L1261.3 157.3L1262 157L1262.7 157L1263.4 156.9L1264.2 156.2L1264.9 156.4L1265.6 156.6L1266.3 156.4L1267 156.5L1267.7 156.3L1268.5 156.2L1269.2 156.3L1269.9 155.7L1270.6 156.6L1271.3 156.3L1272 155L1272.8 155.9L1273.5 156.6L1274.2 155L1274.9 156.2L1275.6 156.5L1276.3 156.5L1277.1 156.5L1277.8 155.9L1278.5 156.5L1279.2 156.6L1279.9 156.3L1280.6 156.1L1281.4 155.3L1282.1 155.1L1282.8 155.7L1283.5 155.8L1284.2 155.1L1284.9 155L1285.7 154.7L1286.4 156.3L1287.1 155.6L1287.8 156.4L1288.5 155.9L1289.2 156.3L1290 155.5L1290.7 155.4L1291.4 155.6L1292.1 155.6L1292.8 154.8L1293.5 155.5L1294.3 157.1L1295 155.6L1295.7 154.8L1296.4 154.3L1297.1 154.9L1297.8 153.3L1298.6 154.5L1299.3 154.1L1300 153.9L1300.7 154.5L1301.4 154L1302.1 154.7L1302.9 154.3L1303.6 154.7L1304.3 154.3L1305 154.1L1305.7 155.2L1306.4 154.5L1307.2 154L1307.9 154L1308.6 154.4L1309.3 154.4L1310 154L1310.7 154.5L1311.5 154.2L1312.2 153.5L1312.9 154.4L1313.6 154.5L1314.3 153.8L1315 153.7L1315.8 153.7L1316.5 153.3L1317.2 152.6L1317.9 153.4L1318.6 152.9L1319.3 153.1L1320.1 154L1320.8 153.4L1321.5 153L1322.2 152.8L1322.9 153.7L1323.6 153.8L1324.4 152.8L1325.1 153.5L1325.8 153.3L1326.5 153.1L1327.2 153.5L1328 153.8L1328.7 153.1L1329.4 153.5L1330.1 153.7L1330.8 153.3L1331.5 153.5L1332.3 153.1L1333 154.1L1333.7 153.6L1334.4 152.2L1335.1 151.9L1335.8 151.9L1336.6 152.5L1337.3 152.1L1338 152L1338.7 152.4L1339.4 151.7L1340.1 152L1340.9 152.2L1341.6 153.5L1342.3 152.3L1343 151.8L1343.7 151.5L1344.4 152.3L1345.2 152L1345.9 152L1346.6 152.1L1347.3 151.9L1348 151.8L1348.7 151.5L1349.5 152.1L1350.2 153L1350.9 152.1L1351.6 152L1352.3 152.1L1353 151.8L1353.8 151.5L1354.5 151.3L1355.2 151.2L1355.9 151.6L1356.6 150.5L1357.3 151.4L1358.1 150.7L1358.8 151.1L1359.5 150.8L1360.2 151L1360.9 150.8L1361.6 151.2L1362.4 151L1363.1 151.4L1363.8 151.4L1364.5 151.8L1365.2 151L1365.9 151.1L1366.7 150.7L1367.4 151L1368.1 151.4L1368.8 150.9L1369.5 150.9L1370.2 151.7L1371 151.3L1371.7 151.2L1372.4 151.9L1373.1 150.5L1373.8 150.7L1374.5 151.9L1375.3 150.8L1376 150.8L1376.7 150.4L1377.4 150.5L1378.1 150.6L1378.8 150.9L1379.6 150.8L1380.3 150.9L1381 151.1L1381.7 151L1382.4 150.8L1383.1 150.9L1383.9 150.5L1384.6 150.3L1385.3 151.4L1386 149.8L1386.7 150.7L1387.4 151.3L1388.2 150.1L1388.9 149.8L1389.6 150.7L1390.3 150.8L1391 150.4L1391.7 151.6L1392.5 151L1393.2 150L1393.9 151L1394.6 150L1395.3 150.4L1396 150.7L1396.8 151.4L1397.5 151.1L1398.2 151.5L1398.9 150.5L1399.6 152.2L1400.3 150.8L1401.1 151.1L1401.8 151.5L1402.5 151.7L1403.2 151.3L1403.9 150.1L1404.6 149.9L1405.4 150.1L1406.1 150.2L1406.8 150.4L1407.5 150.8L1408.2 150.3L1408.9 150.5L1409.7 149.9L1410.4 150.1L1411.1 150.4L1411.8 150.2L1412.5 150.6L1413.2 151L1414 151L1414.7 151L1415.4 150.9L1416.1 150.6L1416.8 149.6L1417.6 149.8L1418.3 149.6L1419 150L1419.7 150.3L1420.4 150.1L1421.1 150.8L1421.9 151.5L1422.6 150.3L1423.3 149.8L1424 150.4L1424.7 150.4L1425.4 150.2L1426.2 151.3L1426.9 149.9L1427.6 150.2L1428.3 149.6L1429 150.2L1429.7 150.3L1430.5 150L1431.2 149.6L1431.9 150.2L1432.6 149.4L1433.3 150L1434 151L1434.8 150.2L1435.5 149.1L1436.2 150L1436.9 149.7L1437.6 149.9L1438.3 149.7L1439.1 150.3L1439.8 150.1L1440.5 149.4L1441.2 150.2L1441.9 149.5L1442.6 150.2L1443.4 148.9L1444.1 149.3L1444.8 149.2L1445.5 149.5L1446.2 148.4L1446.9 148.9L1447.7 149.3L1448.4 148.7L1449.1 148.7L1449.8 148.9L1450.5 148.7L1451.2 148.5L1452 148.9L1452.7 149L1453.4 148.5L1454.1 147.8L1454.8 148.5L1455.5 150.7L1456.3 148.4L1457 149L1457.7 148.9L1458.4 149.5L1459.1 149.3L1459.8 148.6L1460.6 148.5L1461.3 148.1L1462 148L1462.7 147.6L1463.4 148.3L1464.1 148.8L1464.9 148.5L1465.6 148L1466.3 148.2L1467 148.2L1467.7 148.2L1468.4 147.9L1469.2 148.5L1469.9 147.4L1470.6 147.8L1471.3 148L1472 149L1472.7 149L1473.5 148.1L1474.2 147.8L1474.9 147.6L1475.6 147.7L1476.3 147L1477 147.8L1477.8 147.8L1478.5 147.6L1479.2 147.2L1479.9 146.9L1480.6 147.5L1481.3 146.3L1482.1 146.5L1482.8 147.6L1483.5 146.6L1484.2 147.4L1484.9 146.2L1485.6 147.1L1486.4 147.2L1487.1 146.9L1487.8 146.7L1488.5 147.4L1489.2 147L1489.9 147.3L1490.7 147.8L1491.4 147.4L1492.1 147.5L1492.8 148.1L1493.5 147.6L1494.2 146.5L1495 147.2L1495.7 146.9L1496.4 147L1497.1 147.7L1497.8 146.8L1498.5 147.1L1499.3 147.7L1500 147.2L1500.7 146.3L1501.4 146.8L1502.1 147L1502.8 147L1503.6 148L1504.3 147.2L1505 147.4L1505.7 147.8L1506.4 147.6L1507.2 146.9L1507.9 147.2L1508.6 147.4L1509.3 147.2L1510 147.8L1510.7 147.4L1511.5 147.3L1512.2 147.1L1512.9 146.9L1513.6 147.6L1514.3 146L1515 147.1L1515.8 146.9L1516.5 147.1L1517.2 147L1517.9 147.4L1518.6 146.5L1519.3 147.1L1520.1 147.2L1520.8 146.5L1521.5 147.2L1522.2 147.9L1522.9 146.9L1523.6 146.5L1524.4 146.2L1525.1 145.8L1525.8 147L1526.5 146.7L1527.2 146.8L1527.9 146.9L1528.7 147L1529.4 147.8L1530.1 147.6L1530.8 148.2L1531.5 146.4L1532.2 147L1533 147.3L1533.7 146.7L1534.4 146.6L1535.1 146.9L1535.8 147.7L1536.5 146.9L1537.3 146.7L1538 147.1L1538.7 146.7L1539.4 147.6L1540.1 146.7L1540.8 146.5L1541.6 146.9L1542.3 146.5L1543 146L1543.7 147.1L1544.4 147.3L1545.1 146L1545.9 147L1546.6 146.6L1547.3 146.1L1548 146.9L1548.7 146.5L1549.4 146L1550.2 146.7L1550.9 146.7L1551.6 146.1L1552.3 146.5L1553 146.6L1553.7 146L1554.5 147L1555.2 145.9L1555.9 146.6L1556.6 146.7L1557.3 146L1558 146.2L1558.8 146.2L1559.5 146.7L1560.2 146.1L1560.9 146.2L1561.6 146.2L1562.3 146.5L1563.1 146.3L1563.8 145L1564.5 145.5L1565.2 146L1565.9 145.2L1566.6 144.8L1567.4 145.4L1568.1 145.3L1568.8 144.8L1569.5 145.4L1570.2 145.2L1570.9 145.8L1571.7 145.7L1572.4 146.1L1573.1 145.4L1573.8 145.3L1574.5 146L1575.2 144.9L1576 145.1L1576.7 145.2L1577.4 145L1578.1 145L1578.8 144.7L1579.5 144.2L1580.3 145.3L1581 145.3L1581.7 145.6L1582.4 145L1583.1 145.3L1583.8 144.5L1584.6 145.1L1585.3 144.7L1586 145.1L1586.7 145L1587.4 145.3L1588.1 144L1588.9 144.9L1589.6 144.7L1590.3 144.8L1591 144.6L1591.7 144.6L1592.4 145.2L1593.2 144.8L1593.9 144.4L1594.6 144.9L1595.3 143.9L1596 144.7L1596.8 144.5L1597.5 144.4L1598.2 143.6L1598.9 144.1L1599.6 144L1600.3 144L1601.1 144.9L1601.8 144.5L1602.5 145.5L1603.2 144.8L1603.9 145.3L1604.6 144.6L1605.4 144.7L1606.1 144.9L1606.8 145.3L1607.5 144.4L1608.2 144.9L1608.9 144.4L1609.7 144.7L1610.4 144L1611.1 144.2L1611.8 144.7L1612.5 144.6L1613.2 144.4L1614 144.6L1614.7 144.3L1615.4 143.5L1616.1 143.9L1616.8 143.4L1617.5 143.2L1618.3 144.2L1619 143.3L1619.7 143.1L1620.4 143.8L1621.1 143.7L1621.8 143.5L1622.6 143.8L1623.3 143.9L1624 144.5L1624.7 144.2L1625.4 143.9L1626.1 143.8L1626.9 144.1L1627.6 144.2L1628.3 145L1629 143.4L1629.7 143L1630.4 142.8L1631.2 143.2L1631.9 143.7L1632.6 144.2L1633.3 143.5L1634 144.4L1634.7 144.1L1635.5 144.8L1636.2 144.4L1636.9 144.8L1637.6 144L1638.3 144.6L1639 144.1L1639.8 143.7L1640.5 144.2L1641.2 143.6L1641.9 142.8L1642.6 143.7L1643.3 143.3L1644.1 143.7L1644.8 144.5L1645.5 144.4L1646.2 144.7L1646.9 144.1L1647.6 144.1L1648.4 143.8L1649.1 144.5L1649.8 143.2L1650.5 143.5L1651.2 142.4L1651.9 143.1L1652.7 143.5L1653.4 143.4L1654.1 143.3L1654.8 143.6L1655.5 143.8L1656.2 143.9L1657 143.5L1657.7 143.9L1658.4 143.9L1659.1 143L1659.8 143.8L1660.5 143.1L1661.3 143.7L1662 144.1L1662.7 143.4L1663.4 143.5L1664.1 143.5L1664.8 143.2L1665.6 145L1666.3 142.7L1667 143L1667.7 143.2L1668.4 143.8L1669.1 143.8L1669.9 144.1L1670.6 143.4L1671.3 143.1L1672 144.1L1672.7 143.6L1673.4 144.1L1674.2 144.2L1674.9 144L1675.6 143.2L1676.3 143L1677 143.2L1677.7 143.7L1678.5 143.2L1679.2 143.5L1679.9 143.1L1680.6 143.2L1681.3 143.1L1682 142.8L1682.8 143.5L1683.5 143.3L1684.2 144.1" stroke="#ff7f0e"/>
<polygon points="968.12,401.50 971.62,394.68 964.62,394.68" fill="#ff7f0e"/><polygon points="1025.46,201.41 1028.96,194.59 1021.96,194.59" fill="#ff7f0e"/><polygon points="1082.80,181.57 1086.30,174.75 1079.30,174.75" fill="#ff7f0e"/><polygon points="1140.15,173.58 1143.65,166.76 1136.65,166.76" fill="#ff7f0e"/><polygon points="1197.49,166.24 1200.99,159.42 1193.99,159.42" fill="#ff7f0e"/><polygon points="1254.84,161.39 1258.34,154.56 1251.34,154.56" fill="#ff7f0e"/><polygon points="1312.18,157.03 1315.68,150.20 1308.68,150.20" fill="#ff7f0e"/><polygon points="1369.52,154.39 1373.02,147.56 1366.02,147.56" fill="#ff7f0e"/><polygon points="1426.87,153.37 1430.37,146.55 1423.37,146.55" fill="#ff7f0e"/><polygon points="1484.21,150.86 1487.71,144.03 1480.71,144.03" fill="#ff7f0e"/><polygon points="1541.56,150.37 1545.06,143.55 1538.06,143.55" fill="#ff7f0e"/><polygon points="1598.90,147.60 1602.40,140.78 1595.40,140.78" fill="#ff7f0e"/><polygon points="1656.24,147.43 1659.74,140.61 1652.74,140.61" fill="#ff7f0e"/>
<path d="M968.1 493.4L968.8 450L969.6 420L970.3 406L971 395.5L971.7 384.3L972.4 375.5L973.1 368.5L973.9 362.5L974.6 353.8L975.3 342.3L976 334.8L976.7 328.6L977.4 323.8L978.2 318.4L978.9 314L979.6 309.5L980.3 305.6L981 301L981.7 296.7L982.5 292.1L983.2 288.8L983.9 285.5L984.6 282.9L985.3 279.7L986 276.9L986.8 275.6L987.5 273.8L988.2 271.8L988.9 269.8L989.6 267.7L990.3 264.5L991.1 261.9L991.8 259.7L992.5 257.4L993.2 256L993.9 253.2L994.6 251.3L995.4 250.3L996.1 248.3L996.8 246L997.5 245.4L998.2 244L998.9 241.8L999.7 241.2L1000.4 239.9L1001.1 239.1L1001.8 237.8L1002.5 237.1L1003.2 235.9L1004 235L1004.7 234.6L1005.4 233.2L1006.1 231.9L1006.8 231.2L1007.5 231.1L1008.3 229L1009 228.5L1009.7 227.7L1010.4 227.6L1011.1 226.5L1011.8 225.6L1012.6 225.1L1013.3 224.6L1014 224L1014.7 222.9L1015.4 221.7L1016.1 220.8L1016.9 220.6L1017.6 219L1018.3 218.3L1019 217.4L1019.7 216.1L1020.4 215.5L1021.2 214.5L1021.9 214.6L1022.6 213.2L1023.3 212.7L1024 211.6L1024.7 212L1025.5 210.7L1026.2 209.6L1026.9 209.3L1027.6 208.9L1028.3 208.6L1029 207.9L1029.8 207.6L1030.5 207.1L1031.2 206.6L1031.9 205.9L1032.6 205.9L1033.3 205.4L1034.1 204.6L1034.8 204.2L1035.5 204.8L1036.2 203.7L1036.9 203.5L1037.6 202.2L1038.4 202.6L1039.1 201.6L1039.8 201.7L1040.5 201.1L1041.2 200.5L1041.9 200L1042.7 199.9L1043.4 199.1L1044.1 198.4L1044.8 198.8L1045.5 197.7L1046.2 197.8L1047 197.6L1047.7 197.9L1048.4 196.9L1049.1 197.3L1049.8 196.7L1050.5 195.3L1051.3 195.5L1052 195.1L1052.7 194.3L1053.4 194.1L1054.1 194.1L1054.8 193.9L1055.6 193L1056.3 193.1L1057 192.7L1057.7 192.6L1058.4 191.9L1059.2 191.6L1059.9 191.4L1060.6 191.3L1061.3 191L1062 190.6L1062.7 189.9L1063.5 190.4L1064.2 189.8L1064.9 189.3L1065.6 189.3L1066.3 188.8L1067 188.3L1067.8 188.1L1068.5 188.4L1069.2 188.5L1069.9 187.5L1070.6 187.2L1071.3 187.6L1072.1 187L1072.8 186.8L1073.5 185.9L1074.2 186.1L1074.9 185.7L1075.6 185.4L1076.4 185.4L1077.1 185L1077.8 185.2L1078.5 184.4L1079.2 184.4L1079.9 185.2L1080.7 184.4L1081.4 184.3L1082.1 184.2L1082.8 183.4L1083.5 184L1084.2 183.3L1085 182.7L1085.7 182.3L1086.4 182.8L1087.1 182.3L1087.8 181.8L1088.5 181.7L1089.3 181.3L1090 180.9L1090.7 181.4L1091.4 181.1L1092.1 180.6L1092.8 180.6L1093.6 180.7L1094.3 180.5L1095 180.7L1095.7 180.6L1096.4 180.7L1097.1 180.2L1097.9 179.6L1098.6 178.7L1099.3 179.5L1100 179.7L1100.7 178.6L1101.4 178.7L1102.2 178.4L1102.9 178.2L1103.6 178.5L1104.3 178.7L1105 178.6L1105.7 178L1106.5 177.4L1107.2 177.1L1107.9 177.3L1108.6 177.3L1109.3 177.4L1110 177L1110.8 176.6L1111.5 176.5L1112.2 177.2L1112.9 176.8L1113.6 176.3L1114.3 176.7L1115.1 176.1L1115.8 175.8L1116.5 175.6L1117.2 175.5L1117.9 174.5L1118.6 175L1119.4 174.9L1120.1 174.5L1120.8 174.4L1121.5 175.1L1122.2 174.8L1122.9 174.6L1123.7 175.1L1124.4 174.3L1125.1 174.8L1125.8 173.8L1126.5 173.5L1127.2 173.3L1128 173.4L1128.7 173.5L1129.4 173.7L1130.1 173.2L1130.8 172.5L1131.5 173.6L1132.3 173.2L1133 173L1133.7 173L1134.4 172.9L1135.1 172.5L1135.8 173.7L1136.6 172.5L1137.3 172.2L1138 172.9L1138.7 171.5L1139.4 171.6L1140.1 171.9L1140.9 171.5L1141.6 171.6L1142.3 171.3L1143 170.7L1143.7 171.2L1144.4 170.5L1145.2 170L1145.9 170.8L1146.6 170.6L1147.3 170.4L1148 170.1L1148.8 170.5L1149.5 169.9L1150.2 169.7L1150.9 170.1L1151.6 170.3L1152.3 169.6L1153.1 170.3L1153.8 169.1L1154.5 169L1155.2 169.2L1155.9 169L1156.6 169.2L1157.4 168.9L1158.1 168.1L1158.8 169.3L1159.5 168.6L1160.2 168.7L1160.9 168.5L1161.7 168.4L1162.4 168.9L1163.1 168.8L1163.8 168.6L1164.5 167.9L1165.2 168.3L1166 167.8L1166.7 167.7L1167.4 167.4L1168.1 167.4L1168.8 167.7L1169.5 167.5L1170.3 167.6L1171 167.5L1171.7 167.2L1172.4 166.6L1173.1 166.7L1173.8 166.7L1174.6 166.7L1175.3 166.6L1176 166.7L1176.7 166.1L1177.4 165.9L1178.1 166.2L1178.9 166.3L1179.6 166L1180.3 165.7L1181 165.5L1181.7 165.6L1182.4 166L1183.2 165.7L1183.9 165.9L1184.6 165.3L1185.3 166.2L1186 165.7L1186.7 165.7L1187.5 165.6L1188.2 165.4L1188.9 165.4L1189.6 164.8L1190.3 165.3L1191 165.3L1191.8 165.6L1192.5 165.5L1193.2 165.1L1193.9 165.1L1194.6 164.9L1195.3 165L1196.1 165.6L1196.8 164.9L1197.5 164.2L1198.2 165.2L1198.9 165.1L1199.6 164.4L1200.4 164.2L1201.1 163.6L1201.8 164.5L1202.5 164.1L1203.2 164.1L1203.9 163.9L1204.7 163.3L1205.4 164L1206.1 163.4L1206.8 163.9L1207.5 163.8L1208.2 163.4L1209 163.5L1209.7 163.2L1210.4 163.3L1211.1 163.6L1211.8 163.8L1212.5 163.2L1213.3 163.4L1214 162.3L1214.7 163L1215.4 163.2L1216.1 163L1216.8 163.3L1217.6 163.6L1218.3 162.9L1219 163.3L1219.7 163.3L1220.4 163.4L1221.1 163.3L1221.9 162.7L1222.6 163.2L1223.3 162.9L1224 162.5L1224.7 162.6L1225.4 162L1226.2 161.7L1226.9 162.1L1227.6 161.8L1228.3 162.2L1229 162.2L1229.7 162L1230.5 162.1L1231.2 161.4L1231.9 161L1232.6 161.8L1233.3 161.8L1234 161.8L1234.8 161.5L1235.5 161.9L1236.2 162L1236.9 162.1L1237.6 161.3L1238.4 161.8L1239.1 161.4L1239.8 161.8L1240.5 161.2L1241.2 160.7L1241.9 161.1L1242.7 160.6L1243.4 161L1244.1 161.5L1244.8 160.8L1245.5 161.6L1246.2 161.4L1247 161.4L1247.7 161.4L1248.4 161.7L1249.1 161.6L1249.8 161.7L1250.5 161.2L1251.3 161L1252 161.4L1252.7 160.8L1253.4 160.7L1254.1 160.7L1254.8 160.5L1255.6 160.9L1256.3 160.9L1257 160.7L1257.7 160.3L1258.4 160L1259.1 160.5L1259.9 160.1L1260.6 159.6L1261.3 159.9L1262 161L1262.7 160.2L1263.4 160.3L1264.2 160.1L1264.9 160.1L1265.6 159.6L1266.3 159.9L1267 160.2L1267.7 160.2L1268.5 160.2L1269.2 160L1269.9 160L1270.6 159.1L1271.3 159L1272 159.4L1272.8 159.3L1273.5 159.4L1274.2 159.2L1274.9 159.4L1275.6 159.5L1276.3 159.7L1277.1 159.5L1277.8 159.7L1278.5 159.2L1279.2 159.2L1279.9 159L1280.6 159.2L1281.4 159.1L1282.1 158.9L1282.8 158.7L1283.5 159.1L1284.2 159.1L1284.9 159L1285.7 158.8L1286.4 158.5L1287.1 159.2L1287.8 159.1L1288.5 158.5L1289.2 159L1290 158.5L1290.7 158.8L1291.4 158.8L1292.1 158.9L1292.8 158.1L1293.5 158.2L1294.3 158.1L1295 158.3L1295.7 158.2L1296.4 158.3L1297.1 158.5L1297.8 158.2L1298.6 158.3L1299.3 159L1300 158.7L1300.7 157.5L1301.4 158L1302.1 158.8L1302.9 158.2L1303.6 158.3L1304.3 158.2L1305 157.5L1305.7 158.1L1306.4 157.6L1307.2 157.5L1307.9 158L1308.6 158.2L1309.3 157.8L1310 157.5L1310.7 157.9L1311.5 157.8L1312.2 157.6L1312.9 157.6L1313.6 157.9L1314.3 157.5L1315 157.3L1315.8 157.3L1316.5 157L1317.2 157L1317.9 157L1318.6 157.3L1319.3 157.3L1320.1 157.3L1320.8 156.9L1321.5 156.8L1322.2 157.2L1322.9 157.2L1323.6 157.7L1324.4 156.8L1325.1 157.6L1325.8 156.9L1326.5 156.9L1327.2 156.7L1328 156.3L1328.7 156.3L1329.4 156L1330.1 156L1330.8 155.9L1331.5 156.5L1332.3 155.7L1333 156.7L1333.7 156.2L1334.4 156.1L1335.1 156.6L1335.8 156.5L1336.6 156.4L1337.3 155.1L1338 155.2L1338.7 155.7L1339.4 154.9L1340.1 155.6L1340.9 155.5L1341.6 155.7L1342.3 155.2L1343 155.2L1343.7 154.8L1344.4 155.2L1345.2 155.1L1345.9 155.5L1346.6 155L1347.3 155.2L1348 155.2L1348.7 154.9L1349.5 154.7L1350.2 154.7L1350.9 154.6L1351.6 154.9L1352.3 154.5L1353 154.6L1353.8 155.1L1354.5 155L1355.2 155.4L1355.9 155.2L1356.6 154.5L1357.3 155.2L1358.1 154.9L1358.8 154.7L1359.5 154.7L1360.2 154.9L1360.9 154.3L1361.6 154.3L1362.4 154.4L1363.1 154.4L1363.8 154.3L1364.5 154.6L1365.2 154.8L1365.9 154L1366.7 154.4L1367.4 154L1368.1 154.5L1368.8 153.7L1369.5 153.8L1370.2 153.8L1371 153.7L1371.7 154L1372.4 153.7L1373.1 153.8L1373.8 153.7L1374.5 153.5L1375.3 153.3L1376 153.3L1376.7 152.9L1377.4 153.2L1378.1 153.1L1378.8 153L1379.6 153.9L1380.3 153.3L1381 153.4L1381.7 153.1L1382.4 153.2L1383.1 153L1383.9 153.1L1384.6 153.9L1385.3 153.2L1386 153.5L1386.7 153.2L1387.4 153.3L1388.2 152.9L1388.9 153.5L1389.6 153.3L1390.3 152.8L1391 153L1391.7 152.3L1392.5 152.4L1393.2 152.6L1393.9 152.9L1394.6 152.4L1395.3 152.9L1396 152.8L1396.8 152.2L1397.5 152.9L1398.2 152.9L1398.9 152L1399.6 152.6L1400.3 151.7L1401.1 152.6L1401.8 152.8L1402.5 152.9L1403.2 152.7L1403.9 152.6L1404.6 152.2L1405.4 153L1406.1 152.6L1406.8 152.7L1407.5 152.6L1408.2 151.9L1408.9 152.6L1409.7 152.4L1410.4 152.6L1411.1 152.8L1411.8 152.5L1412.5 152.8L1413.2 152.6L1414 152.9L1414.7 153.1L1415.4 152.7L1416.1 152.9L1416.8 152.9L1417.6 153.4L1418.3 153L1419 152.6L1419.7 152.1L1420.4 152L1421.1 152.1L1421.9 152.8L1422.6 152.4L1423.3 152L1424 152.3L1424.7 153L1425.4 153L1426.2 152.5L1426.9 152.3L1427.6 153.3L1428.3 152.5L1429 152.2L1429.7 152.3L1430.5 152.1L1431.2 152.4L1431.9 152.2L1432.6 151.7L1433.3 152.1L1434 151.9L1434.8 152.3L1435.5 152.2L1436.2 151.8L1436.9 151.8L1437.6 152L1438.3 152.5L1439.1 152.2L1439.8 152L1440.5 152.6L1441.2 152.2L1441.9 152.7L1442.6 152.2L1443.4 151.8L1444.1 152.1L1444.8 152.1L1445.5 152.3L1446.2 152.3L1446.9 151.2L1447.7 151.5L1448.4 151.6L1449.1 151.3L1449.8 151.2L1450.5 151.5L1451.2 151.6L1452 151.9L1452.7 151.3L1453.4 150.8L1454.1 151.4L1454.8 150.7L1455.5 150.4L1456.3 150.9L1457 150.6L1457.7 150.6L1458.4 150.2L1459.1 151.2L1459.8 151.1L1460.6 151.3L1461.3 150.8L1462 150.8L1462.7 151.3L1463.4 151.1L1464.1 150.8L1464.9 150.3L1465.6 150.8L1466.3 150.5L1467 150.6L1467.7 150.5L1468.4 150.9L1469.2 151L1469.9 151L1470.6 151.3L1471.3 150.7L1472 151.6L1472.7 150.8L1473.5 150.5L1474.2 150.7L1474.9 150.5L1475.6 150.5L1476.3 150.8L1477 150.3L1477.8 150.4L1478.5 150.3L1479.2 150.2L1479.9 150L1480.6 150.6L1481.3 151.2L1482.1 150.4L1482.8 150.7L1483.5 150.2L1484.2 150.3L1484.9 149.8L1485.6 150L1486.4 149.7L1487.1 149.8L1487.8 149.8L1488.5 150.7L1489.2 149.9L1489.9 150.2L1490.7 150.5L1491.4 149.7L1492.1 149.9L1492.8 150.6L1493.5 149.9L1494.2 149.8L1495 149.3L1495.7 149.9L1496.4 150.3L1497.1 150.4L1497.8 150.4L1498.5 149.9L1499.3 150.4L1500 149.5L1500.7 149.6L1501.4 149.4L1502.1 149.7L1502.8 149.4L1503.6 149.5L1504.3 149.2L1505 149.7L1505.7 150.5L1506.4 149.1L1507.2 149.7L1507.9 149.1L1508.6 149L1509.3 149.5L1510 149.5L1510.7 149.8L1511.5 149.9L1512.2 149.8L1512.9 149.8L1513.6 150L1514.3 149.8L1515 150L1515.8 148.8L1516.5 150.1L1517.2 149.9L1517.9 149.6L1518.6 149.1L1519.3 148.7L1520.1 148.7L1520.8 149.4L1521.5 149L1522.2 148.8L1522.9 149.1L1523.6 149.2L1524.4 149.2L1525.1 149L1525.8 148.9L1526.5 148.8L1527.2 148.9L1527.9 148.9L1528.7 148.5L1529.4 148.7L1530.1 149.3L1530.8 149.3L1531.5 149.2L1532.2 149.6L1533 149.3L1533.7 149.9L1534.4 149.3L1535.1 149.3L1535.8 148.6L1536.5 148.1L1537.3 148L1538 148.2L1538.7 148.1L1539.4 148L1540.1 148L1540.8 148.1L1541.6 148.9L1542.3 148.3L1543 148.7L1543.7 149L1544.4 148.6L1545.1 148.6L1545.9 149.3L1546.6 148.5L1547.3 149L1548 148.9L1548.7 148.5L1549.4 148.8L1550.2 149.1L1550.9 148.2L1551.6 148.3L1552.3 148.9L1553 148.1L1553.7 148.4L1554.5 148.1L1555.2 147.8L1555.9 147.9L1556.6 147.5L1557.3 147.5L1558 147.6L1558.8 148.1L1559.5 148.3L1560.2 148L1560.9 148L1561.6 148.1L1562.3 148.1L1563.1 148.3L1563.8 148L1564.5 147.7L1565.2 148.3L1565.9 147.7L1566.6 148.1L1567.4 147.7L1568.1 147.4L1568.8 147.9L1569.5 147.9L1570.2 148.1L1570.9 147.8L1571.7 148.1L1572.4 148.4L1573.1 148.1L1573.8 147.7L1574.5 147.9L1575.2 147.6L1576 147.4L1576.7 146.8L1577.4 147.1L1578.1 148.1L1578.8 147.3L1579.5 147.3L1580.3 148L1581 147.1L1581.7 147.4L1582.4 146.4L1583.1 146.6L1583.8 145.9L1584.6 146.6L1585.3 146.5L1586 146.2L1586.7 146.2L1587.4 147.2L1588.1 146.5L1588.9 146.2L1589.6 146L1590.3 146.1L1591 146.4L1591.7 146.2L1592.4 146.5L1593.2 146.5L1593.9 146.4L1594.6 146.5L1595.3 146.6L1596 146.9L1596.8 146.3L1597.5 146.8L1598.2 146.2L1598.9 146.6L1599.6 146.7L1600.3 146.3L1601.1 146.7L1601.8 146.1L1602.5 146.3L1603.2 146.1L1603.9 146.5L1604.6 147.5L1605.4 147.1L1606.1 146.3L1606.8 146.3L1607.5 146.5L1608.2 146.2L1608.9 146.4L1609.7 146.6L1610.4 146.3L1611.1 146.1L1611.8 146.1L1612.5 146L1613.2 146.2L1614 145.4L1614.7 146.5L1615.4 146.1L1616.1 146.2L1616.8 146.1L1617.5 145.7L1618.3 146.4L1619 145.3L1619.7 145.9L1620.4 145.9L1621.1 146.5L1621.8 146.1L1622.6 146.4L1623.3 146.4L1624 146.8L1624.7 146.3L1625.4 146L1626.1 145.9L1626.9 146.3L1627.6 146.4L1628.3 145.2L1629 145.3L1629.7 145.9L1630.4 145.5L1631.2 145.4L1631.9 145.9L1632.6 146L1633.3 145.9L1634 146.1L1634.7 145.8L1635.5 146.5L1636.2 145.4L1636.9 146L1637.6 145.6L1638.3 146.4L1639 145.7L1639.8 146.2L1640.5 146.5L1641.2 146.2L1641.9 145.6L1642.6 146L1643.3 146.1L1644.1 146.5L1644.8 146.2L1645.5 146.2L1646.2 145.3L1646.9 145.8L1647.6 146.2L1648.4 145.7L1649.1 145.5L1649.8 145.7L1650.5 146.3L1651.2 145.9L1651.9 145.7L1652.7 145.5L1653.4 145L1654.1 146.1L1654.8 145.9L1655.5 146.1L1656.2 146L1657 145.9L1657.7 145.6L1658.4 146.2L1659.1 145.3L1659.8 145.3L1660.5 146.5L1661.3 145.5L1662 145.7L1662.7 145.7L1663.4 145.9L1664.1 145.1L1664.8 145.4L1665.6 145.6L1666.3 145.5L1667 145.1L1667.7 145.7L1668.4 144.9L1669.1 145.9L1669.9 145.7L1670.6 145.5L1671.3 145.2L1672 145L1672.7 145.8L1673.4 145.2L1674.2 145.5L1674.9 145.1L1675.6 144.9L1676.3 145.1L1677 145.3L1677.7 145L1678.5 145.7L1679.2 144.8L1679.9 145.5L1680.6 144.7L1681.3 144.6L1682 145.2L1682.8 145L1683.5 145.9L1684.2 145.5" stroke="#7f7f7f"/>
<circle cx="968.12" cy="493.40" r="2.50" fill="#7f7f7f"/><circle cx="1025.46" cy="210.70" r="2.50" fill="#7f7f7f"/><circle cx="1082.80" cy="183.42" r="2.50" fill="#7f7f7f"/><circle cx="1140.15" cy="171.85" r="2.50" fill="#7f7f7f"/><circle cx="1197.49" cy="164.23" r="2.50" fill="#7f7f7f"/><circle cx="1254.84" cy="160.49" r="2.50" fill="#7f7f7f"/><circle cx="1312.18" cy="157.64" r="2.50" fill="#7f7f7f"/><circle cx="1369.52" cy="153.78" r="2.50" fill="#7f7f7f"/><circle cx="1426.87" cy="152.29" r="2.50" fill="#7f7f7f"/><circle cx="1484.21" cy="150.27" r="2.50" fill="#7f7f7f"/><circle cx="1541.56" cy="148.88" r="2.50" fill="#7f7f7f"/><circle cx="1598.90" cy="146.64" r="2.50" fill="#7f7f7f"/><circle cx="1656.24" cy="146.02" r="2.50" fill="#7f7f7f"/>
<path d="M968.1 416.1L968.8 355L969.6 335L970.3 322.9L971 315.1L971.7 309.4L972.4 303.4L973.1 298.2L973.9 293.2L974.6 288.1L975.3 283.7L976 280.1L976.7 276.9L977.4 272.8L978.2 271.1L978.9 266.8L979.6 265.1L980.3 263.9L981 260.5L981.7 257.4L982.5 257.4L983.2 254.2L983.9 253.9L984.6 252.9L985.3 253.7L986 249.8L986.8 249.1L987.5 247.6L988.2 246.2L988.9 245L989.6 244.2L990.3 241.7L991.1 240L991.8 239.7L992.5 238.2L993.2 237.8L993.9 236.2L994.6 235.9L995.4 234.7L996.1 233.4L996.8 233.9L997.5 232.9L998.2 232.4L998.9 231.9L999.7 231.2L1000.4 230.5L1001.1 228.7L1001.8 229L1002.5 228.1L1003.2 227.3L1004 227L1004.7 227.4L1005.4 225.7L1006.1 226.2L1006.8 225.1L1007.5 224L1008.3 225L1009 223.2L1009.7 223.7L1010.4 222.4L1011.1 222.3L1011.8 221.9L1012.6 220.9L1013.3 220.6L1014 221L1014.7 220.5L1015.4 220.9L1016.1 218.9L1016.9 217L1017.6 217L1018.3 216.9L1019 215.4L1019.7 214.6L1020.4 216.1L1021.2 214.6L1021.9 215.2L1022.6 215.5L1023.3 215.4L1024 214.8L1024.7 212.9L1025.5 213.4L1026.2 212.4L1026.9 212.6L1027.6 210.7L1028.3 211.2L1029 212L1029.8 211.7L1030.5 211.9L1031.2 209.2L1031.9 211.4L1032.6 210.8L1033.3 210.8L1034.1 208.8L1034.8 209L1035.5 209.1L1036.2 208L1036.9 208.7L1037.6 208.2L1038.4 208.2L1039.1 207.5L1039.8 207.9L1040.5 206.7L1041.2 206.8L1041.9 206.7L1042.7 206.2L1043.4 205.4L1044.1 205.3L1044.8 204.2L1045.5 204.2L1046.2 203.9L1047 205.4L1047.7 205.5L1048.4 205L1049.1 204.6L1049.8 203.5L1050.5 203.6L1051.3 204.3L1052 203.6L1052.7 202.3L1053.4 203.2L1054.1 202.8L1054.8 202.7L1055.6 203.2L1056.3 201.9L1057 201.6L1057.7 201.9L1058.4 200.5L1059.2 200.7L1059.9 200.5L1060.6 201.4L1061.3 201L1062 200.4L1062.7 200.5L1063.5 199.6L1064.2 199L1064.9 200.1L1065.6 199L1066.3 198.7L1067 199.4L1067.8 198.8L1068.5 197.9L1069.2 198.5L1069.9 198.6L1070.6 198.5L1071.3 199.2L1072.1 198.3L1072.8 197.3L1073.5 198L1074.2 196.5L1074.9 196.4L1075.6 196.1L1076.4 196.4L1077.1 197.6L1077.8 195.1L1078.5 196.2L1079.2 194.2L1079.9 193.7L1080.7 194.3L1081.4 194.1L1082.1 194.9L1082.8 194.6L1083.5 194.9L1084.2 193.9L1085 194.3L1085.7 195.1L1086.4 193.1L1087.1 193.6L1087.8 193.7L1088.5 192.5L1089.3 193.2L1090 194.1L1090.7 194.1L1091.4 193.7L1092.1 192.8L1092.8 193L1093.6 192.2L1094.3 192.8L1095 192L1095.7 192L1096.4 192L1097.1 192.9L1097.9 190.6L1098.6 191.7L1099.3 191.4L1100 190.8L1100.7 191.4L1101.4 190.3L1102.2 191.3L1102.9 190.8L1103.6 190.1L1104.3 190.9L1105 190.4L1105.7 190L1106.5 190.3L1107.2 190.9L1107.9 190.3L1108.6 190.3L1109.3 190.5L1110 190.1L1110.8 189.2L1111.5 188.7L1112.2 188.9L1112.9 188.8L1113.6 188.5L1114.3 189.4L1115.1 190.5L1115.8 191.1L1116.5 190.1L1117.2 188.6L1117.9 189.7L1118.6 189.1L1119.4 188.2L1120.1 188.9L1120.8 188.3L1121.5 188.3L1122.2 188L1122.9 188.5L1123.7 187.9L1124.4 187.5L1125.1 187.6L1125.8 187.4L1126.5 186.7L1127.2 186.9L1128 186.4L1128.7 187.4L1129.4 187.2L1130.1 187L1130.8 186.7L1131.5 186.8L1132.3 186L1133 184.8L1133.7 185.8L1134.4 186L1135.1 185.8L1135.8 185.5L1136.6 184.7L1137.3 185.6L1138 184.3L1138.7 184.8L1139.4 184.9L1140.1 184.9L1140.9 185.7L1141.6 184L1142.3 184.2L1143 184.6L1143.7 184.4L1144.4 184.4L1145.2 183.7L1145.9 184.1L1146.6 185L1147.3 186.3L1148 184.3L1148.8 184.3L1149.5 184.9L1150.2 184.3L1150.9 184.5L1151.6 182.7L1152.3 182.9L1153.1 183.3L1153.8 182.9L1154.5 182L1155.2 181.7L1155.9 181.8L1156.6 180.8L1157.4 181.4L1158.1 181.8L1158.8 181.9L1159.5 182.6L1160.2 181.7L1160.9 181.1L1161.7 181.9L1162.4 181.8L1163.1 182.3L1163.8 182.1L1164.5 180.6L1165.2 181.2L1166 181.9L1166.7 181.2L1167.4 180.8L1168.1 178.8L1168.8 181.3L1169.5 181.2L1170.3 180.6L1171 180.8L1171.7 180.5L1172.4 180.7L1173.1 180.2L1173.8 180.5L1174.6 180.7L1175.3 179.8L1176 179.4L1176.7 179.4L1177.4 179.9L1178.1 178.8L1178.9 178.5L1179.6 178.7L1180.3 179.1L1181 178.1L1181.7 177.9L1182.4 178.6L1183.2 178L1183.9 178.9L1184.6 177.6L1185.3 177L1186 178.2L1186.7 178.4L1187.5 177.9L1188.2 178.1L1188.9 179.3L1189.6 177.6L1190.3 178L1191 177.5L1191.8 176.1L1192.5 176.7L1193.2 177.1L1193.9 177.3L1194.6 175.6L1195.3 177.4L1196.1 176.4L1196.8 176.1L1197.5 176.9L1198.2 176.4L1198.9 176.3L1199.6 176L1200.4 178.9L1201.1 176.6L1201.8 177.6L1202.5 174.9L1203.2 175.8L1203.9 175.3L1204.7 174.8L1205.4 176.3L1206.1 175L1206.8 174.4L1207.5 175.3L1208.2 175.4L1209 176.4L1209.7 175.4L1210.4 175.9L1211.1 174.8L1211.8 175.7L1212.5 176.6L1213.3 175.1L1214 174.8L1214.7 174.9L1215.4 175.2L1216.1 174.6L1216.8 174.8L1217.6 175.1L1218.3 173.7L1219 173.2L1219.7 173.6L1220.4 172.5L1221.1 172.8L1221.9 173L1222.6 172.6L1223.3 173.5L1224 173.3L1224.7 172.2L1225.4 172.9L1226.2 172.1L1226.9 173.5L1227.6 172.9L1228.3 173.1L1229 173.7L1229.7 173.3L1230.5 172.4L1231.2 172.6L1231.9 172.1L1232.6 171.7L1233.3 172.4L1234 171.6L1234.8 171.9L1235.5 171.9L1236.2 172.3L1236.9 171.9L1237.6 171.3L1238.4 171.4L1239.1 172.1L1239.8 172L1240.5 171.9L1241.2 171.8L1241.9 171.5L1242.7 171.2L1243.4 171.2L1244.1 171L1244.8 171.8L1245.5 172.1L1246.2 171.3L1247 170.8L1247.7 171.5L1248.4 171.6L1249.1 170.8L1249.8 170.4L1250.5 171L1251.3 171L1252 170.6L1252.7 170.5L1253.4 171.2L1254.1 172.2L1254.8 170.6L1255.6 171.9L1256.3 171.4L1257 171.6L1257.7 170.3L1258.4 169.8L1259.1 169.9L1259.9 171.1L1260.6 170.5L1261.3 170L1262 170L1262.7 169.7L1263.4 169.2L1264.2 170.2L1264.9 168.6L1265.6 168.7L1266.3 169L1267 169.1L1267.7 169.1L1268.5 168.5L1269.2 169.4L1269.9 169.9L1270.6 169.2L1271.3 170.3L1272 169.8L1272.8 169.7L1273.5 169.5L1274.2 170.6L1274.9 169.6L1275.6 170.5L1276.3 169.8L1277.1 168.8L1277.8 169L1278.5 169.9L1279.2 168.3L1279.9 167.8L1280.6 170.4L1281.4 169.8L1282.1 172L1282.8 170.8L1283.5 169.2L1284.2 170.5L1284.9 169.7L1285.7 169.6L1286.4 170.2L1287.1 169.3L1287.8 169.3L1288.5 170.2L1289.2 169L1290 169.9L1290.7 170.2L1291.4 169.9L1292.1 169.8L1292.8 170.1L1293.5 168.8L1294.3 169.5L1295 168.8L1295.7 169.8L1296.4 170.6L1297.1 169.5L1297.8 168.2L1298.6 169L1299.3 169.8L1300 169.5L1300.7 169.7L1301.4 170L1302.1 169.6L1302.9 170.4L1303.6 169.8L1304.3 169.6L1305 169.7L1305.7 169.5L1306.4 170.6L1307.2 169.8L1307.9 169.2L1308.6 168.9L1309.3 168L1310 168.2L1310.7 169.4L1311.5 168.8L1312.2 169.6L1312.9 170.1L1313.6 169.1L1314.3 168.9L1315 169.9L1315.8 169.5L1316.5 171.1L1317.2 169.4L1317.9 169.1L1318.6 169.8L1319.3 169.1L1320.1 168.9L1320.8 168.3L1321.5 168.1L1322.2 168.6L1322.9 168.8L1323.6 167.7L1324.4 169.3L1325.1 168.6L1325.8 168.7L1326.5 168.6L1327.2 169.4L1328 169.6L1328.7 168.4L1329.4 168.6L1330.1 168.8L1330.8 168.5L1331.5 169.6L1332.3 168.4L1333 168.3L1333.7 169.3L1334.4 167.7L1335.1 168.6L1335.8 168L1336.6 168.6L1337.3 169.2L1338 169L1338.7 167.8L1339.4 168.4L1340.1 168.2L1340.9 167.7L1341.6 168.9L1342.3 168.9L1343 169.2L1343.7 168.1L1344.4 168.1L1345.2 167L1345.9 167L1346.6 167.8L1347.3 167.4L1348 167.7L1348.7 167.5L1349.5 167.7L1350.2 166.6L1350.9 167.6L1351.6 166.9L1352.3 167.3L1353 167.3L1353.8 166.7L1354.5 167.5L1355.2 168.9L1355.9 167.7L1356.6 167.9L1357.3 167.7L1358.1 167.2L1358.8 167.2L1359.5 166.4L1360.2 166.9L1360.9 166.3L1361.6 166L1362.4 166.6L1363.1 167.5L1363.8 166.9L1364.5 166.7L1365.2 166.7L1365.9 166.5L1366.7 165.5L1367.4 165.8L1368.1 166L1368.8 167L1369.5 166.1L1370.2 166.2L1371 166.4L1371.7 166L1372.4 165.8L1373.1 165.4L1373.8 166.6L1374.5 166.2L1375.3 165.3L1376 166.5L1376.7 166.1L1377.4 166.3L1378.1 165.2L1378.8 164.3L1379.6 166.9L1380.3 165.1L1381 165.1L1381.7 166.4L1382.4 166.5L1383.1 166.9L1383.9 165.2L1384.6 166L1385.3 165.8L1386 165.6L1386.7 164.8L1387.4 167.3L1388.2 166.3L1388.9 165.9L1389.6 165.8L1390.3 166.5L1391 165.2L1391.7 165L1392.5 164.5L1393.2 164.6L1393.9 165.9L1394.6 164.1L1395.3 163.6L1396 163.9L1396.8 164.3L1397.5 163.8L1398.2 163.6L1398.9 163.4L1399.6 164.1L1400.3 163.8L1401.1 163.6L1401.8 163.9L1402.5 163.5L1403.2 164.1L1403.9 163.1L1404.6 164.4L1405.4 164L1406.1 163.8L1406.8 163.4L1407.5 163.6L1408.2 163.5L1408.9 162.4L1409.7 163.3L1410.4 163.2L1411.1 162.3L1411.8 163.2L1412.5 165.6L1413.2 163.2L1414 164.3L1414.7 164.4L1415.4 164.4L1416.1 164.1L1416.8 163.2L1417.6 163.1L1418.3 163.5L1419 163.7L1419.7 164.2L1420.4 165.1L1421.1 164.6L1421.9 164.7L1422.6 163.9L1423.3 165.7L1424 163.6L1424.7 162.9L1425.4 162.4L1426.2 163.4L1426.9 164L1427.6 164.5L1428.3 164.1L1429 164.4L1429.7 163.9L1430.5 163.5L1431.2 163.3L1431.9 163.5L1432.6 163.2L1433.3 162.8L1434 163.2L1434.8 163.8L1435.5 162.9L1436.2 163.1L1436.9 163.1L1437.6 163.1L1438.3 163.6L1439.1 162.7L1439.8 163.1L1440.5 163L1441.2 163.1L1441.9 161.9L1442.6 162.2L1443.4 162.9L1444.1 161.9L1444.8 162.2L1445.5 162.9L1446.2 162.3L1446.9 162.4L1447.7 163.2L1448.4 163.1L1449.1 161.8L1449.8 162.6L1450.5 162.1L1451.2 161.8L1452 161.9L1452.7 162.6L1453.4 162.4L1454.1 162.1L1454.8 161.3L1455.5 161.3L1456.3 161.7L1457 161.8L1457.7 161.2L1458.4 162.1L1459.1 160.8L1459.8 161.5L1460.6 162.3L1461.3 162L1462 162L1462.7 162.5L1463.4 162.1L1464.1 162.2L1464.9 162.8L1465.6 161.3L1466.3 162.5L1467 160.4L1467.7 162.2L1468.4 160.9L1469.2 160.7L1469.9 161.1L1470.6 160.3L1471.3 161.2L1472 161.4L1472.7 161.7L1473.5 161.2L1474.2 161.9L1474.9 160.6L1475.6 161.6L1476.3 161.1L1477 162.4L1477.8 161.2L1478.5 160.6L1479.2 161.3L1479.9 161.4L1480.6 161.2L1481.3 163L1482.1 162L1482.8 162.8L1483.5 163.6L1484.2 161.4L1484.9 161.4L1485.6 162.3L1486.4 160.3L1487.1 162.3L1487.8 160.9L1488.5 162.3L1489.2 162.1L1489.9 160.2L1490.7 160.1L1491.4 161.7L1492.1 160.4L1492.8 161.1L1493.5 162.1L1494.2 161.7L1495 161L1495.7 160.3L1496.4 161.3L1497.1 161L1497.8 161.3L1498.5 160L1499.3 161.3L1500 161.5L1500.7 161.8L1501.4 162L1502.1 161.5L1502.8 159.9L1503.6 160.4L1504.3 163.2L1505 161.3L1505.7 161.1L1506.4 161.2L1507.2 161.8L1507.9 161.7L1508.6 161.4L1509.3 161.3L1510 161.7L1510.7 160.7L1511.5 160.7L1512.2 161L1512.9 161.2L1513.6 160.6L1514.3 161.1L1515 160.6L1515.8 162L1516.5 160.8L1517.2 160L1517.9 160.5L1518.6 161.5L1519.3 161.1L1520.1 160.6L1520.8 161.4L1521.5 161.1L1522.2 161L1522.9 161.1L1523.6 160L1524.4 160.5L1525.1 160.1L1525.8 160.3L1526.5 160.6L1527.2 159.8L1527.9 160.5L1528.7 160.6L1529.4 161.3L1530.1 159.9L1530.8 161.2L1531.5 159.9L1532.2 159.3L1533 160.5L1533.7 161L1534.4 159.4L1535.1 160.7L1535.8 160.7L1536.5 161.2L1537.3 162.1L1538 162.1L1538.7 161.2L1539.4 160.2L1540.1 160.2L1540.8 160.4L1541.6 160.4L1542.3 160.5L1543 161.2L1543.7 161.8L1544.4 161.2L1545.1 160.3L1545.9 161.8L1546.6 160.4L1547.3 160.3L1548 159.8L1548.7 162.3L1549.4 161L1550.2 159.5L1550.9 159.8L1551.6 160.3L1552.3 160.6L1553 159.8L1553.7 159.5L1554.5 160.2L1555.2 160.7L1555.9 159.9L1556.6 160.4L1557.3 161L1558 160.4L1558.8 159.8L1559.5 161L1560.2 160.6L1560.9 160.5L1561.6 159.6L1562.3 159.2L1563.1 159.1L1563.8 159L1564.5 158.7L1565.2 160.1L1565.9 159L1566.6 160L1567.4 159.5L1568.1 159.7L1568.8 159.7L1569.5 160.5L1570.2 160.6L1570.9 159.4L1571.7 160.1L1572.4 159.2L1573.1 158.4L1573.8 158.6L1574.5 160.2L1575.2 158.8L1576 159.5L1576.7 160.1L1577.4 161.3L1578.1 159.5L1578.8 160.5L1579.5 160.5L1580.3 159.3L1581 159.6L1581.7 159.3L1582.4 160.4L1583.1 159.5L1583.8 159.6L1584.6 160.4L1585.3 160.8L1586 159.2L1586.7 160L1587.4 160.3L1588.1 159.9L1588.9 160.1L1589.6 159.1L1590.3 158.9L1591 159.9L1591.7 159L1592.4 160.6L1593.2 160.7L1593.9 158.9L1594.6 159.5L1595.3 158.8L1596 159.7L1596.8 159.7L1597.5 160.5L1598.2 159.7L1598.9 159.6L1599.6 160L1600.3 159.3L1601.1 159.9L1601.8 159.2L1602.5 159.9L1603.2 161.6L1603.9 159.1L1604.6 160.7L1605.4 160.3L1606.1 160.7L1606.8 159L1607.5 159.5L1608.2 158.4L1608.9 159L1609.7 157.9L1610.4 157.7L1611.1 156.8L1611.8 157.8L1612.5 159.5L1613.2 158.7L1614 158.3L1614.7 159.3L1615.4 159.7L1616.1 159.6L1616.8 159.2L1617.5 160.5L1618.3 159L1619 159.9L1619.7 159.4L1620.4 159.5L1621.1 159.4L1621.8 158.6L1622.6 159L1623.3 158.9L1624 160.2L1624.7 158.1L1625.4 159.4L1626.1 158.9L1626.9 159L1627.6 159.2L1628.3 159.6L1629 158.4L1629.7 158.9L1630.4 158.3L1631.2 156.8L1631.9 160.1L1632.6 159.2L1633.3 159.3L1634 158.7L1634.7 158.9L1635.5 159.3L1636.2 159.7L1636.9 159.1L1637.6 158.8L1638.3 158.3L1639 158.6L1639.8 159.5L1640.5 158L1641.2 158.6L1641.9 158.9L1642.6 159.1L1643.3 157.2L1644.1 156.9L1644.8 158.1L1645.5 157.4L1646.2 159.4L1646.9 158.8L1647.6 159.2L1648.4 159.3L1649.1 158.1L1649.8 158.6L1650.5 157.9L1651.2 157.8L1651.9 158.3L1652.7 158.8L1653.4 159.5L1654.1 159.1L1654.8 159.5L1655.5 158.5L1656.2 158.6L1657 158.8L1657.7 158.2L1658.4 158.4L1659.1 157.4L1659.8 157.5L1660.5 158.6L1661.3 157L1662 158L1662.7 157.8L1663.4 158.8L1664.1 158.7L1664.8 157.6L1665.6 158.4L1666.3 158.9L1667 157.9L1667.7 158.1L1668.4 159.4L1669.1 156.9L1669.9 158.4L1670.6 158.6L1671.3 157.2L1672 156.8L1672.7 156.4L1673.4 155.7L1674.2 157.4L1674.9 157.4L1675.6 157.8L1676.3 157.1L1677 157.3L1677.7 155.4L1678.5 156.5L1679.2 157.1L1679.9 156.4L1680.6 156.2L1681.3 157.1L1682 156L1682.8 156.7L1683.5 156.5L1684.2 155.8" stroke="#d62728"/>
<polygon points="964.62,416.10 971.44,412.60 971.44,419.60" fill="#d62728"/><polygon points="1021.96,213.36 1028.79,209.86 1028.79,216.86" fill="#d62728"/><polygon points="1079.30,194.64 1086.13,191.14 1086.13,198.14" fill="#d62728"/><polygon points="1136.65,184.85 1143.47,181.35 1143.47,188.35" fill="#d62728"/><polygon points="1193.99,176.86 1200.82,173.36 1200.82,180.36" fill="#d62728"/><polygon points="1251.34,170.57 1258.16,167.07 1258.16,174.07" fill="#d62728"/><polygon points="1308.68,169.63 1315.51,166.13 1315.51,173.13" fill="#d62728"/><polygon points="1366.02,166.10 1372.85,162.60 1372.85,169.60" fill="#d62728"/><polygon points="1423.37,163.97 1430.19,160.47 1430.19,167.47" fill="#d62728"/><polygon points="1480.71,161.42 1487.54,157.92 1487.54,164.92" fill="#d62728"/><polygon points="1538.06,160.43 1544.88,156.93 1544.88,163.93" fill="#d62728"/><polygon points="1595.40,159.63 1602.23,156.13 1602.23,163.13" fill="#d62728"/><polygon points="1652.74,158.57 1659.57,155.07 1659.57,162.07" fill="#d62728"/>
<path d="M968.1 555.4L968.8 480L969.6 440L970.3 413.1L971 399.5L971.7 389.8L972.4 380.5L973.1 373L973.9 364.4L974.6 358.2L975.3 351.9L976 347L976.7 340.6L977.4 336.6L978.2 333.4L978.9 328.4L979.6 325L980.3 320.1L981 318.1L981.7 314.5L982.5 311.6L983.2 309.5L983.9 307.9L984.6 304.6L985.3 303.6L986 301.4L986.8 297.3L987.5 294.4L988.2 292.2L988.9 291.2L989.6 289.7L990.3 288.1L991.1 286.8L991.8 286.5L992.5 285L993.2 285.2L993.9 283.8L994.6 282.5L995.4 283.2L996.1 281.5L996.8 280.7L997.5 278.8L998.2 276.5L998.9 271.5L999.7 263.1L1000.4 259.8L1001.1 257.5L1001.8 256L1002.5 255.9L1003.2 253.7L1004 249.8L1004.7 246.5L1005.4 242.8L1006.1 239.3L1006.8 236.8L1007.5 233.4L1008.3 231L1009 229.4L1009.7 228.7L1010.4 226.4L1011.1 225.4L1011.8 224.4L1012.6 224.1L1013.3 222.8L1014 223.2L1014.7 221.3L1015.4 219.4L1016.1 218.2L1016.9 217.9L1017.6 217.5L1018.3 216.3L1019 216.6L1019.7 216.1L1020.4 215.3L1021.2 215.4L1021.9 213.9L1022.6 213.7L1023.3 213.4L1024 213.8L1024.7 213.8L1025.5 212.2L1026.2 212.3L1026.9 212.3L1027.6 210.9L1028.3 211.2L1029 210.5L1029.8 210L1030.5 209L1031.2 208.3L1031.9 208.7L1032.6 208.7L1033.3 207.9L1034.1 208.3L1034.8 207.7L1035.5 208L1036.2 207.9L1036.9 207.6L1037.6 206.9L1038.4 206L1039.1 206.1L1039.8 205.6L1040.5 204.9L1041.2 203.7L1041.9 203.9L1042.7 202.9L1043.4 203.1L1044.1 202.1L1044.8 202.4L1045.5 201.9L1046.2 202L1047 202.7L1047.7 201.6L1048.4 201.7L1049.1 200.3L1049.8 200L1050.5 199.7L1051.3 199.6L1052 198.5L1052.7 198.2L1053.4 198L1054.1 198.1L1054.8 197.3L1055.6 198.1L1056.3 197.8L1057 197.2L1057.7 197.3L1058.4 196.4L1059.2 195.9L1059.9 195.2L1060.6 195L1061.3 194.2L1062 193.9L1062.7 193.4L1063.5 192.5L1064.2 192.7L1064.9 191.3L1065.6 192.4L1066.3 191.3L1067 191.4L1067.8 190.8L1068.5 190.7L1069.2 189.4L1069.9 189.9L1070.6 190.2L1071.3 190.1L1072.1 188.6L1072.8 189.3L1073.5 189.1L1074.2 188.1L1074.9 187.5L1075.6 186.6L1076.4 187L1077.1 186.6L1077.8 186.9L1078.5 185.6L1079.2 187L1079.9 185.7L1080.7 185L1081.4 184.7L1082.1 184.8L1082.8 184.8L1083.5 184.1L1084.2 183.7L1085 183.6L1085.7 183.3L1086.4 183.1L1087.1 182.6L1087.8 183.3L1088.5 182.4L1089.3 182L1090 180.8L1090.7 181.5L1091.4 180.9L1092.1 181.1L1092.8 180.8L1093.6 180.3L1094.3 179.2L1095 179.2L1095.7 180.6L1096.4 179.9L1097.1 179L1097.9 179.4L1098.6 178.1L1099.3 179.5L1100 178.7L1100.7 177.8L1101.4 178.2L1102.2 177.5L1102.9 177.4L1103.6 177.3L1104.3 177.1L1105 177.1L1105.7 175.8L1106.5 176.3L1107.2 175.6L1107.9 175.8L1108.6 176.3L1109.3 175.8L1110 174L1110.8 174.5L1111.5 174.3L1112.2 174.2L1112.9 174.6L1113.6 174L1114.3 174.1L1115.1 174.5L1115.8 174L1116.5 173.9L1117.2 173.6L1117.9 173.4L1118.6 173.4L1119.4 172.8L1120.1 173.1L1120.8 171.4L1121.5 171.1L1122.2 171.8L1122.9 170.4L1123.7 171.4L1124.4 171.9L1125.1 171.8L1125.8 170.1L1126.5 170.4L1127.2 170.6L1128 170L1128.7 170.3L1129.4 169.1L1130.1 169.4L1130.8 169.3L1131.5 168.6L1132.3 168.6L1133 168.4L1133.7 168.2L1134.4 167.7L1135.1 168.1L1135.8 168.5L1136.6 167.6L1137.3 167.9L1138 167.5L1138.7 166.6L1139.4 167L1140.1 167.4L1140.9 167.7L1141.6 166.9L1142.3 166.3L1143 166.8L1143.7 166.6L1144.4 167.4L1145.2 166.9L1145.9 166.2L1146.6 166.4L1147.3 166.9L1148 166.2L1148.8 167L1149.5 166L1150.2 166.9L1150.9 165.9L1151.6 166.2L1152.3 165L1153.1 165.3L1153.8 165L1154.5 164L1155.2 164.5L1155.9 164L1156.6 164.2L1157.4 164.3L1158.1 163.3L1158.8 163.9L1159.5 163.9L1160.2 164.7L1160.9 164.3L1161.7 164.7L1162.4 164.6L1163.1 164.2L1163.8 164.2L1164.5 163.7L1165.2 163.3L1166 163.4L1166.7 162.7L1167.4 162.5L1168.1 164.4L1168.8 164L1169.5 163.4L1170.3 162.8L1171 163.8L1171.7 163.7L1172.4 163.1L1173.1 163.5L1173.8 163.4L1174.6 163.4L1175.3 163L1176 163.4L1176.7 163L1177.4 161.7L1178.1 162.5L1178.9 163.2L1179.6 163.4L1180.3 162.1L1181 162.6L1181.7 161.2L1182.4 162.2L1183.2 161.2L1183.9 161.9L1184.6 161.4L1185.3 160.9L1186 160.8L1186.7 160.6L1187.5 160.5L1188.2 159.6L1188.9 160.7L1189.6 161L1190.3 160.7L1191 161L1191.8 160.7L1192.5 161.1L1193.2 160.7L1193.9 160.7L1194.6 160.5L1195.3 159.9L1196.1 161L1196.8 160.3L1197.5 159.7L1198.2 159.7L1198.9 159.9L1199.6 160.7L1200.4 160L1201.1 159.5L1201.8 159.8L1202.5 158.6L1203.2 159L1203.9 159.1L1204.7 158.6L1205.4 159.5L1206.1 158.6L1206.8 159.3L1207.5 157.5L1208.2 158.4L1209 158.3L1209.7 157L1210.4 158.3L1211.1 158.2L1211.8 158.7L1212.5 158L1213.3 157.6L1214 157.5L1214.7 157.4L1215.4 156.8L1216.1 157.3L1216.8 156.1L1217.6 157.1L1218.3 156.5L1219 156.9L1219.7 157.1L1220.4 156.5L1221.1 155.8L1221.9 156.2L1222.6 155L1223.3 156.1L1224 157.1L1224.7 156.5L1225.4 155.5L1226.2 155.6L1226.9 156.6L1227.6 156.6L1228.3 156L1229 156L1229.7 156.2L1230.5 156.3L1231.2 156.5L1231.9 155.1L1232.6 156.9L1233.3 155.9L1234 156.8L1234.8 156L1235.5 155.8L1236.2 155.5L1236.9 155.4L1237.6 155.3L1238.4 155.1L1239.1 155.1L1239.8 154.8L1240.5 155.5L1241.2 154.1L1241.9 153.5L1242.7 154L1243.4 154.8L1244.1 153.5L1244.8 153.6L1245.5 153.3L1246.2 153.8L1247 154.2L1247.7 153.5L1248.4 153.3L1249.1 152.4L1249.8 152.3L1250.5 153L1251.3 152.8L1252 152.5L1252.7 152.5L1253.4 152.6L1254.1 153L1254.8 152.5L1255.6 152.2L1256.3 152.9L1257 152L1257.7 152.1L1258.4 151.6L1259.1 152.4L1259.9 151.6L1260.6 151.7L1261.3 152.1L1262 151.7L1262.7 152.1L1263.4 152.1L1264.2 151L1264.9 150.9L1265.6 150.7L1266.3 150.4L1267 149.6L1267.7 149.6L1268.5 150.8L1269.2 149.8L1269.9 151.2L1270.6 150.2L1271.3 150.2L1272 150L1272.8 149.4L1273.5 149.5L1274.2 149.6L1274.9 149.5L1275.6 149.5L1276.3 149.3L1277.1 150L1277.8 148.9L1278.5 148.3L1279.2 148.8L1279.9 148.6L1280.6 149.1L1281.4 148.3L1282.1 147.8L1282.8 148.4L1283.5 147.9L1284.2 148.1L1284.9 148.3L1285.7 147.8L1286.4 148.7L1287.1 148L1287.8 148.2L1288.5 147.7L1289.2 148.2L1290 147.4L1290.7 148L1291.4 147.2L1292.1 148L1292.8 147.7L1293.5 147.7L1294.3 147.1L1295 146.3L1295.7 147.7L1296.4 147L1297.1 146.4L1297.8 147.4L1298.6 146.8L1299.3 146.2L1300 147L1300.7 146.4L1301.4 146.7L1302.1 146.1L1302.9 146.8L1303.6 146.1L1304.3 146.1L1305 146L1305.7 146.2L1306.4 145.5L1307.2 144.9L1307.9 145.2L1308.6 145L1309.3 145.4L1310 144.5L1310.7 144.1L1311.5 144.6L1312.2 145.6L1312.9 145.1L1313.6 145.5L1314.3 145.5L1315 144.5L1315.8 144L1316.5 143.4L1317.2 143L1317.9 144L1318.6 143.9L1319.3 145.2L1320.1 143.8L1320.8 145.1L1321.5 144.3L1322.2 144.2L1322.9 144.5L1323.6 144.2L1324.4 144.5L1325.1 143.7L1325.8 142.8L1326.5 144.4L1327.2 143.8L1328 143.7L1328.7 142.4L1329.4 143.5L1330.1 143.8L1330.8 143.8L1331.5 144.6L1332.3 143.4L1333 143.9L1333.7 143.3L1334.4 142.7L1335.1 143.8L1335.8 144.1L1336.6 143.4L1337.3 143.9L1338 143.8L1338.7 143.9L1339.4 144L1340.1 143.7L1340.9 143.3L1341.6 142.9L1342.3 143.1L1343 142.9L1343.7 143L1344.4 143.6L1345.2 142.6L1345.9 143.2L1346.6 143.4L1347.3 143.4L1348 142.8L1348.7 143.4L1349.5 142.9L1350.2 143.8L1350.9 143.3L1351.6 141.9L1352.3 143.2L1353 142.8L1353.8 143.1L1354.5 142.6L1355.2 143.1L1355.9 142.6L1356.6 143.1L1357.3 141.7L1358.1 142.5L1358.8 142.5L1359.5 142.3L1360.2 142.7L1360.9 142.6L1361.6 142.5L1362.4 142L1363.1 141.7L1363.8 141.9L1364.5 140.9L1365.2 141.6L1365.9 141.6L1366.7 142L1367.4 142.3L1368.1 142.3L1368.8 141.5L1369.5 142.2L1370.2 142.7L1371 142.7L1371.7 141.4L1372.4 141.8L1373.1 142L1373.8 141.1L1374.5 141.6L1375.3 142.5L1376 142.2L1376.7 141.4L1377.4 141.7L1378.1 141L1378.8 141.9L1379.6 141.1L1380.3 141.3L1381 140.2L1381.7 141.2L1382.4 141.5L1383.1 141.9L1383.9 141.5L1384.6 142.1L1385.3 141.8L1386 141L1386.7 141.5L1387.4 140.5L1388.2 140.7L1388.9 140.8L1389.6 140.6L1390.3 141.7L1391 141L1391.7 141.5L1392.5 141.5L1393.2 141.9L1393.9 141.8L1394.6 140.5L1395.3 141.3L1396 141.6L1396.8 140.7L1397.5 140.7L1398.2 140.1L1398.9 140.9L1399.6 140L1400.3 140.1L1401.1 139.8L1401.8 139.6L1402.5 140.3L1403.2 141.3L1403.9 140L1404.6 140.2L1405.4 141L1406.1 140.4L1406.8 139.7L1407.5 139.7L1408.2 139.4L1408.9 139.9L1409.7 140.6L1410.4 140.4L1411.1 139.9L1411.8 140.5L1412.5 139.4L1413.2 139.8L1414 140.8L1414.7 139.6L1415.4 139.8L1416.1 140.3L1416.8 140.1L1417.6 139.9L1418.3 140.1L1419 139.4L1419.7 140L1420.4 139.5L1421.1 139.8L1421.9 139.9L1422.6 138.7L1423.3 138.7L1424 139.2L1424.7 139.3L1425.4 138.7L1426.2 139.2L1426.9 139.1L1427.6 139.3L1428.3 138.8L1429 138.7L1429.7 139.5L1430.5 138L1431.2 139.2L1431.9 140.2L1432.6 139.2L1433.3 138.6L1434 139.2L1434.8 138.2L1435.5 139.1L1436.2 138.3L1436.9 139.7L1437.6 139.1L1438.3 138.2L1439.1 138.6L1439.8 138.6L1440.5 138.3L1441.2 137.2L1441.9 137.9L1442.6 137.3L1443.4 137.1L1444.1 137.7L1444.8 137.1L1445.5 137.8L1446.2 138.4L1446.9 137.7L1447.7 138.7L1448.4 139.1L1449.1 138.8L1449.8 137.8L1450.5 138L1451.2 137.8L1452 137.9L1452.7 138.1L1453.4 138.7L1454.1 138.3L1454.8 137.8L1455.5 137.2L1456.3 137.4L1457 137.4L1457.7 136.7L1458.4 136.9L1459.1 137.7L1459.8 137L1460.6 137.3L1461.3 136.8L1462 135.9L1462.7 136.5L1463.4 135.8L1464.1 136.4L1464.9 135.6L1465.6 137.6L1466.3 137.1L1467 137.1L1467.7 136.9L1468.4 136.3L1469.2 137.1L1469.9 136.9L1470.6 138.1L1471.3 136.5L1472 135.3L1472.7 136.7L1473.5 136.6L1474.2 136.6L1474.9 136.3L1475.6 136L1476.3 135.7L1477 136.3L1477.8 136.5L1478.5 136.6L1479.2 136.5L1479.9 137L1480.6 135.6L1481.3 135.6L1482.1 136.9L1482.8 136.5L1483.5 136L1484.2 136.1L1484.9 136.2L1485.6 135.9L1486.4 136.4L1487.1 137.2L1487.8 135.5L1488.5 136L1489.2 136.4L1489.9 136.7L1490.7 136.5L1491.4 135.8L1492.1 136L1492.8 136.4L1493.5 135.8L1494.2 135.6L1495 136.3L1495.7 135.7L1496.4 135.3L1497.1 135.7L1497.8 134.9L1498.5 135.5L1499.3 135.9L1500 137L1500.7 135.9L1501.4 136.2L1502.1 135.9L1502.8 135.4L1503.6 135.5L1504.3 135L1505 135.8L1505.7 135L1506.4 135.5L1507.2 135.6L1507.9 134.9L1508.6 135.4L1509.3 135.5L1510 134.6L1510.7 134.9L1511.5 135.3L1512.2 134.7L1512.9 134.5L1513.6 134.8L1514.3 134.4L1515 134.5L1515.8 134.9L1516.5 134.3L1517.2 134.8L1517.9 133.5L1518.6 133.9L1519.3 133.6L1520.1 134.4L1520.8 135L1521.5 134.1L1522.2 134.6L1522.9 135.1L1523.6 134L1524.4 135.6L1525.1 133.5L1525.8 133.7L1526.5 133.1L1527.2 134.1L1527.9 133.1L1528.7 134.4L1529.4 134.5L1530.1 134.2L1530.8 134L1531.5 134.1L1532.2 134.6L1533 133.6L1533.7 133.2L1534.4 133.5L1535.1 134.8L1535.8 134.9L1536.5 134.7L1537.3 133.9L1538 135.1L1538.7 134.3L1539.4 134.6L1540.1 134.4L1540.8 134L1541.6 133.9L1542.3 133.7L1543 133.7L1543.7 134.7L1544.4 134.3L1545.1 133.5L1545.9 134L1546.6 134L1547.3 133.6L1548 133.2L1548.7 133.8L1549.4 132.7L1550.2 133.4L1550.9 132.9L1551.6 133.1L1552.3 133.7L1553 133.7L1553.7 133.7L1554.5 133.8L1555.2 132.9L1555.9 132.6L1556.6 134.6L1557.3 133.2L1558 133.3L1558.8 134L1559.5 133.7L1560.2 133.6L1560.9 132.1L1561.6 132.5L1562.3 133.4L1563.1 133.3L1563.8 133.3L1564.5 133.5L1565.2 133.5L1565.9 133.9L1566.6 133.6L1567.4 133.5L1568.1 132.7L1568.8 132.6L1569.5 132.9L1570.2 133.6L1570.9 131.8L1571.7 132.6L1572.4 132.3L1573.1 133.1L1573.8 132.5L1574.5 132.7L1575.2 132.1L1576 132.4L1576.7 132.8L1577.4 132.8L1578.1 133.4L1578.8 132.7L1579.5 132.8L1580.3 132.1L1581 133L1581.7 133.6L1582.4 133.4L1583.1 131.5L1583.8 133.6L1584.6 132.4L1585.3 132.3L1586 132.8L1586.7 132.6L1587.4 132.2L1588.1 132.2L1588.9 132.6L1589.6 132L1590.3 132.3L1591 133.4L1591.7 132.4L1592.4 130.9L1593.2 132.7L1593.9 132.1L1594.6 131.5L1595.3 132.7L1596 132.7L1596.8 132L1597.5 132.4L1598.2 131.1L1598.9 131.9L1599.6 131.6L1600.3 131.5L1601.1 132.9L1601.8 132.1L1602.5 130.8L1603.2 131.2L1603.9 132L1604.6 131.7L1605.4 131.7L1606.1 131.9L1606.8 130.9L1607.5 131.6L1608.2 130.3L1608.9 131.1L1609.7 130.7L1610.4 131.5L1611.1 131.7L1611.8 131L1612.5 131.3L1613.2 131.3L1614 130.2L1614.7 130.8L1615.4 131.6L1616.1 131.8L1616.8 131.3L1617.5 130L1618.3 130.9L1619 131.8L1619.7 132L1620.4 131L1621.1 130.8L1621.8 131.7L1622.6 131.7L1623.3 131.2L1624 131.3L1624.7 130.4L1625.4 130.4L1626.1 130.2L1626.9 130.1L1627.6 131L1628.3 130.6L1629 130.6L1629.7 130.9L1630.4 129.9L1631.2 131L1631.9 130.2L1632.6 130.5L1633.3 131.2L1634 130.4L1634.7 130.7L1635.5 130L1636.2 130.5L1636.9 130L1637.6 130.5L1638.3 130.5L1639 130.6L1639.8 130.6L1640.5 130.5L1641.2 131.9L1641.9 130.8L1642.6 131.2L1643.3 130.4L1644.1 130.5L1644.8 131.6L1645.5 130.9L1646.2 130.1L1646.9 130.2L1647.6 130.7L1648.4 130.1L1649.1 130.3L1649.8 129.3L1650.5 130.7L1651.2 129.5L1651.9 130.3L1652.7 129.4L1653.4 130L1654.1 130.1L1654.8 130L1655.5 130.6L1656.2 130L1657 130.3L1657.7 130.1L1658.4 128.7L1659.1 129.2L1659.8 129.7L1660.5 130.2L1661.3 130.3L1662 129.7L1662.7 130.1L1663.4 129.9L1664.1 129.7L1664.8 129.3L1665.6 129L1666.3 129.6L1667 130.5L1667.7 130.1L1668.4 130.1L1669.1 130.4L1669.9 130L1670.6 131L1671.3 129.7L1672 130.3L1672.7 130.4L1673.4 129.8L1674.2 129.5L1674.9 129.9L1675.6 130.4L1676.3 131L1677 130.1L1677.7 130.3L1678.5 130.7L1679.2 130.2L1679.9 130.1L1680.6 129.8L1681.3 129.8L1682 128.9L1682.8 129.5L1683.5 129.3L1684.2 130.4" stroke="#1f77b4"/>
<circle cx="968.12" cy="555.40" r="2.50" fill="#1f77b4"/><circle cx="1025.46" cy="212.18" r="2.50" fill="#1f77b4"/><circle cx="1082.80" cy="184.77" r="2.50" fill="#1f77b4"/><circle cx="1140.15" cy="167.35" r="2.50" fill="#1f77b4"/><circle cx="1197.49" cy="159.70" r="2.50" fill="#1f77b4"/><circle cx="1254.84" cy="152.51" r="2.50" fill="#1f77b4"/><circle cx="1312.18" cy="145.55" r="2.50" fill="#1f77b4"/><circle cx="1369.52" cy="142.18" r="2.50" fill="#1f77b4"/><circle cx="1426.87" cy="139.10" r="2.50" fill="#1f77b4"/><circle cx="1484.21" cy="136.06" r="2.50" fill="#1f77b4"/><circle cx="1541.56" cy="133.93" r="2.50" fill="#1f77b4"/><circle cx="1598.90" cy="131.86" r="2.50" fill="#1f77b4"/><circle cx="1656.24" cy="130.04" r="2.50" fill="#1f77b4"/>
<path d="M968.1 538.9L968.8 515L969.6 495L970.3 480.6L971 468.1L971.7 457.6L972.4 447.9L973.1 439.8L973.9 432.5L974.6 426.6L975.3 420.7L976 413.6L976.7 408.5L977.4 403.4L978.2 399.1L978.9 395.7L979.6 391.5L980.3 389.2L981 386.6L981.7 383.9L982.5 380.5L983.2 377.6L983.9 374.4L984.6 371.8L985.3 368.5L986 365.9L986.8 363L987.5 360.3L988.2 358.2L988.9 356.6L989.6 354.2L990.3 352L991.1 350.4L991.8 348.4L992.5 346.9L993.2 345.4L993.9 343.5L994.6 341.5L995.4 340.7L996.1 339.3L996.8 338.1L997.5 336.6L998.2 335.4L998.9 334.5L999.7 333L1000.4 331.8L1001.1 330.8L1001.8 330.1L1002.5 329.2L1003.2 328.2L1004 328.2L1004.7 326.7L1005.4 325.7L1006.1 325L1006.8 324.4L1007.5 323.2L1008.3 322.6L1009 321.6L1009.7 320.8L1010.4 320.3L1011.1 320.3L1011.8 319.1L1012.6 318.7L1013.3 317.4L1014 316.9L1014.7 316.3L1015.4 316.2L1016.1 315.9L1016.9 315.1L1017.6 314.2L1018.3 314.2L1019 313.8L1019.7 313.4L1020.4 312.5L1021.2 311.9L1021.9 311.2L1022.6 310.3L1023.3 310.2L1024 310.3L1024.7 309.4L1025.5 309L1026.2 308.6L1026.9 307.8L1027.6 307.5L1028.3 306.5L1029 306.1L1029.8 305.8L1030.5 305.4L1031.2 304.9L1031.9 304.3L1032.6 303.3L1033.3 302.8L1034.1 302.3L1034.8 301.8L1035.5 301.1L1036.2 301.2L1036.9 300.6L1037.6 300.1L1038.4 299.6L1039.1 298.8L1039.8 298.4L1040.5 298.6L1041.2 297.5L1041.9 297.3L1042.7 297.1L1043.4 296.4L1044.1 295L1044.8 294.6L1045.5 294L1046.2 293.4L1047 293.4L1047.7 292.9L1048.4 292.4L1049.1 291.5L1049.8 291L1050.5 291L1051.3 290.5L1052 290.6L1052.7 289.7L1053.4 289.4L1054.1 288.9L1054.8 287.3L1055.6 287.5L1056.3 287L1057 286.4L1057.7 286.2L1058.4 285.9L1059.2 285.7L1059.9 284.3L1060.6 283.9L1061.3 283.9L1062 284.2L1062.7 282.5L1063.5 282.4L1064.2 281.7L1064.9 281.7L1065.6 281L1066.3 280.6L1067 280.6L1067.8 280.1L1068.5 279.7L1069.2 279.2L1069.9 278.2L1070.6 278.3L1071.3 278.1L1072.1 276.8L1072.8 276.5L1073.5 276.8L1074.2 276.5L1074.9 275.7L1075.6 275.5L1076.4 274.8L1077.1 275L1077.8 274L1078.5 274.1L1079.2 273.4L1079.9 273L1080.7 272.9L1081.4 272.6L1082.1 273.1L1082.8 271.8L1083.5 271.6L1084.2 270.7L1085 271L1085.7 271.2L1086.4 270.7L1087.1 270.3L1087.8 269.6L1088.5 269.6L1089.3 269.8L1090 269.4L1090.7 269.2L1091.4 269.3L1092.1 269.2L1092.8 268.6L1093.6 268.8L1094.3 268.6L1095 268.2L1095.7 268.3L1096.4 267.8L1097.1 267.3L1097.9 267.2L1098.6 266.9L1099.3 266.6L1100 266.6L1100.7 266.3L1101.4 266.4L1102.2 266.3L1102.9 265.2L1103.6 264.9L1104.3 265L1105 265.3L1105.7 264.3L1106.5 264.5L1107.2 264.3L1107.9 264.4L1108.6 264.2L1109.3 264.4L1110 264.4L1110.8 263.9L1111.5 263.8L1112.2 263.6L1112.9 263L1113.6 262.8L1114.3 262.2L1115.1 262.5L1115.8 262.4L1116.5 261.8L1117.2 262L1117.9 262.1L1118.6 261.5L1119.4 261.5L1120.1 261.7L1120.8 261.1L1121.5 261.7L1122.2 260.8L1122.9 260.8L1123.7 260.4L1124.4 260.8L1125.1 260.6L1125.8 260L1126.5 260.1L1127.2 259.4L1128 260.2L1128.7 259.5L1129.4 259.8L1130.1 259.2L1130.8 259.3L1131.5 259.3L1132.3 259.1L1133 258.4L1133.7 258.5L1134.4 258.2L1135.1 258.4L1135.8 258.1L1136.6 258L1137.3 257.4L1138 257.1L1138.7 257.5L1139.4 257.3L1140.1 256.9L1140.9 257.1L1141.6 256.7L1142.3 257.3L1143 256.4L1143.7 255.9L1144.4 256L1145.2 255.4L1145.9 255.5L1146.6 255.2L1147.3 255.2L1148 254.6L1148.8 255L1149.5 254.1L1150.2 254.4L1150.9 254.7L1151.6 254.5L1152.3 254.4L1153.1 253.5L1153.8 254.4L1154.5 253.5L1155.2 253.7L1155.9 253.7L1156.6 253.8L1157.4 253L1158.1 252.9L1158.8 252.7L1159.5 253L1160.2 252.5L1160.9 252.6L1161.7 252.2L1162.4 251.5L1163.1 251.5L1163.8 251.5L1164.5 251.1L1165.2 251L1166 251.1L1166.7 251.3L1167.4 250.8L1168.1 250.9L1168.8 250.4L1169.5 250.2L1170.3 250.2L1171 250.1L1171.7 249L1172.4 249.1L1173.1 249.2L1173.8 248.8L1174.6 248.9L1175.3 249.4L1176 248.8L1176.7 249L1177.4 248.5L1178.1 248.5L1178.9 248.1L1179.6 247.7L1180.3 247.8L1181 247.6L1181.7 247.3L1182.4 247.5L1183.2 247L1183.9 247.7L1184.6 247.4L1185.3 247.2L1186 246.9L1186.7 246.8L1187.5 246.3L1188.2 246.8L1188.9 247L1189.6 246L1190.3 246.3L1191 245.9L1191.8 246.5L1192.5 245.9L1193.2 246.2L1193.9 246.1L1194.6 245.8L1195.3 245.9L1196.1 246.2L1196.8 245.6L1197.5 245L1198.2 244.4L1198.9 244.4L1199.6 244L1200.4 244L1201.1 244.9L1201.8 244.2L1202.5 244.5L1203.2 243.8L1203.9 244.1L1204.7 244.2L1205.4 243.6L1206.1 243.6L1206.8 243.1L1207.5 242.9L1208.2 243L1209 243.4L1209.7 243.6L1210.4 243L1211.1 242.8L1211.8 243.3L1212.5 242.9L1213.3 242.4L1214 242.9L1214.7 242.4L1215.4 241.7L1216.1 242.2L1216.8 241.6L1217.6 241.3L1218.3 241.9L1219 241.4L1219.7 241.5L1220.4 241.7L1221.1 241.8L1221.9 240.8L1222.6 241.4L1223.3 241.2L1224 241.4L1224.7 240.8L1225.4 240.5L1226.2 240.7L1226.9 240.2L1227.6 241L1228.3 240.3L1229 240L1229.7 240.1L1230.5 240.1L1231.2 240.1L1231.9 239.5L1232.6 240.3L1233.3 239.9L1234 239.4L1234.8 239.5L1235.5 239.8L1236.2 239.6L1236.9 239.6L1237.6 239.4L1238.4 239.3L1239.1 239L1239.8 238.8L1240.5 238.6L1241.2 238.7L1241.9 238L1242.7 237.7L1243.4 237.8L1244.1 238L1244.8 237.6L1245.5 237.5L1246.2 237.6L1247 237.5L1247.7 237.5L1248.4 237.7L1249.1 237.7L1249.8 237.3L1250.5 237.1L1251.3 237L1252 236.7L1252.7 236.6L1253.4 236.4L1254.1 236.5L1254.8 236.9L1255.6 235.9L1256.3 236.7L1257 236.1L1257.7 236.3L1258.4 236.5L1259.1 236.4L1259.9 235.9L1260.6 235.7L1261.3 235.5L1262 235.6L1262.7 235.5L1263.4 235.7L1264.2 235.3L1264.9 235.2L1265.6 235.2L1266.3 234.7L1267 234.9L1267.7 234.7L1268.5 234L1269.2 234L1269.9 234.2L1270.6 233.8L1271.3 234.3L1272 233.9L1272.8 233.5L1273.5 233.2L1274.2 233.4L1274.9 233.2L1275.6 232.9L1276.3 232.4L1277.1 233L1277.8 232.7L1278.5 232.2L1279.2 232.3L1279.9 233.1L1280.6 232.6L1281.4 232L1282.1 232.1L1282.8 231.9L1283.5 232.2L1284.2 231.8L1284.9 231.6L1285.7 231L1286.4 230.4L1287.1 231.1L1287.8 231L1288.5 231.4L1289.2 230.8L1290 230.9L1290.7 229.7L1291.4 230.3L1292.1 229.6L1292.8 230.4L1293.5 230.2L1294.3 230.1L1295 230.2L1295.7 229.8L1296.4 229.2L1297.1 229L1297.8 229.8L1298.6 229.5L1299.3 229.3L1300 228.9L1300.7 229L1301.4 229L1302.1 229.5L1302.9 228.8L1303.6 228.8L1304.3 228.7L1305 228.7L1305.7 227.5L1306.4 228.1L1307.2 227.1L1307.9 227.5L1308.6 227.2L1309.3 227.2L1310 227.8L1310.7 227L1311.5 227.2L1312.2 227.4L1312.9 227.2L1313.6 227.2L1314.3 227.3L1315 227.3L1315.8 227.4L1316.5 227.1L1317.2 227.5L1317.9 226.7L1318.6 226.8L1319.3 226.5L1320.1 226.5L1320.8 225.4L1321.5 226.3L1322.2 226.6L1322.9 226.2L1323.6 226.6L1324.4 226L1325.1 227.2L1325.8 226.6L1326.5 226.4L1327.2 226.1L1328 225.8L1328.7 225.8L1329.4 225.8L1330.1 225.3L1330.8 225.9L1331.5 225.5L1332.3 225.6L1333 225.1L1333.7 225.4L1334.4 225.1L1335.1 225.4L1335.8 225.3L1336.6 225.1L1337.3 225.6L1338 225.1L1338.7 224.7L1339.4 224.9L1340.1 224.9L1340.9 225.2L1341.6 225.4L1342.3 225.2L1343 224.1L1343.7 224.1L1344.4 224.4L1345.2 224.4L1345.9 224L1346.6 224.2L1347.3 224.6L1348 224.3L1348.7 224.6L1349.5 224.7L1350.2 223.8L1350.9 224.5L1351.6 223.9L1352.3 224L1353 224.1L1353.8 223.3L1354.5 222.8L1355.2 223.1L1355.9 223.5L1356.6 223.1L1357.3 223.4L1358.1 223.2L1358.8 223.6L1359.5 223.8L1360.2 223.7L1360.9 223.2L1361.6 223.2L1362.4 223L1363.1 222.8L1363.8 223L1364.5 223L1365.2 223.6L1365.9 223.2L1366.7 222.8L1367.4 221.9L1368.1 222.7L1368.8 222.4L1369.5 222.8L1370.2 223L1371 223.1L1371.7 222.4L1372.4 222.2L1373.1 222.3L1373.8 222.3L1374.5 221.5L1375.3 222L1376 222.4L1376.7 222.2L1377.4 222.9L1378.1 222.3L1378.8 222.3L1379.6 222.1L1380.3 221.9L1381 222.2L1381.7 221.7L1382.4 221.7L1383.1 221.7L1383.9 222L1384.6 221.4L1385.3 221.5L1386 221.8L1386.7 221.5L1387.4 221.7L1388.2 222.2L1388.9 221.6L1389.6 221.4L1390.3 221.3L1391 221.2L1391.7 221.5L1392.5 221.8L1393.2 222L1393.9 221.4L1394.6 221.2L1395.3 221.3L1396 221.2L1396.8 221L1397.5 220.7L1398.2 220.8L1398.9 221L1399.6 221L1400.3 220.9L1401.1 221L1401.8 220.8L1402.5 220.7L1403.2 220.4L1403.9 221.2L1404.6 220.7L1405.4 220.9L1406.1 221L1406.8 220.7L1407.5 220.5L1408.2 220.4L1408.9 220.4L1409.7 220.8L1410.4 220.4L1411.1 220.3L1411.8 220.4L1412.5 220.6L1413.2 220.5L1414 220.5L1414.7 220.7L1415.4 220.5L1416.1 220.4L1416.8 220.2L1417.6 220.4L1418.3 220.2L1419 220.3L1419.7 220L1420.4 219.6L1421.1 220L1421.9 220L1422.6 219.5L1423.3 220.1L1424 219.8L1424.7 219.5L1425.4 219.7L1426.2 219.7L1426.9 220L1427.6 219.6L1428.3 219.5L1429 220L1429.7 220L1430.5 219.9L1431.2 219.7L1431.9 220.1L1432.6 219.7L1433.3 219.5L1434 219.5L1434.8 219.5L1435.5 219.2L1436.2 219L1436.9 219.3L1437.6 219.4L1438.3 219.1L1439.1 218.9L1439.8 219.5L1440.5 219.1L1441.2 219.5L1441.9 219.2L1442.6 218.8L1443.4 218.6L1444.1 219L1444.8 218.4L1445.5 219.6L1446.2 218.8L1446.9 218.7L1447.7 218.1L1448.4 218.3L1449.1 218.5L1449.8 218.9L1450.5 218.2L1451.2 218.7L1452 218.5L1452.7 218L1453.4 218.5L1454.1 218L1454.8 218.2L1455.5 218.1L1456.3 218L1457 217.6L1457.7 218.2L1458.4 217.8L1459.1 217.5L1459.8 218.1L1460.6 217.7L1461.3 218.3L1462 217.5L1462.7 217.7L1463.4 217.8L1464.1 217.6L1464.9 218.3L1465.6 217.8L1466.3 217.2L1467 217.6L1467.7 217L1468.4 217.5L1469.2 217.5L1469.9 217.6L1470.6 216.8L1471.3 216.8L1472 216.7L1472.7 216.6L1473.5 216.9L1474.2 217L1474.9 217L1475.6 216L1476.3 216.9L1477 216.5L1477.8 216.3L1478.5 216.4L1479.2 216L1479.9 216.8L1480.6 216.6L1481.3 216.8L1482.1 216.2L1482.8 216.2L1483.5 216.4L1484.2 216.3L1484.9 216.4L1485.6 216.3L1486.4 216.6L1487.1 216.8L1487.8 216.3L1488.5 216.1L1489.2 216.2L1489.9 216.3L1490.7 216.3L1491.4 216.1L1492.1 216.2L1492.8 215.7L1493.5 216.3L1494.2 216.4L1495 215.5L1495.7 216L1496.4 215.5L1497.1 216L1497.8 215.2L1498.5 216.1L1499.3 216.2L1500 215.2L1500.7 215.2L1501.4 214.9L1502.1 215.7L1502.8 215.4L1503.6 215.2L1504.3 215L1505 215.5L1505.7 215.5L1506.4 215.8L1507.2 216L1507.9 215.9L1508.6 215.8L1509.3 215.3L1510 215.5L1510.7 215.8L1511.5 215.4L1512.2 215.2L1512.9 214.9L1513.6 214.7L1514.3 214.6L1515 214.3L1515.8 214.4L1516.5 214.7L1517.2 214.4L1517.9 214.7L1518.6 214.8L1519.3 215.1L1520.1 214.6L1520.8 214.9L1521.5 214.4L1522.2 214.5L1522.9 214.8L1523.6 214.5L1524.4 215.4L1525.1 214.7L1525.8 214.7L1526.5 215.2L1527.2 214.3L1527.9 215L1528.7 214.5L1529.4 214.6L1530.1 214.2L1530.8 215.1L1531.5 214.4L1532.2 214.1L1533 214.4L1533.7 214.8L1534.4 214.2L1535.1 214.4L1535.8 214.1L1536.5 214.1L1537.3 214.5L1538 214L1538.7 213.9L1539.4 214.4L1540.1 213.5L1540.8 214.1L1541.6 214L1542.3 213.6L1543 214.2L1543.7 214.6L1544.4 214.5L1545.1 213.7L1545.9 213.9L1546.6 213.7L1547.3 213.7L1548 214.3L1548.7 213.9L1549.4 213.8L1550.2 213.9L1550.9 213.4L1551.6 213.2L1552.3 213.5L1553 213.4L1553.7 213.5L1554.5 213.7L1555.2 213.5L1555.9 213.1L1556.6 213.1L1557.3 213.3L1558 213.3L1558.8 213.1L1559.5 212.6L1560.2 212.6L1560.9 212.5L1561.6 212.6L1562.3 212.4L1563.1 212.8L1563.8 212L1564.5 212.8L1565.2 212.9L1565.9 213L1566.6 212.6L1567.4 212.3L1568.1 212.2L1568.8 212L1569.5 212.1L1570.2 212.2L1570.9 212.2L1571.7 212.7L1572.4 212.1L1573.1 212.1L1573.8 212.1L1574.5 211.6L1575.2 212L1576 212L1576.7 212.3L1577.4 212.1L1578.1 212L1578.8 212.1L1579.5 211.9L1580.3 211.7L1581 212L1581.7 212.6L1582.4 211.7L1583.1 211.9L1583.8 211.4L1584.6 211.4L1585.3 211.3L1586 211.3L1586.7 211.3L1587.4 211.2L1588.1 211.1L1588.9 210.9L1589.6 211L1590.3 211.2L1591 210.6L1591.7 211.6L1592.4 211.4L1593.2 210.7L1593.9 211.2L1594.6 210.9L1595.3 210.7L1596 210.8L1596.8 210.8L1597.5 210.4L1598.2 210.9L1598.9 210.7L1599.6 210.9L1600.3 210.5L1601.1 211.2L1601.8 210.7L1602.5 210.7L1603.2 211.4L1603.9 210.5L1604.6 210.6L1605.4 210.4L1606.1 209.9L1606.8 210.2L1607.5 211.1L1608.2 210.1L1608.9 210.2L1609.7 210.7L1610.4 210.7L1611.1 209.8L1611.8 210.6L1612.5 210.7L1613.2 210.8L1614 209.7L1614.7 210.3L1615.4 210.7L1616.1 210.3L1616.8 210.1L1617.5 210.5L1618.3 210.7L1619 210.5L1619.7 210.6L1620.4 210.6L1621.1 210.1L1621.8 210.4L1622.6 210.2L1623.3 210.8L1624 210.5L1624.7 210.5L1625.4 210.1L1626.1 210.4L1626.9 209.9L1627.6 209.9L1628.3 209.8L1629 210.2L1629.7 210L1630.4 209.4L1631.2 209.5L1631.9 209.6L1632.6 209.9L1633.3 209.3L1634 209.4L1634.7 208.9L1635.5 210.5L1636.2 209.8L1636.9 209.6L1637.6 209.2L1638.3 210L1639 209.8L1639.8 209.8L1640.5 209.8L1641.2 209.6L1641.9 209.6L1642.6 210L1643.3 209.2L1644.1 209.4L1644.8 209.6L1645.5 209.6L1646.2 209.8L1646.9 209.8L1647.6 209.7L1648.4 210L1649.1 209.4L1649.8 209.9L1650.5 209.7L1651.2 210.2L1651.9 209.5L1652.7 209.5L1653.4 209.3L1654.1 208.7L1654.8 209.3L1655.5 209L1656.2 209L1657 209.3L1657.7 209.6L1658.4 209.1L1659.1 209.6L1659.8 209.5L1660.5 209.5L1661.3 209.5L1662 209.6L1662.7 209.6L1663.4 209.4L1664.1 209.4L1664.8 208.9L1665.6 209.2L1666.3 209L1667 209L1667.7 208.9L1668.4 208.9L1669.1 208.2L1669.9 208.7L1670.6 208.3L1671.3 208.9L1672 208.9L1672.7 208.6L1673.4 208.4L1674.2 208.7L1674.9 209.1L1675.6 208.9L1676.3 208.9L1677 209.3L1677.7 209.1L1678.5 209L1679.2 208.7L1679.9 208.5L1680.6 208.7L1681.3 208.8L1682 208.9L1682.8 208.8L1683.5 208.8L1684.2 208.9" stroke="#ff7f0e"/>
<polygon points="968.12,535.60 971.42,538.90 968.12,542.20 964.82,538.90" fill="#ff7f0e"/><polygon points="1025.46,305.72 1028.76,309.02 1025.46,312.32 1022.16,309.02" fill="#ff7f0e"/><polygon points="1082.80,268.55 1086.10,271.85 1082.80,275.15 1079.50,271.85" fill="#ff7f0e"/><polygon points="1140.15,253.65 1143.45,256.95 1140.15,260.25 1136.85,256.95" fill="#ff7f0e"/><polygon points="1197.49,241.68 1200.79,244.98 1197.49,248.28 1194.19,244.98" fill="#ff7f0e"/><polygon points="1254.84,233.56 1258.14,236.86 1254.84,240.16 1251.54,236.86" fill="#ff7f0e"/><polygon points="1312.18,224.10 1315.48,227.40 1312.18,230.70 1308.88,227.40" fill="#ff7f0e"/><polygon points="1369.52,219.48 1372.82,222.78 1369.52,226.08 1366.22,222.78" fill="#ff7f0e"/><polygon points="1426.87,216.68 1430.17,219.98 1426.87,223.28 1423.57,219.98" fill="#ff7f0e"/><polygon points="1484.21,212.96 1487.51,216.26 1484.21,219.56 1480.91,216.26" fill="#ff7f0e"/><polygon points="1541.56,210.72 1544.86,214.02 1541.56,217.32 1538.26,214.02" fill="#ff7f0e"/><polygon points="1598.90,207.40 1602.20,210.70 1598.90,214.00 1595.60,210.70" fill="#ff7f0e"/><polygon points="1656.24,205.73 1659.54,209.03 1656.24,212.33 1652.94,209.03" fill="#ff7f0e"/>
<path d="M968.1 396.2L968.8 350L969.6 330L970.3 321.6L971 315.3L971.7 310.1L972.4 306L973.1 303.9L973.9 302.7L974.6 299.3L975.3 295.7L976 294.8L976.7 291.9L977.4 291.8L978.2 289.3L978.9 285.6L979.6 284.6L980.3 287.4L981 284.4L981.7 282.1L982.5 281.7L983.2 281L983.9 280.6L984.6 281.5L985.3 277.5L986 276.4L986.8 274.4L987.5 274.6L988.2 272.4L988.9 269.7L989.6 270L990.3 268.6L991.1 268.8L991.8 269.3L992.5 266.4L993.2 267.5L993.9 268.2L994.6 266.7L995.4 265.9L996.1 267.7L996.8 266.4L997.5 264L998.2 263.6L998.9 263.1L999.7 263L1000.4 261.8L1001.1 262.6L1001.8 261.4L1002.5 261.9L1003.2 261.2L1004 262.1L1004.7 260.3L1005.4 262.5L1006.1 260.6L1006.8 259.6L1007.5 259.5L1008.3 258.8L1009 257.1L1009.7 258.3L1010.4 258.4L1011.1 256.1L1011.8 258L1012.6 255.1L1013.3 255.8L1014 254.1L1014.7 255L1015.4 253.4L1016.1 254.3L1016.9 253.7L1017.6 254.1L1018.3 252.9L1019 251.5L1019.7 251.9L1020.4 252.8L1021.2 251L1021.9 250.2L1022.6 250.3L1023.3 248.8L1024 248.7L1024.7 249.3L1025.5 248.7L1026.2 249.5L1026.9 248.5L1027.6 248.6L1028.3 248.9L1029 246.8L1029.8 247L1030.5 247.3L1031.2 247.9L1031.9 248.9L1032.6 248.6L1033.3 248.3L1034.1 247.6L1034.8 248.6L1035.5 247.9L1036.2 247.3L1036.9 248.8L1037.6 247.4L1038.4 247.1L1039.1 247.8L1039.8 246.3L1040.5 250.5L1041.2 248.7L1041.9 249.3L1042.7 248.4L1043.4 251L1044.1 248.9L1044.8 247.3L1045.5 247.9L1046.2 246.6L1047 246.8L1047.7 247.9L1048.4 247.5L1049.1 246.6L1049.8 246.3L1050.5 249.2L1051.3 247.4L1052 246.1L1052.7 247.9L1053.4 245.5L1054.1 248.6L1054.8 246.5L1055.6 246.6L1056.3 246.8L1057 246.1L1057.7 244.8L1058.4 246.5L1059.2 245.9L1059.9 246.2L1060.6 247.9L1061.3 248.5L1062 247.7L1062.7 248.6L1063.5 246.7L1064.2 246.1L1064.9 248.8L1065.6 248.1L1066.3 248.5L1067 246.6L1067.8 247.2L1068.5 247.2L1069.2 247.8L1069.9 247.2L1070.6 245.6L1071.3 246.4L1072.1 244.7L1072.8 247L1073.5 248.5L1074.2 249.2L1074.9 249.2L1075.6 247.6L1076.4 248.8L1077.1 247.1L1077.8 248.5L1078.5 248.1L1079.2 247.2L1079.9 248.2L1080.7 249.3L1081.4 247.4L1082.1 249L1082.8 247.2L1083.5 248.3L1084.2 246.9L1085 247.9L1085.7 247.3L1086.4 248.3L1087.1 248.3L1087.8 248.6L1088.5 247L1089.3 247.3L1090 247L1090.7 247.9L1091.4 247.5L1092.1 246.4L1092.8 246L1093.6 247.1L1094.3 247.2L1095 247.7L1095.7 245.6L1096.4 247.4L1097.1 247.7L1097.9 249L1098.6 247.8L1099.3 245.5L1100 246.2L1100.7 246.4L1101.4 245.8L1102.2 246.6L1102.9 244.9L1103.6 245.9L1104.3 246.3L1105 246.3L1105.7 247.2L1106.5 247L1107.2 247L1107.9 247L1108.6 246.2L1109.3 245.5L1110 246.3L1110.8 247.8L1111.5 246.8L1112.2 246.6L1112.9 247.1L1113.6 247.5L1114.3 247L1115.1 246.8L1115.8 246.1L1116.5 245.9L1117.2 246.2L1117.9 245.1L1118.6 244.4L1119.4 246.2L1120.1 247L1120.8 246.4L1121.5 246.1L1122.2 248.5L1122.9 247.4L1123.7 246.4L1124.4 247.3L1125.1 247.7L1125.8 245.1L1126.5 245.3L1127.2 245.9L1128 246.6L1128.7 245.6L1129.4 247.1L1130.1 246.2L1130.8 247.2L1131.5 245.9L1132.3 246L1133 246.3L1133.7 245.1L1134.4 244.5L1135.1 245L1135.8 244.2L1136.6 244.4L1137.3 244.9L1138 245.8L1138.7 245.5L1139.4 245.8L1140.1 244.6L1140.9 243.9L1141.6 246.4L1142.3 245.5L1143 246L1143.7 243.9L1144.4 244.3L1145.2 245.9L1145.9 244.8L1146.6 245.4L1147.3 244.2L1148 246.2L1148.8 243.6L1149.5 243.7L1150.2 243.8L1150.9 244L1151.6 244L1152.3 244.9L1153.1 245.1L1153.8 243.3L1154.5 244.7L1155.2 245.5L1155.9 244.6L1156.6 244L1157.4 243.9L1158.1 244.8L1158.8 245.2L1159.5 245.1L1160.2 245.1L1160.9 245.7L1161.7 245.8L1162.4 245L1163.1 244L1163.8 243.7L1164.5 244.4L1165.2 245.3L1166 245.3L1166.7 244.3L1167.4 243.8L1168.1 243.7L1168.8 243.7L1169.5 244.6L1170.3 242.4L1171 244L1171.7 243.9L1172.4 244.7L1173.1 244.1L1173.8 243.1L1174.6 244.7L1175.3 244.6L1176 244.5L1176.7 243.8L1177.4 243.6L1178.1 243.9L1178.9 243.6L1179.6 242.2L1180.3 244.1L1181 243.3L1181.7 243.2L1182.4 244.3L1183.2 243L1183.9 241.7L1184.6 243.3L1185.3 242.3L1186 242.7L1186.7 242.2L1187.5 242.2L1188.2 243.7L1188.9 242.6L1189.6 242.8L1190.3 243.2L1191 247.5L1191.8 247L1192.5 242.7L1193.2 243L1193.9 243.5L1194.6 244.7L1195.3 244.2L1196.1 243.3L1196.8 244.1L1197.5 243.1L1198.2 244.6L1198.9 245.7L1199.6 243.8L1200.4 245.4L1201.1 244.1L1201.8 244.3L1202.5 243.7L1203.2 243.8L1203.9 242.9L1204.7 244.1L1205.4 243.5L1206.1 243.4L1206.8 247.4L1207.5 244.6L1208.2 243.8L1209 244.9L1209.7 243L1210.4 242.7L1211.1 244.4L1211.8 244.2L1212.5 243.4L1213.3 245L1214 243.5L1214.7 245.3L1215.4 242.7L1216.1 243.4L1216.8 244.5L1217.6 244.8L1218.3 244.4L1219 242.9L1219.7 242.4L1220.4 243.3L1221.1 244.4L1221.9 243.1L1222.6 243L1223.3 241.8L1224 247.1L1224.7 243L1225.4 244.3L1226.2 243.4L1226.9 243.9L1227.6 243.6L1228.3 244.5L1229 244.9L1229.7 244.1L1230.5 244.8L1231.2 244.5L1231.9 244.1L1232.6 245.2L1233.3 245.9L1234 246.4L1234.8 244.6L1235.5 242.6L1236.2 245.9L1236.9 245.6L1237.6 245L1238.4 245.1L1239.1 244.8L1239.8 244.2L1240.5 246.3L1241.2 246L1241.9 245.3L1242.7 244.2L1243.4 244.2L1244.1 245.3L1244.8 244.9L1245.5 245.8L1246.2 244.2L1247 243.9L1247.7 243.9L1248.4 246.2L1249.1 246.6L1249.8 243.8L1250.5 244.4L1251.3 245.4L1252 246.7L1252.7 245.6L1253.4 246.1L1254.1 246.2L1254.8 245.8L1255.6 246.2L1256.3 245L1257 245L1257.7 247L1258.4 245.8L1259.1 245.1L1259.9 245.1L1260.6 244.5L1261.3 245.6L1262 244L1262.7 245.9L1263.4 246.5L1264.2 245.7L1264.9 246.6L1265.6 245L1266.3 245.4L1267 245.3L1267.7 244.3L1268.5 244.2L1269.2 244.8L1269.9 243.4L1270.6 243.8L1271.3 244.2L1272 246L1272.8 246.5L1273.5 245L1274.2 245.8L1274.9 246.3L1275.6 248L1276.3 246.4L1277.1 245.4L1277.8 246.3L1278.5 244.3L1279.2 244.8L1279.9 243.8L1280.6 244.2L1281.4 244.5L1282.1 245.1L1282.8 245.8L1283.5 245L1284.2 245.2L1284.9 245L1285.7 245.4L1286.4 246.2L1287.1 245.3L1287.8 244.8L1288.5 247.4L1289.2 246.2L1290 245.5L1290.7 243.7L1291.4 244.1L1292.1 246L1292.8 245.6L1293.5 245.6L1294.3 247.3L1295 245.8L1295.7 246.5L1296.4 246L1297.1 244.7L1297.8 244.7L1298.6 244.9L1299.3 244.3L1300 244.4L1300.7 245L1301.4 244.1L1302.1 245L1302.9 244.9L1303.6 245.5L1304.3 245.4L1305 247.6L1305.7 246.8L1306.4 251.7L1307.2 244.4L1307.9 245.1L1308.6 247.7L1309.3 246.3L1310 245.8L1310.7 245.2L1311.5 244.8L1312.2 245.5L1312.9 245.5L1313.6 244.5L1314.3 244.2L1315 243.3L1315.8 243.4L1316.5 244.1L1317.2 243.7L1317.9 243.4L1318.6 243.8L1319.3 243.3L1320.1 242.5L1320.8 244L1321.5 242.8L1322.2 244.5L1322.9 244L1323.6 245.2L1324.4 244.4L1325.1 244.3L1325.8 245.1L1326.5 245.3L1327.2 244.2L1328 246.5L1328.7 247.3L1329.4 246.3L1330.1 249.8L1330.8 245.8L1331.5 245.4L1332.3 244.4L1333 244.2L1333.7 245.4L1334.4 244.4L1335.1 244.3L1335.8 245.8L1336.6 245.4L1337.3 245.7L1338 244.8L1338.7 243.1L1339.4 244.3L1340.1 242.9L1340.9 244.8L1341.6 243.5L1342.3 246.6L1343 244L1343.7 246L1344.4 246.5L1345.2 243.7L1345.9 245.6L1346.6 245.5L1347.3 247.7L1348 245.9L1348.7 245.6L1349.5 244.3L1350.2 244.5L1350.9 244.1L1351.6 246L1352.3 244.9L1353 244.9L1353.8 243.5L1354.5 244.9L1355.2 245.1L1355.9 245.4L1356.6 244.9L1357.3 245.6L1358.1 242.5L1358.8 244.8L1359.5 244.4L1360.2 244.4L1360.9 244.9L1361.6 245.3L1362.4 243.9L1363.1 245.7L1363.8 244.1L1364.5 246L1365.2 245L1365.9 247L1366.7 244.1L1367.4 244.3L1368.1 245.4L1368.8 244.3L1369.5 245L1370.2 244.1L1371 244.4L1371.7 245.5L1372.4 246.5L1373.1 245.2L1373.8 246.1L1374.5 244.4L1375.3 242.8L1376 245L1376.7 245.6L1377.4 244.7L1378.1 244.5L1378.8 244.2L1379.6 244.5L1380.3 246.1L1381 246.2L1381.7 247.1L1382.4 247.6L1383.1 246.6L1383.9 245.1L1384.6 243.2L1385.3 244L1386 246.2L1386.7 244.8L1387.4 246.4L1388.2 244.5L1388.9 243.7L1389.6 244.5L1390.3 242.6L1391 242.3L1391.7 244L1392.5 244.5L1393.2 244.8L1393.9 244.7L1394.6 244.9L1395.3 242.8L1396 243.6L1396.8 243.1L1397.5 242.9L1398.2 243L1398.9 243.1L1399.6 243.4L1400.3 244.4L1401.1 244.1L1401.8 244.5L1402.5 242.6L1403.2 242.8L1403.9 243.5L1404.6 244.5L1405.4 242.8L1406.1 242.8L1406.8 244.2L1407.5 242.9L1408.2 245.5L1408.9 243.5L1409.7 243.4L1410.4 242.5L1411.1 244.1L1411.8 243.9L1412.5 244.4L1413.2 242.7L1414 244.3L1414.7 244.4L1415.4 243.4L1416.1 244.2L1416.8 243.8L1417.6 243.9L1418.3 244.5L1419 243.1L1419.7 243.7L1420.4 242.9L1421.1 243L1421.9 243L1422.6 244.5L1423.3 243.3L1424 242.8L1424.7 242.7L1425.4 243.4L1426.2 243.2L1426.9 244.3L1427.6 243L1428.3 243.6L1429 244.2L1429.7 243.8L1430.5 244.2L1431.2 245.2L1431.9 245.3L1432.6 245.1L1433.3 244.3L1434 244.8L1434.8 243.6L1435.5 242.4L1436.2 243.6L1436.9 243.2L1437.6 243L1438.3 243.4L1439.1 243.1L1439.8 243.3L1440.5 243.1L1441.2 242.5L1441.9 243.7L1442.6 246.9L1443.4 242.4L1444.1 244L1444.8 243.9L1445.5 244.3L1446.2 243.5L1446.9 243.4L1447.7 242.2L1448.4 243.2L1449.1 242.9L1449.8 242.6L1450.5 243.1L1451.2 243.3L1452 244.1L1452.7 244.2L1453.4 243.5L1454.1 242.4L1454.8 243L1455.5 243.9L1456.3 245.4L1457 243.2L1457.7 243.6L1458.4 244.4L1459.1 243.9L1459.8 245.1L1460.6 244.1L1461.3 244L1462 243.9L1462.7 245.8L1463.4 243.8L1464.1 248.3L1464.9 245.2L1465.6 244.7L1466.3 243.9L1467 242.5L1467.7 243L1468.4 241.9L1469.2 242.8L1469.9 243L1470.6 243.6L1471.3 242.3L1472 245.9L1472.7 243.9L1473.5 242.7L1474.2 243.3L1474.9 242.5L1475.6 244.3L1476.3 242.9L1477 243.7L1477.8 243.2L1478.5 243.2L1479.2 241.6L1479.9 244L1480.6 245.7L1481.3 242.3L1482.1 245.3L1482.8 244.4L1483.5 244.8L1484.2 243.9L1484.9 244.7L1485.6 245.6L1486.4 244L1487.1 243L1487.8 242.9L1488.5 244.2L1489.2 243.2L1489.9 244L1490.7 243.9L1491.4 245.1L1492.1 243.8L1492.8 243.6L1493.5 242.7L1494.2 243.1L1495 243.8L1495.7 243.7L1496.4 243.8L1497.1 243.9L1497.8 243.5L1498.5 243.7L1499.3 243.7L1500 245.5L1500.7 243.2L1501.4 243.3L1502.1 245.3L1502.8 243.8L1503.6 243L1504.3 244.3L1505 243.2L1505.7 244L1506.4 244L1507.2 243.8L1507.9 243.2L1508.6 245L1509.3 242.6L1510 243.2L1510.7 243.9L1511.5 243.2L1512.2 243.7L1512.9 243.6L1513.6 243.1L1514.3 246.7L1515 244.5L1515.8 245L1516.5 244.2L1517.2 244L1517.9 244.2L1518.6 244.1L1519.3 243.6L1520.1 244.8L1520.8 244.2L1521.5 245.6L1522.2 244L1522.9 244.4L1523.6 244.7L1524.4 245.2L1525.1 244.8L1525.8 244.3L1526.5 244.2L1527.2 244.9L1527.9 244.8L1528.7 243.3L1529.4 242.2L1530.1 243.7L1530.8 243.8L1531.5 244L1532.2 243.7L1533 247.5L1533.7 244L1534.4 243.7L1535.1 243.1L1535.8 243.2L1536.5 243L1537.3 243.1L1538 243.8L1538.7 244.5L1539.4 244.9L1540.1 243.6L1540.8 244.5L1541.6 244.4L1542.3 244.3L1543 244.5L1543.7 246.9L1544.4 245.2L1545.1 244.8L1545.9 244.2L1546.6 244L1547.3 245.6L1548 246.2L1548.7 244L1549.4 243.9L1550.2 244.2L1550.9 242.8L1551.6 243L1552.3 244.8L1553 243.1L1553.7 244.1L1554.5 243.8L1555.2 243.8L1555.9 243.9L1556.6 242.4L1557.3 243.5L1558 245.9L1558.8 244.5L1559.5 242.8L1560.2 243.7L1560.9 244.9L1561.6 244.7L1562.3 244.3L1563.1 244.2L1563.8 244.6L1564.5 244.2L1565.2 245.5L1565.9 244.2L1566.6 244.5L1567.4 245L1568.1 243.6L1568.8 243.3L1569.5 245.3L1570.2 245.1L1570.9 245.2L1571.7 246.5L1572.4 245.5L1573.1 243.2L1573.8 243.7L1574.5 242.7L1575.2 244L1576 243.4L1576.7 243.9L1577.4 243.6L1578.1 242.7L1578.8 244.1L1579.5 242.5L1580.3 242L1581 242.7L1581.7 241.8L1582.4 242.8L1583.1 243.5L1583.8 242.1L1584.6 243L1585.3 242.8L1586 244.3L1586.7 241.5L1587.4 243.4L1588.1 241.2L1588.9 240.9L1589.6 240.9L1590.3 238.6L1591 239.8L1591.7 241.3L1592.4 239L1593.2 239.3L1593.9 237.5L1594.6 239.3L1595.3 238.9L1596 239.2L1596.8 238L1597.5 238.9L1598.2 239.3L1598.9 238.3L1599.6 239.2L1600.3 239.3L1601.1 241.1L1601.8 239L1602.5 238.2L1603.2 237.9L1603.9 238.9L1604.6 238.2L1605.4 238L1606.1 239.3L1606.8 238.8L1607.5 239L1608.2 238.2L1608.9 237.6L1609.7 237.2L1610.4 237.3L1611.1 237L1611.8 238.1L1612.5 238.5L1613.2 237.2L1614 238.1L1614.7 238.5L1615.4 238.4L1616.1 239.2L1616.8 237.3L1617.5 238.9L1618.3 239.6L1619 237.7L1619.7 239.8L1620.4 238.7L1621.1 238.1L1621.8 239.1L1622.6 238.9L1623.3 238.5L1624 238.8L1624.7 237.7L1625.4 238.4L1626.1 238.9L1626.9 237.5L1627.6 236.9L1628.3 239L1629 237.2L1629.7 238.6L1630.4 236.6L1631.2 236.3L1631.9 238L1632.6 236.1L1633.3 237.1L1634 238.9L1634.7 236.5L1635.5 238.2L1636.2 238.5L1636.9 237.2L1637.6 238.5L1638.3 237.5L1639 237.7L1639.8 238.8L1640.5 237.9L1641.2 237.5L1641.9 239.3L1642.6 240.2L1643.3 239.4L1644.1 238.8L1644.8 238.1L1645.5 238.5L1646.2 239.9L1646.9 239.8L1647.6 240L1648.4 238.8L1649.1 237.7L1649.8 238.5L1650.5 239.4L1651.2 239.4L1651.9 238.7L1652.7 238.7L1653.4 238.2L1654.1 238.8L1654.8 236.9L1655.5 237.5L1656.2 239L1657 238.8L1657.7 239.1L1658.4 237.8L1659.1 239L1659.8 238.5L1660.5 236.9L1661.3 238.6L1662 237.8L1662.7 238.6L1663.4 237.5L1664.1 239.1L1664.8 238.2L1665.6 237.7L1666.3 239.1L1667 238.9L1667.7 238.3L1668.4 239.7L1669.1 237.3L1669.9 242L1670.6 239.8L1671.3 239.4L1672 239.5L1672.7 240.5L1673.4 240.1L1674.2 238.7L1674.9 239L1675.6 239.9L1676.3 238.8L1677 239.8L1677.7 238.6L1678.5 240.1L1679.2 240L1679.9 239.8L1680.6 240.2L1681.3 239.3L1682 240.8L1682.8 239.3L1683.5 240.3L1684.2 240.4" stroke="#17becf"/>
<circle cx="968.12" cy="396.20" r="2.50" fill="#17becf"/><circle cx="1025.46" cy="248.74" r="2.50" fill="#17becf"/><circle cx="1082.80" cy="247.24" r="2.50" fill="#17becf"/><circle cx="1140.15" cy="244.63" r="2.50" fill="#17becf"/><circle cx="1197.49" cy="243.06" r="2.50" fill="#17becf"/><circle cx="1254.84" cy="245.80" r="2.50" fill="#17becf"/><circle cx="1312.18" cy="245.47" r="2.50" fill="#17becf"/><circle cx="1369.52" cy="245.02" r="2.50" fill="#17becf"/><circle cx="1426.87" cy="244.26" r="2.50" fill="#17becf"/><circle cx="1484.21" cy="243.93" r="2.50" fill="#17becf"/><circle cx="1541.56" cy="244.36" r="2.50" fill="#17becf"/><circle cx="1598.90" cy="238.25" r="2.50" fill="#17becf"/><circle cx="1656.24" cy="239.04" r="2.50" fill="#17becf"/>
</g>
<line x1="967.40" y1="582.00" x2="967.40" y2="584.20" class="ax"/>
<text x="967.40" y="599.5" class="tk" text-anchor="middle">0</text>
<line x1="1110.76" y1="582.00" x2="1110.76" y2="584.20" class="ax"/>
<text x="1110.76" y="599.5" class="tk" text-anchor="middle">200</text>
<line x1="1254.12" y1="582.00" x2="1254.12" y2="584.20" class="ax"/>
<text x="1254.12" y="599.5" class="tk" text-anchor="middle">400</text>
<line x1="1397.48" y1="582.00" x2="1397.48" y2="584.20" class="ax"/>
<text x="1397.48" y="599.5" class="tk" text-anchor="middle">600</text>
<line x1="1540.84" y1="582.00" x2="1540.84" y2="584.20" class="ax"/>
<text x="1540.84" y="599.5" class="tk" text-anchor="middle">800</text>
<line x1="1684.20" y1="582.00" x2="1684.20" y2="584.20" class="ax"/>
<text x="1684.20" y="599.5" class="tk" text-anchor="middle">1000</text>
<line x1="929.70" y1="510.50" x2="932.50" y2="510.50" class="ax"/>
<text x="928.00" y="517.35" class="tk" text-anchor="end">6</text>
<line x1="929.70" y1="402.72" x2="932.50" y2="402.72" class="ax"/>
<text x="928.00" y="409.57" class="tk" text-anchor="end">8</text>
<line x1="929.70" y1="294.94" x2="932.50" y2="294.94" class="ax"/>
<text x="928.00" y="301.79" class="tk" text-anchor="end">10</text>
<line x1="929.70" y1="187.16" x2="932.50" y2="187.16" class="ax"/>
<text x="928.00" y="194.01" class="tk" text-anchor="end">12</text>
<line x1="929.70" y1="79.38" x2="932.50" y2="79.38" class="ax"/>
<text x="928.00" y="86.23" class="tk" text-anchor="end">14</text>
<text x="1326.10" y="622" class="xl" text-anchor="middle">Epochs</text>
<text transform="translate(898.50 291.4) rotate(-90)" class="yl" text-anchor="middle">Accuracy</text>
<rect x="932.50" y="0.50" width="787.40" height="581.50" fill="none" class="ax"/>
<rect x="1415.70" y="265.80" width="296.0" height="307.5" rx="3.5" ry="3.5" fill="#fff" fill-opacity="0.8" stroke="#dcdcdc" stroke-width="1"/>
<line x1="1421.90" y1="279.60" x2="1457.40" y2="279.60" stroke="#1f77b4" stroke-width="1.15"/>
<circle cx="1439.65" cy="279.60" r="2.42" fill="#1f77b4"/>
<text x="1470.40" y="286.00" class="lg">Leaky-ReLU+Adam+CE</text>
<line x1="1421.90" y1="304.82" x2="1457.40" y2="304.82" stroke="#2ca02c" stroke-width="1.15"/>
<polygon points="1439.65,301.43 1443.05,308.05 1436.26,308.05" fill="#2ca02c"/>
<text x="1470.40" y="311.22" class="lg">Leaky-ReLU+AdamW+CE</text>
<line x1="1421.90" y1="330.04" x2="1457.40" y2="330.04" stroke="#9467bd" stroke-width="1.15"/>
<polygon points="1443.05,330.04 1436.42,326.65 1436.42,333.44" fill="#9467bd"/>
<text x="1470.40" y="336.44" class="lg">Leaky-ReLU+Adamax+CE</text>
<line x1="1421.90" y1="355.26" x2="1457.40" y2="355.26" stroke="#8c564b" stroke-width="1.15"/>
<circle cx="1439.65" cy="355.26" r="2.42" fill="#8c564b"/>
<text x="1470.40" y="361.66" class="lg">Leaky-ReLU+Adamax+MSE</text>
<line x1="1421.90" y1="380.48" x2="1457.40" y2="380.48" stroke="#e377c2" stroke-width="1.15"/>
<rect x="1437.23" y="378.06" width="4.85" height="4.85" fill="#e377c2"/>
<text x="1470.40" y="386.88" class="lg">CELU+Adam+CE</text>
<line x1="1421.90" y1="405.70" x2="1457.40" y2="405.70" stroke="#bcbd22" stroke-width="1.15"/>
<circle cx="1439.65" cy="405.70" r="1.94" fill="#bcbd22"/>
<text x="1470.40" y="412.10" class="lg">CELU+AdamW+CE</text>
<line x1="1421.90" y1="430.92" x2="1457.40" y2="430.92" stroke="#1f77b4" stroke-width="1.15"/>
<circle cx="1439.65" cy="430.92" r="2.42" fill="#1f77b4"/>
<text x="1470.40" y="437.32" class="lg">CELU+Adamax+CE</text>
<line x1="1421.90" y1="456.14" x2="1457.40" y2="456.14" stroke="#ff7f0e" stroke-width="1.15"/>
<polygon points="1439.65,459.53 1443.05,452.91 1436.26,452.91" fill="#ff7f0e"/>
<text x="1470.40" y="462.54" class="lg">Leaky-ReLU+ADAM+MSE</text>
<line x1="1421.90" y1="481.36" x2="1457.40" y2="481.36" stroke="#7f7f7f" stroke-width="1.15"/>
<circle cx="1439.65" cy="481.36" r="2.42" fill="#7f7f7f"/>
<text x="1470.40" y="487.76" class="lg">CELU+Adam+MSE</text>
<line x1="1421.90" y1="506.58" x2="1457.40" y2="506.58" stroke="#d62728" stroke-width="1.15"/>
<polygon points="1436.26,506.58 1442.88,503.19 1442.88,509.98" fill="#d62728"/>
<text x="1470.40" y="512.98" class="lg">Leaky-ReLU+AdamW+MSE</text>
<line x1="1421.90" y1="531.80" x2="1457.40" y2="531.80" stroke="#ff7f0e" stroke-width="1.15"/>
<polygon points="1439.65,528.60 1442.85,531.80 1439.65,535.00 1436.45,531.80" fill="#ff7f0e"/>
<text x="1470.40" y="538.20" class="lg">Celu+Adamax+MSE</text>
<line x1="1421.90" y1="557.02" x2="1457.40" y2="557.02" stroke="#17becf" stroke-width="1.15"/>
<circle cx="1439.65" cy="557.02" r="2.42" fill="#17becf"/>
<text x="1470.40" y="563.42" class="lg">CELU+AdamW+MSE</text>
<text class="cap" font-size="39.5" transform="translate(143.45 669.4) scale(1.0891 1)">(a)</text>
<text class="cap" font-size="43.0" transform="translate(206.34 669.4) scale(0.8977 1)">A</text>
<text class="cap" font-size="39.5" transform="translate(235.25 669.4) scale(1.0339 1)">ccuracy</text>
<text class="cap" font-size="39.5" transform="translate(379.99 669.4) scale(1.0067 1)">for</text>
<text class="cap" font-size="39.5" transform="translate(442.25 669.4) scale(1.1247 1)">the</text>
<text class="cap" font-size="39.5" transform="translate(509.36 669.4) scale(1.1035 1)">training</text>
<text class="cap" font-size="39.5" transform="translate(657.24 669.4) scale(1.0974 1)">set</text>
<text class="cap" font-size="39.5" transform="translate(1006.58 669.4) scale(1.0728 1)">(b)</text>
<text class="cap" font-size="43.0" transform="translate(1072.04 669.4) scale(0.8977 1)">A</text>
<text class="cap" font-size="39.5" transform="translate(1100.94 669.4) scale(1.0405 1)">ccuracy</text>
<text class="cap" font-size="39.5" transform="translate(1244.78 669.4) scale(1.0180 1)">for</text>
<text class="cap" font-size="39.5" transform="translate(1306.85 669.4) scale(1.1333 1)">the</text>
<text class="cap" font-size="39.5" transform="translate(1376.30 669.4) scale(1.0610 1)">validation</text>
<text class="cap" font-size="39.5" transform="translate(1556.85 669.4) scale(1.0950 1)">set</text>
</svg></body></html>
